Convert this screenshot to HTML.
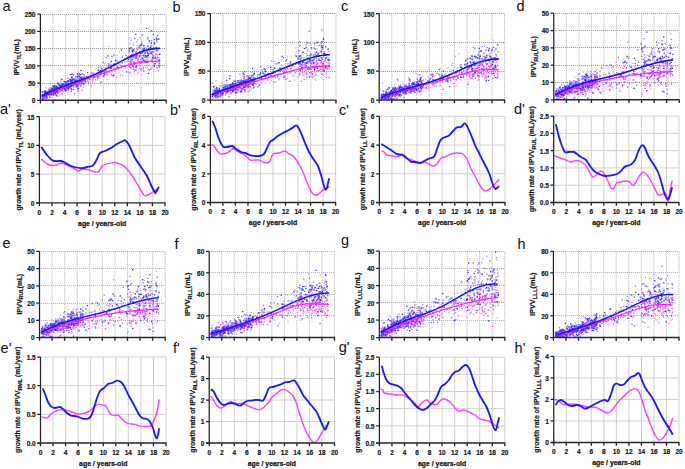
<!DOCTYPE html>
<html><head><meta charset="utf-8"><style>
html,body{margin:0;padding:0;background:#fff;}
svg{display:block;}
text{font-family:"Liberation Sans",sans-serif;}
.tk{font-size:7.9px;letter-spacing:-0.1px;font-weight:bold;fill:#1a1a1a;stroke:#1a1a1a;stroke-width:0.22px;}
.xl{font-size:6.9px;font-weight:bold;fill:#1a1a1a;stroke:#1a1a1a;stroke-width:0.25px;}
.yl{font-size:7.3px;font-weight:bold;fill:#1a1a1a;stroke:#1a1a1a;stroke-width:0.22px;}
.yl2{font-size:7.2px;font-weight:bold;fill:#1a1a1a;stroke:#1a1a1a;stroke-width:0.2px;}
.sb{font-size:5.8px;}
.lt{font-size:14.5px;fill:#111;}
</style></head><body>
<svg width="685" height="469" viewBox="0 0 685 469">
<rect width="685" height="469" fill="#fff"/>
<path d="M52.98,100V14.00M65.56,100V14.00M78.14,100V14.00M90.72,100V14.00M103.30,100V14.00M115.88,100V14.00M128.46,100V14.00M141.04,100V14.00M153.62,100V14.00M166.20,100V14.00" stroke="#f0f0f0" stroke-width="0.9" fill="none"/>
<path d="M52.98,100V14.00M65.56,100V14.00M78.14,100V14.00M90.72,100V14.00M103.30,100V14.00M115.88,100V14.00M128.46,100V14.00M141.04,100V14.00M153.62,100V14.00M166.20,100V14.00" stroke="#bababa" stroke-width="0.9" stroke-dasharray="1,1" fill="none"/>
<path d="M40,83.50H166.20M40,65.50H166.20M40,48.50H166.20M40,31.50H166.20M40,14.50H166.20" stroke="#a6a6a6" stroke-width="1" stroke-dasharray="1.2,0.8" fill="none"/>
<path d="M139.4 48.4h0M69.4 81.3h0M60.8 91.8h0M49.9 91.9h0M61.8 84.7h0M125.8 68.2h0M82.6 83.2h0M102.1 73.1h0M149.1 71.9h0M58.9 90.4h0M122.6 70.8h0M149.5 57.2h0M80.5 82.6h0M139.3 62.4h0M54.5 90.3h0M55.4 90.1h0M127.6 62.0h0M147.4 65.0h0M61.7 91.0h0M51.6 92.9h0M51.1 95.1h0M134.5 64.0h0M128.7 66.7h0M133.2 50.8h0M150.9 67.8h0M138.3 72.4h0M157.5 69.6h0M81.2 79.2h0M131.3 64.3h0M143.4 70.3h0M140.2 52.4h0M83.4 81.4h0M66.6 83.5h0M63.3 87.6h0M46.4 92.7h0M137.4 57.0h0M57.4 92.2h0M82.6 82.8h0M152.2 62.5h0M150.7 53.2h0M151.4 46.7h0M69.4 84.7h0M134.1 73.6h0M143.4 67.4h0M135.1 66.4h0M92.0 72.8h0M149.6 59.1h0M83.8 80.6h0M137.2 64.6h0M80.0 78.4h0M151.6 67.7h0M51.5 92.9h0M45.8 94.4h0M54.2 95.5h0M60.8 91.9h0M139.7 56.3h0M156.7 60.8h0M75.5 81.9h0M138.5 55.5h0M147.4 57.9h0M159.8 63.1h0M75.2 82.2h0M125.8 55.9h0M93.7 72.8h0M68.6 89.8h0M65.5 86.5h0M133.3 58.0h0M62.2 84.2h0M126.7 72.4h0M129.9 61.8h0M78.5 83.8h0M119.5 72.2h0M129.5 63.7h0M71.4 84.1h0M75.2 78.7h0M149.3 50.3h0M145.7 68.0h0M135.6 66.5h0M72.3 83.2h0M48.6 93.9h0M75.0 80.1h0M50.6 94.9h0M81.3 77.6h0M131.0 62.9h0M139.1 61.1h0M42.7 94.5h0M46.0 96.7h0M53.2 91.0h0M121.1 61.9h0M77.3 76.2h0M42.7 96.7h0M48.5 92.9h0M59.5 91.5h0M73.2 84.0h0M77.6 85.0h0M136.3 57.9h0M68.5 85.5h0M157.1 65.6h0M61.5 91.9h0M78.0 82.6h0M53.5 93.2h0M68.5 85.4h0M67.3 86.8h0M104.8 63.3h0M57.3 89.3h0M80.0 76.9h0M72.3 86.2h0M60.8 87.7h0M147.9 54.1h0M68.3 82.7h0M103.9 76.4h0M44.2 93.9h0M148.7 57.2h0M51.3 92.5h0M88.0 84.1h0M60.3 88.4h0M95.5 68.9h0M66.3 87.1h0M48.9 91.8h0M43.8 91.3h0M148.6 69.7h0M129.3 54.0h0M57.0 91.5h0M45.7 96.0h0M46.0 94.1h0M76.7 79.3h0M152.1 60.5h0M69.2 88.8h0M149.8 57.5h0M154.3 65.0h0M82.0 80.2h0M133.1 62.6h0M76.6 84.6h0M71.1 82.2h0M75.9 83.2h0M62.3 84.2h0M132.4 65.3h0M63.4 86.4h0M134.3 50.0h0M52.7 90.0h0M149.2 65.1h0M133.0 66.0h0M82.9 78.3h0M84.3 80.9h0M77.4 73.7h0M136.0 66.9h0M62.1 88.7h0M137.2 56.7h0M64.8 88.0h0M136.8 83.0h0M133.8 58.5h0M101.5 66.4h0M55.7 93.9h0M68.7 85.2h0M74.6 84.5h0M151.9 60.3h0M46.2 97.4h0M66.9 84.8h0M84.9 76.3h0M133.6 57.2h0M82.6 82.6h0M63.3 88.5h0M148.9 53.5h0M159.3 57.6h0M78.9 80.0h0M44.7 90.5h0M81.0 82.4h0M149.6 61.6h0M76.8 83.4h0M97.0 75.7h0M46.0 96.4h0M143.7 50.7h0M148.0 66.8h0M60.1 88.3h0M78.4 75.2h0M52.8 92.7h0M43.1 94.8h0M76.6 82.0h0M84.4 79.4h0" stroke="#ff33ff" stroke-opacity="0.35" stroke-width="1.35" stroke-linecap="square" fill="none"/>
<path d="M155.8 62.4h0M62.2 88.6h0M42.4 97.8h0M68.9 83.2h0M143.2 69.2h0M113.7 74.4h0M50.0 90.6h0M55.1 94.1h0M146.0 60.0h0M158.0 59.9h0M42.7 99.3h0M124.5 66.3h0M53.5 91.9h0M55.4 93.0h0M52.8 87.3h0M51.1 89.6h0M78.2 88.3h0M156.2 60.2h0M152.4 62.2h0M114.1 75.5h0M82.0 77.4h0M54.0 89.5h0M136.8 48.2h0M132.5 52.3h0M57.6 89.4h0M131.6 59.8h0M60.1 89.0h0M57.5 89.7h0M81.5 83.5h0M122.6 75.6h0M64.0 88.7h0M53.1 91.4h0M146.7 60.2h0M73.1 85.0h0M47.5 92.9h0M134.6 62.3h0M70.6 87.8h0M105.3 68.3h0M66.4 85.7h0M49.5 93.3h0M111.2 64.3h0M66.1 85.7h0M81.7 78.3h0M129.7 63.5h0M48.3 94.9h0M80.3 85.5h0M107.2 79.6h0M50.0 89.8h0M93.6 77.0h0M145.5 67.0h0M139.7 68.6h0M157.8 51.4h0M59.4 90.2h0M45.0 95.5h0M61.4 86.9h0M145.4 57.1h0M100.5 66.6h0M68.4 90.9h0M65.9 82.3h0M110.1 67.5h0M130.4 72.2h0M78.1 81.2h0M138.7 72.1h0M152.9 61.6h0M83.5 77.7h0M91.1 85.9h0M156.9 54.2h0M76.4 82.8h0M116.5 77.1h0M68.6 90.2h0M57.9 82.7h0M108.6 72.9h0M82.0 90.5h0M71.1 82.6h0M59.9 90.8h0M66.6 87.9h0M57.4 91.0h0M79.3 84.1h0M51.7 90.4h0M55.0 94.4h0M106.2 74.6h0M153.3 58.3h0M42.9 96.4h0M70.4 85.4h0M48.9 88.3h0M137.6 61.1h0M74.9 85.3h0M147.7 57.2h0M42.3 94.7h0M135.9 59.9h0M45.9 98.0h0M133.4 53.8h0M78.3 72.4h0M49.7 90.7h0M159.4 61.4h0M53.7 90.2h0M141.5 62.3h0M133.1 65.4h0M75.9 76.5h0M53.9 88.9h0M131.2 64.8h0M75.4 81.1h0M141.6 74.8h0M145.3 53.3h0M116.2 67.7h0M145.8 60.5h0M79.0 82.1h0M127.0 61.2h0M135.6 58.7h0M73.2 89.5h0M54.9 88.3h0M59.7 88.2h0M77.8 83.7h0M60.3 90.9h0M156.8 57.6h0M131.7 61.0h0M83.4 76.8h0M59.1 87.8h0M80.8 85.9h0M157.4 58.2h0M49.9 94.5h0M55.0 88.4h0M57.8 92.5h0M45.5 94.7h0M157.9 51.4h0M57.0 89.4h0M78.0 89.6h0M42.4 98.5h0M59.0 94.9h0M142.2 58.2h0M57.1 91.9h0M45.1 98.3h0M146.0 47.8h0M84.1 78.1h0M92.5 80.4h0M130.2 63.1h0M73.3 78.8h0M139.6 64.9h0M154.0 65.0h0M132.8 66.6h0M82.6 82.2h0M114.3 66.9h0M76.8 80.5h0M71.9 85.8h0M106.9 66.1h0M45.7 87.7h0M50.5 92.5h0M71.1 85.1h0M49.7 94.4h0M66.2 88.4h0M61.0 90.0h0M55.2 92.1h0M89.8 79.2h0M140.0 47.7h0M67.0 84.6h0M137.3 73.9h0M63.1 87.2h0M82.2 81.4h0M155.9 50.0h0M80.6 80.9h0M70.5 86.3h0M77.9 83.5h0M143.2 69.8h0" stroke="#ff33ff" stroke-opacity="0.60" stroke-width="1.35" stroke-linecap="square" fill="none"/>
<path d="M42.8 94.6h0M87.8 81.0h0M62.3 88.0h0M139.1 56.1h0M67.2 84.2h0M58.4 90.4h0M53.4 91.5h0M137.8 61.0h0M132.6 65.8h0M158.9 63.9h0M54.8 94.0h0M52.3 92.6h0M42.5 96.0h0M130.7 62.2h0M53.4 86.6h0M43.9 94.8h0M76.1 82.7h0M51.1 94.3h0M77.6 86.1h0M113.5 64.4h0M101.7 73.5h0M44.0 97.3h0M102.5 73.6h0M111.6 75.0h0M60.3 86.8h0M71.7 85.8h0M79.6 77.2h0M155.0 63.6h0M131.1 67.8h0M46.7 98.4h0M92.5 83.0h0M69.1 87.0h0M116.9 61.4h0M73.4 84.8h0M110.0 65.3h0M60.3 85.5h0M129.1 72.9h0M143.2 67.4h0M49.0 95.4h0M73.2 79.2h0M159.4 63.7h0M120.5 74.9h0M107.0 75.1h0M95.9 77.1h0M129.6 66.6h0M140.0 63.4h0M99.0 78.1h0M132.9 56.2h0M152.0 54.4h0M82.4 80.8h0M81.9 81.2h0M76.2 82.2h0M49.0 93.5h0M63.2 86.4h0M134.6 71.5h0M48.8 94.1h0M72.6 80.9h0M157.0 68.0h0M54.9 90.8h0M48.0 94.3h0M79.9 78.3h0M81.6 83.4h0M135.5 67.3h0M45.6 93.0h0M93.1 73.4h0M59.1 91.8h0M154.6 57.7h0M76.8 84.5h0M105.3 72.5h0M89.8 79.9h0M134.9 55.7h0M145.5 60.8h0M144.8 62.4h0M56.7 92.3h0M136.5 67.5h0M132.3 64.9h0M54.8 90.7h0M53.6 91.6h0M159.4 67.2h0M67.1 87.7h0M46.1 95.5h0M64.2 88.9h0M61.6 84.0h0M118.0 65.8h0M148.1 54.3h0M76.2 83.9h0M106.9 73.5h0M58.4 85.3h0M61.0 89.8h0M159.7 60.2h0M77.9 84.8h0M156.0 54.5h0M59.6 84.6h0M68.9 88.0h0M64.9 86.4h0M61.4 85.5h0M62.5 88.4h0M57.6 90.2h0M57.4 87.5h0M58.2 89.7h0M74.4 93.9h0M66.9 88.2h0M54.1 91.6h0M100.7 73.8h0M52.9 89.7h0M153.3 56.4h0M55.4 93.4h0M105.9 71.0h0M67.9 78.4h0M62.1 90.8h0M58.0 89.0h0M78.3 84.9h0M83.6 83.7h0M143.9 71.4h0M55.2 90.0h0M138.2 59.6h0M158.0 57.4h0M136.3 56.4h0M81.1 82.1h0M159.5 65.9h0M92.1 73.7h0M54.7 89.6h0M81.6 84.1h0M73.2 82.4h0M68.9 87.3h0M54.6 91.4h0M43.8 96.8h0M45.4 96.2h0M143.8 60.6h0M44.5 93.5h0M62.2 93.9h0M69.4 84.7h0M97.7 76.2h0M136.5 55.0h0M86.5 76.3h0M121.5 66.4h0M157.4 55.8h0M51.4 88.6h0M61.8 88.3h0M52.8 93.7h0M135.4 69.8h0M62.0 89.9h0M135.1 56.7h0M48.2 94.6h0M42.5 95.2h0M60.9 81.1h0M58.0 89.1h0M45.6 96.3h0M58.2 87.3h0M138.1 58.5h0M136.9 65.1h0M57.3 92.0h0M133.8 69.2h0M132.6 59.4h0M143.2 67.9h0M60.2 87.0h0M141.0 68.6h0M104.2 73.9h0" stroke="#ff33ff" stroke-opacity="0.90" stroke-width="1.35" stroke-linecap="square" fill="none"/>
<path d="M65.8 89.8h0M132.1 57.5h0M49.5 96.8h0M79.0 76.5h0M44.6 97.4h0M100.7 74.0h0M43.7 97.5h0M119.3 51.8h0M51.5 89.3h0M137.7 39.8h0M114.9 64.6h0M58.1 90.1h0M45.8 91.4h0M71.3 79.0h0M49.6 92.7h0M67.3 87.3h0M129.7 38.0h0M126.0 66.0h0M156.9 59.1h0M89.0 74.9h0M137.8 53.5h0M134.1 61.4h0M155.3 56.2h0M60.2 85.7h0M69.0 84.9h0M146.1 57.3h0M141.7 41.7h0M128.9 66.0h0M152.3 56.1h0M59.8 84.1h0M67.0 83.0h0M65.1 89.9h0M50.4 87.9h0M42.7 92.3h0M143.6 49.7h0M61.1 85.2h0M109.6 67.5h0M120.0 64.8h0M156.8 38.3h0M67.5 86.9h0M53.1 89.7h0M158.1 48.9h0M67.6 87.6h0M68.7 87.5h0M58.9 89.3h0M151.1 46.3h0M71.9 80.5h0M59.1 87.4h0M50.1 97.5h0M46.4 96.2h0M75.7 84.5h0M91.2 72.9h0M64.5 86.9h0M138.1 46.5h0M54.2 88.4h0M72.6 82.5h0M79.6 83.1h0M59.2 86.6h0M83.2 87.4h0M84.9 79.6h0M154.7 51.5h0M137.0 56.1h0M110.7 62.3h0M133.9 55.9h0M132.3 44.5h0M142.3 49.2h0M53.7 93.7h0M108.6 46.3h0M151.3 51.9h0M148.9 41.0h0M158.6 70.5h0M96.7 73.4h0M80.8 84.5h0M99.8 72.0h0M60.9 86.0h0M159.4 48.3h0M73.0 78.8h0M53.0 91.3h0M84.4 77.7h0M82.9 79.0h0M139.6 55.9h0M141.6 51.2h0M130.3 67.7h0M132.5 54.1h0M50.7 94.1h0M147.0 61.8h0M143.1 55.1h0M98.2 70.2h0M90.7 75.4h0M158.8 54.5h0M51.9 91.8h0M118.2 68.1h0M73.3 86.0h0M70.1 80.9h0M123.4 59.8h0M130.1 68.0h0M135.1 63.8h0M57.8 83.8h0M158.7 38.8h0M71.0 84.6h0M105.1 69.8h0M51.0 93.9h0M54.4 88.1h0M144.9 49.4h0M152.2 67.1h0M144.1 52.3h0M95.6 79.6h0M52.9 91.4h0M56.7 86.8h0M71.3 91.8h0M133.6 42.9h0M76.6 78.7h0M74.6 83.7h0M75.1 78.5h0M45.5 94.2h0M44.0 94.9h0M80.0 74.9h0M76.5 78.9h0M43.5 97.6h0M61.0 86.6h0M47.0 92.3h0M132.0 50.1h0M50.2 91.4h0M51.4 92.6h0M81.4 81.6h0M62.0 86.7h0M53.6 91.6h0M76.2 76.3h0M51.2 87.7h0M158.0 35.2h0M79.2 81.3h0M129.1 52.1h0M50.2 90.2h0M117.4 55.6h0M136.5 41.8h0M46.9 94.7h0M67.8 85.7h0M63.1 87.2h0M156.5 47.0h0M46.3 95.7h0M43.5 92.2h0M78.9 88.5h0M143.6 59.1h0M131.5 48.8h0M88.9 78.6h0M124.7 61.7h0M52.2 94.1h0M134.4 54.8h0M73.7 86.0h0M136.8 45.8h0M139.9 37.7h0M74.8 81.3h0M101.4 68.2h0M48.9 94.4h0M73.1 81.2h0M64.8 85.3h0M153.4 52.3h0M72.1 83.8h0M148.0 68.5h0M84.5 80.9h0M47.4 97.9h0M107.5 55.7h0M67.5 81.0h0M78.5 82.1h0M54.4 94.4h0M81.5 78.0h0M64.2 85.9h0M131.1 65.1h0M140.8 59.7h0M70.8 82.1h0M59.8 89.1h0M132.6 55.4h0M155.1 58.2h0M152.1 47.9h0M133.1 55.7h0M147.9 48.5h0M132.3 59.7h0M133.7 45.3h0M140.0 57.2h0M49.6 91.7h0M49.1 89.7h0M50.8 91.4h0M49.7 93.4h0M99.8 72.8h0M57.5 88.3h0M64.6 90.8h0M111.5 66.7h0M73.7 87.3h0M159.1 59.0h0M44.5 93.0h0M67.1 87.0h0M75.3 90.1h0M79.8 78.8h0M129.7 49.0h0M147.0 59.1h0M55.7 93.2h0M77.8 81.7h0M60.4 82.8h0M55.3 91.7h0M58.9 83.5h0M86.3 81.1h0M60.7 86.1h0M80.0 81.2h0M146.5 61.9h0M155.1 39.4h0M137.7 39.9h0M75.7 83.4h0M51.8 93.3h0M83.4 82.9h0M67.5 86.5h0M80.9 81.4h0M76.7 81.3h0M139.6 56.9h0M71.4 83.5h0M55.7 86.3h0M83.7 81.5h0M100.4 68.9h0M52.7 92.4h0M75.1 77.2h0M140.9 70.2h0M157.1 42.5h0M53.4 86.8h0M48.8 90.0h0M68.4 88.8h0M97.5 79.5h0M141.8 53.1h0M47.5 97.3h0M82.4 74.0h0M133.1 61.6h0M48.9 94.0h0M56.3 87.7h0M134.0 51.1h0M81.6 80.1h0M144.0 57.6h0M44.3 91.6h0M131.5 63.1h0M47.9 92.3h0" stroke="#2a2aff" stroke-opacity="0.35" stroke-width="1.35" stroke-linecap="square" fill="none"/>
<path d="M52.2 90.1h0M51.1 89.1h0M98.4 67.4h0M64.3 84.6h0M69.8 84.5h0M158.8 39.2h0M127.6 58.5h0M84.8 77.2h0M52.5 92.9h0M75.6 83.8h0M44.3 94.4h0M130.8 58.9h0M57.8 93.0h0M46.8 93.8h0M143.8 49.1h0M78.7 81.4h0M81.1 78.1h0M142.8 60.0h0M130.1 43.8h0M126.1 55.4h0M51.4 91.1h0M71.9 78.0h0M48.5 91.9h0M148.0 37.5h0M74.2 79.4h0M69.0 86.2h0M74.1 79.3h0M145.1 62.1h0M85.0 80.2h0M46.0 92.8h0M82.0 80.8h0M107.9 72.0h0M142.2 53.2h0M98.7 76.1h0M57.5 91.1h0M47.2 91.3h0M131.6 56.6h0M73.4 89.3h0M44.6 96.7h0M93.9 77.4h0M71.2 80.4h0M55.8 87.2h0M49.7 97.2h0M54.0 92.8h0M133.8 57.0h0M133.8 49.7h0M49.1 91.1h0M77.4 73.6h0M42.3 98.1h0M150.3 47.3h0M142.5 35.0h0M73.5 84.7h0M62.2 85.4h0M75.5 80.8h0M67.4 86.6h0M51.4 88.5h0M130.4 61.0h0M149.0 41.8h0M118.6 68.6h0M152.9 55.0h0M57.0 89.0h0M45.2 91.6h0M71.1 83.3h0M100.0 71.0h0M138.8 47.4h0M149.4 69.7h0M92.8 79.0h0M77.0 87.3h0M113.6 68.9h0M64.7 85.9h0M128.0 56.3h0M153.6 47.1h0M44.6 94.1h0M42.3 94.8h0M102.9 62.4h0M159.3 65.4h0M131.0 40.1h0M71.3 91.4h0M73.6 75.0h0M70.8 80.5h0M148.0 61.3h0M102.0 69.5h0M147.7 38.7h0M53.6 91.8h0M60.3 87.6h0M49.0 91.7h0M71.7 89.6h0M103.0 71.2h0M83.7 79.8h0M156.8 40.8h0M134.8 38.5h0M55.0 87.8h0M51.9 92.0h0M145.5 57.2h0M122.3 57.2h0M137.4 49.7h0M116.2 64.2h0M77.3 80.6h0M48.5 94.2h0M45.1 95.4h0M149.7 51.1h0M66.6 82.7h0M88.2 77.1h0M143.3 50.0h0M78.8 83.5h0M63.9 84.4h0M63.5 83.9h0M55.2 91.8h0M101.9 69.0h0M63.6 84.8h0M124.0 66.6h0M65.0 81.6h0M88.5 82.6h0M76.7 80.3h0M56.9 89.4h0M62.8 89.6h0M104.0 75.5h0M157.3 35.7h0M136.1 70.2h0M64.5 89.1h0M141.5 45.3h0M103.7 76.2h0M87.8 78.8h0M144.2 60.5h0M70.5 81.8h0M82.0 74.0h0M54.5 92.4h0M49.1 89.8h0M114.4 64.5h0M133.2 49.5h0M140.0 66.3h0M149.8 48.5h0M97.6 77.7h0M53.5 91.2h0M51.9 93.4h0M54.5 92.7h0M53.8 93.3h0M67.8 88.2h0M43.6 95.7h0M68.5 85.7h0M106.5 57.5h0M51.3 93.3h0M73.3 83.9h0M154.5 39.7h0M79.2 82.4h0M71.1 86.2h0M108.4 55.9h0M54.4 86.6h0M55.2 93.0h0M99.0 74.1h0M53.6 90.6h0M47.7 94.3h0M106.1 68.1h0M70.2 81.3h0M53.1 88.4h0M155.8 47.7h0M78.1 78.7h0M69.2 83.9h0M78.0 91.2h0M81.0 85.8h0M147.3 55.6h0M43.0 99.0h0M149.7 40.7h0M144.6 53.7h0M48.7 94.0h0M137.3 55.2h0M47.0 93.0h0M133.5 50.3h0M69.7 79.6h0M125.0 65.6h0M87.3 77.1h0M150.8 45.4h0M44.9 93.5h0M47.0 97.0h0M97.8 76.9h0M56.8 90.7h0M60.7 86.2h0M71.7 84.7h0M130.1 56.0h0M66.1 85.1h0M48.9 93.2h0M131.0 57.6h0M147.1 51.3h0M51.3 92.4h0M151.7 40.6h0M63.7 87.6h0M54.9 92.9h0M68.3 80.6h0M72.1 83.1h0M63.0 84.1h0M77.5 74.3h0M57.6 83.6h0M60.7 89.6h0M66.4 86.7h0M83.8 79.5h0M58.9 84.8h0M108.9 65.0h0M51.4 89.4h0M52.8 89.6h0M64.8 89.3h0M141.8 44.0h0M59.2 87.7h0M151.3 53.3h0M147.5 52.5h0M152.6 58.0h0M149.3 51.1h0M133.4 66.6h0M79.4 76.2h0M83.7 79.2h0M46.1 99.1h0M72.3 82.7h0M45.0 98.2h0M63.6 91.3h0" stroke="#2a2aff" stroke-opacity="0.60" stroke-width="1.35" stroke-linecap="square" fill="none"/>
<path d="M49.0 94.3h0M56.3 91.5h0M140.0 53.9h0M84.1 74.8h0M101.1 82.1h0M71.1 88.7h0M154.4 42.7h0M145.8 55.7h0M66.9 81.4h0M140.0 45.7h0M46.3 92.5h0M114.0 64.1h0M144.2 48.8h0M72.1 77.0h0M46.5 94.6h0M58.9 89.1h0M141.2 44.5h0M70.0 85.0h0M149.1 53.6h0M54.4 88.0h0M154.3 66.4h0M98.2 70.5h0M45.8 92.8h0M49.2 91.6h0M62.3 88.6h0M128.9 59.5h0M146.8 49.6h0M155.0 63.8h0M129.4 48.4h0M70.9 84.7h0M69.6 84.6h0M148.6 48.4h0M147.7 62.0h0M68.7 86.7h0M93.5 76.9h0M42.4 92.0h0M72.0 84.1h0M143.8 45.7h0M150.6 47.7h0M71.2 81.9h0M47.2 92.4h0M111.4 67.5h0M145.5 52.8h0M77.7 86.0h0M59.7 85.6h0M135.8 34.3h0M64.6 89.1h0M75.4 82.0h0M132.1 55.4h0M117.4 67.2h0M148.0 46.2h0M146.5 28.3h0M131.3 55.2h0M52.6 91.7h0M79.5 79.8h0M51.4 93.7h0M64.4 81.9h0M139.8 55.9h0M129.3 51.0h0M157.0 50.4h0M114.0 55.1h0M65.1 88.3h0M152.0 60.2h0M150.9 53.0h0M75.3 82.8h0M44.7 93.9h0M56.2 95.0h0M75.5 82.2h0M100.7 70.7h0M49.5 93.9h0M55.9 87.9h0M65.6 83.1h0M65.3 90.1h0M46.3 92.8h0M157.1 39.6h0M111.4 61.4h0M154.6 43.7h0M56.8 86.8h0M52.3 88.7h0M70.5 79.5h0M57.3 90.8h0M115.6 60.5h0M104.7 74.2h0M53.4 94.8h0M139.8 62.1h0M110.8 68.3h0M146.7 56.4h0M104.4 71.9h0M70.9 86.3h0M159.8 54.2h0M65.6 90.5h0M75.0 80.2h0M142.4 58.2h0M81.5 77.2h0M136.1 58.0h0M67.8 81.2h0M140.8 53.6h0M47.9 93.8h0M151.4 43.3h0M143.7 55.8h0M68.7 87.4h0M72.2 84.0h0M141.6 62.0h0M69.9 86.7h0M142.7 50.8h0M157.0 50.6h0M57.2 96.0h0M53.3 86.3h0M121.4 50.0h0M65.4 85.3h0M52.6 88.7h0M158.9 60.3h0M100.5 74.8h0M56.0 85.7h0M148.3 55.5h0M132.3 50.7h0M60.6 88.1h0M77.5 77.0h0M64.1 81.4h0M152.5 57.7h0M51.3 94.7h0M71.3 83.1h0M145.4 55.6h0M150.8 69.1h0M147.6 52.8h0M72.2 80.4h0M54.7 92.0h0M152.3 51.7h0M63.1 84.3h0M42.3 96.5h0M76.1 86.6h0M62.6 84.2h0M80.3 74.6h0M81.7 79.9h0M74.6 83.8h0M134.2 64.1h0M151.0 42.8h0M69.5 85.3h0M80.9 70.3h0M73.0 82.5h0M45.2 90.7h0M73.0 84.6h0M55.1 88.7h0M71.9 85.0h0M156.5 38.4h0M113.1 75.7h0M77.3 82.6h0M72.3 82.9h0M46.5 95.8h0M134.5 63.2h0M122.4 62.8h0M72.0 74.2h0M76.2 80.8h0M64.1 86.3h0M80.6 77.6h0M143.2 55.6h0M132.5 51.2h0M131.1 47.6h0M146.8 62.2h0M71.0 83.5h0M70.8 83.6h0M58.7 89.3h0M68.5 81.1h0M85.3 82.0h0M77.9 76.3h0M58.2 83.1h0M153.4 34.4h0M53.1 89.7h0M155.2 58.0h0M57.2 87.2h0M44.9 92.4h0M108.2 67.1h0M61.8 86.1h0M101.1 72.4h0M108.9 63.8h0M42.7 98.7h0M70.5 74.6h0M70.5 86.6h0M67.9 83.8h0M84.3 78.3h0M71.6 76.9h0M94.2 76.8h0M81.8 78.6h0M49.6 90.7h0M66.6 89.9h0M151.5 30.8h0M71.5 82.0h0M76.6 85.4h0M87.6 72.6h0M66.3 84.5h0M153.6 49.1h0M83.6 83.7h0M66.0 84.9h0M136.3 66.2h0M79.4 80.7h0M131.8 54.8h0M54.3 85.7h0M126.6 71.8h0M148.5 73.4h0M68.4 88.7h0M114.6 69.8h0M111.9 56.4h0M136.2 52.0h0M79.2 73.6h0M144.1 48.1h0M77.9 88.7h0M61.9 79.2h0M72.8 79.6h0M70.9 80.5h0M140.3 51.6h0" stroke="#2a2aff" stroke-opacity="0.90" stroke-width="1.35" stroke-linecap="square" fill="none"/>
<path d="M42.5,96.3 43.5,95.8 44.5,95.4 45.5,95.0 46.5,94.5 47.5,94.1 48.5,93.7 49.5,93.2 50.5,92.8 51.5,92.4 52.5,92.0 53.5,91.6 54.5,91.1 55.5,90.7 56.5,90.3 57.5,89.9 58.5,89.5 59.5,89.1 60.5,88.7 61.5,88.3 62.5,87.9 63.5,87.5 64.5,87.1 65.5,86.7 66.5,86.3 67.5,85.9 68.5,85.6 69.5,85.2 70.5,84.8 71.5,84.4 72.5,84.0 73.5,83.7 74.5,83.3 75.5,82.9 76.5,82.6 77.5,82.2 78.5,81.8 79.5,81.5 80.5,81.1 81.5,80.7 82.5,80.4 83.5,80.0 84.5,79.6 85.5,79.3 86.5,78.9 87.5,78.6 88.5,78.2 89.5,77.9 90.5,77.5 91.5,77.2 92.5,76.8 93.5,76.5 94.5,76.1 95.5,75.8 96.5,75.4 97.5,75.1 98.5,74.7 99.5,74.4 100.5,74.1 101.5,73.7 102.5,73.4 103.5,73.0 104.5,72.7 105.5,72.4 106.5,72.0 107.5,71.7 108.5,71.3 109.5,71.0 110.5,70.7 111.5,70.3 112.5,70.0 113.5,69.7 114.5,69.3 115.5,69.0 116.5,68.7 117.5,68.3 118.5,68.0 119.5,67.7 120.5,67.4 121.5,67.1 122.5,66.7 123.5,66.4 124.5,66.1 125.5,65.8 126.5,65.5 127.5,65.3 128.5,65.0 129.5,64.7 130.5,64.4 131.5,64.2 132.5,63.9 133.5,63.7 134.5,63.5 135.5,63.2 136.5,63.0 137.5,62.8 138.5,62.6 139.5,62.5 140.5,62.3 141.5,62.1 142.5,62.0 143.5,61.9 144.5,61.7 145.5,61.6 146.5,61.5 147.5,61.5 148.5,61.4 149.5,61.3 150.5,61.3 151.5,61.3 152.5,61.3 153.5,61.3 154.5,61.4 155.5,61.4 156.5,61.5 157.5,61.6 158.5,61.7 159.5,61.8" stroke="#ff22ff" stroke-width="1.35" fill="none" stroke-linecap="round" stroke-linejoin="round"/>
<path d="M42.5,95.8 43.5,95.3 44.5,94.7 45.5,94.2 46.5,93.7 47.5,93.2 48.5,92.7 49.5,92.2 50.5,91.7 51.5,91.3 52.5,90.8 53.5,90.4 54.5,89.9 55.5,89.5 56.5,89.1 57.5,88.7 58.5,88.3 59.5,87.9 60.5,87.5 61.5,87.1 62.5,86.7 63.5,86.3 64.5,85.9 65.5,85.6 66.5,85.2 67.5,84.8 68.5,84.5 69.5,84.1 70.5,83.8 71.5,83.4 72.5,83.0 73.5,82.7 74.5,82.3 75.5,82.0 76.5,81.6 77.5,81.3 78.5,80.9 79.5,80.5 80.5,80.2 81.5,79.8 82.5,79.4 83.5,79.0 84.5,78.7 85.5,78.3 86.5,77.9 87.5,77.5 88.5,77.1 89.5,76.7 90.5,76.3 91.5,75.8 92.5,75.4 93.5,75.0 94.5,74.5 95.5,74.1 96.5,73.7 97.5,73.2 98.5,72.7 99.5,72.3 100.5,71.8 101.5,71.3 102.5,70.9 103.5,70.4 104.5,69.9 105.5,69.4 106.5,68.9 107.5,68.4 108.5,67.9 109.5,67.4 110.5,66.9 111.5,66.3 112.5,65.8 113.5,65.3 114.5,64.8 115.5,64.3 116.5,63.7 117.5,63.2 118.5,62.7 119.5,62.1 120.5,61.6 121.5,61.1 122.5,60.6 123.5,60.0 124.5,59.5 125.5,59.0 126.5,58.5 127.5,58.0 128.5,57.5 129.5,57.0 130.5,56.5 131.5,56.0 132.5,55.6 133.5,55.1 134.5,54.7 135.5,54.2 136.5,53.8 137.5,53.4 138.5,53.0 139.5,52.6 140.5,52.2 141.5,51.8 142.5,51.5 143.5,51.2 144.5,50.8 145.5,50.5 146.5,50.2 147.5,50.0 148.5,49.7 149.5,49.5 150.5,49.3 151.5,49.1 152.5,48.9 153.5,48.8 154.5,48.6 155.5,48.5 156.5,48.5 157.5,48.4 158.5,48.4 159.5,48.4" stroke="#1414ff" stroke-width="1.60" fill="none" stroke-linecap="round" stroke-linejoin="round"/>
<path d="M40.40,14.00V100.30M37.20,100.30H40.40M37.20,83.04H40.40M37.20,65.78H40.40M37.20,48.52H40.40M37.20,31.26H40.40M37.20,14.00H40.40M40.40,100.30V103.60" stroke="#232323" stroke-width="1.25" fill="none"/>
<path d="M40.40,100.30H166.70M52.98,100.30V103.60M65.56,100.30V103.60M78.14,100.30V103.60M90.72,100.30V103.60M103.30,100.30V103.60M115.88,100.30V103.60M128.46,100.30V103.60M141.04,100.30V103.60M153.62,100.30V103.60M166.20,100.30V103.60" stroke="#2a2a2a" stroke-width="1.4" fill="none"/>
<text transform="translate(35.40,103.20) scale(0.83,1)" text-anchor="end" class="tk">0</text>
<text transform="translate(35.40,85.94) scale(0.83,1)" text-anchor="end" class="tk">50</text>
<text transform="translate(35.40,68.68) scale(0.83,1)" text-anchor="end" class="tk">100</text>
<text transform="translate(35.40,51.42) scale(0.83,1)" text-anchor="end" class="tk">150</text>
<text transform="translate(35.40,34.16) scale(0.83,1)" text-anchor="end" class="tk">200</text>
<text transform="translate(35.40,16.90) scale(0.83,1)" text-anchor="end" class="tk">250</text>
<text transform="translate(19.40,57.25) rotate(-90)" text-anchor="middle" textLength="36.10" lengthAdjust="spacingAndGlyphs" class="yl">IPVV<tspan style="font-size:5.3px" dy="1.8">TL</tspan><tspan dy="-1.8">(mL)</tspan></text>
<text x="2.60" y="11.20" class="lt">a</text>
<path d="M222.96,100V13.50M235.52,100V13.50M248.08,100V13.50M260.64,100V13.50M273.20,100V13.50M285.76,100V13.50M298.32,100V13.50M310.88,100V13.50M323.44,100V13.50M336.00,100V13.50" stroke="#f0f0f0" stroke-width="0.9" fill="none"/>
<path d="M222.96,100V13.50M235.52,100V13.50M248.08,100V13.50M260.64,100V13.50M273.20,100V13.50M285.76,100V13.50M298.32,100V13.50M310.88,100V13.50M323.44,100V13.50M336.00,100V13.50" stroke="#bababa" stroke-width="0.9" stroke-dasharray="1,1" fill="none"/>
<path d="M210,71.50H336.00M210,42.50H336.00M210,13.50H336.00" stroke="#a6a6a6" stroke-width="1" stroke-dasharray="1.2,0.8" fill="none"/>
<path d="M215.2 94.4h0M314.5 64.7h0M265.6 82.9h0M323.6 68.9h0M219.5 91.7h0M275.6 81.7h0M230.3 87.3h0M256.7 81.6h0M281.1 69.7h0M292.2 66.5h0M232.2 86.6h0M285.3 79.4h0M320.1 73.3h0M220.9 96.0h0M251.0 81.5h0M229.8 89.2h0M308.4 69.9h0M234.3 90.7h0M245.7 85.8h0M214.0 93.9h0M323.5 65.5h0M326.9 69.3h0M238.4 82.4h0M251.4 80.6h0M219.6 92.0h0M281.5 67.3h0M246.3 84.6h0M315.7 65.5h0M226.8 89.5h0M322.0 70.3h0M220.4 91.1h0M252.3 80.5h0M220.2 93.0h0M235.5 87.5h0M230.4 87.6h0M323.4 70.2h0M317.0 66.6h0M213.8 92.6h0M320.2 63.2h0M231.2 90.4h0M232.9 89.1h0M248.4 82.7h0M218.3 94.4h0M225.3 93.0h0M300.7 70.2h0M299.9 65.7h0M249.6 84.8h0M306.2 66.2h0M309.7 72.6h0M227.8 91.5h0M229.6 84.7h0M312.5 66.8h0M231.7 85.5h0M227.7 90.8h0M251.4 81.4h0M249.3 86.0h0M253.7 82.3h0M213.4 94.6h0M300.7 70.9h0M248.1 79.4h0M223.6 91.6h0M244.8 88.2h0M234.2 87.3h0M230.4 88.3h0M243.9 83.3h0M322.2 64.5h0M305.5 64.9h0M237.7 90.1h0M294.7 73.5h0M329.4 69.2h0M304.0 75.8h0M303.3 74.6h0M299.9 66.1h0M295.9 69.7h0M231.7 87.7h0M321.8 78.0h0M253.0 79.7h0M269.4 82.4h0M223.1 91.1h0M247.8 80.9h0M252.2 83.3h0M215.7 91.3h0M242.3 89.4h0M217.7 93.9h0M299.1 62.1h0M217.9 93.0h0M303.8 62.4h0M213.4 93.5h0M323.8 63.9h0M234.5 86.5h0M279.0 73.3h0M225.2 94.8h0M291.5 70.6h0M233.6 90.1h0M212.3 90.1h0M227.7 89.7h0M303.1 75.8h0M228.9 91.2h0M219.3 93.9h0M299.6 68.7h0M277.0 74.8h0M322.5 71.1h0M304.3 66.8h0M229.0 89.5h0M300.0 63.3h0M239.8 87.9h0M328.2 69.0h0M298.2 76.8h0M307.5 60.4h0M225.7 89.5h0M287.4 75.7h0M225.4 88.7h0M245.6 85.1h0M226.9 92.5h0M235.9 84.5h0M218.5 94.5h0M232.6 90.2h0M243.1 85.6h0M285.2 78.1h0M311.6 72.8h0M315.0 72.5h0M307.0 73.7h0M248.1 82.7h0M235.5 88.4h0M324.3 69.8h0M317.1 70.3h0M247.8 92.0h0M235.8 87.8h0M303.3 67.1h0M262.3 78.5h0M323.7 69.2h0M243.8 86.5h0M295.1 80.2h0M246.2 87.8h0M240.1 82.0h0M243.6 87.7h0M253.8 83.8h0M298.4 70.8h0M238.7 88.5h0M239.9 83.9h0M228.2 86.7h0M312.0 68.4h0M250.0 80.5h0M325.5 66.4h0M312.2 67.6h0M262.2 82.8h0M323.1 57.3h0M215.6 95.2h0M233.2 87.1h0M296.5 77.3h0M232.2 88.9h0M230.2 88.2h0M324.3 69.4h0M259.2 77.7h0M262.6 80.1h0M300.8 70.1h0M227.9 86.0h0M269.2 78.0h0M245.4 84.7h0M246.6 86.4h0M234.8 90.7h0M246.1 83.5h0M323.0 69.8h0M276.1 74.6h0M241.0 88.7h0M302.1 66.1h0M321.8 57.7h0M312.2 66.5h0M215.1 96.3h0M250.2 88.8h0" stroke="#ff33ff" stroke-opacity="0.35" stroke-width="1.35" stroke-linecap="square" fill="none"/>
<path d="M233.8 85.0h0M247.9 82.1h0M218.0 92.1h0M319.4 65.6h0M214.4 92.1h0M328.8 66.0h0M326.6 66.6h0M236.2 87.1h0M270.4 74.7h0M310.6 65.3h0M235.1 88.0h0M244.9 80.7h0M219.3 92.2h0M224.9 91.3h0M235.8 84.9h0M246.7 82.0h0M236.5 84.5h0M251.2 77.6h0M220.5 93.4h0M216.6 92.9h0M283.3 67.1h0M273.3 72.0h0M247.6 84.8h0M213.6 94.7h0M229.8 85.6h0M323.0 65.6h0M287.2 63.9h0M225.4 91.6h0M279.4 78.8h0M235.6 88.1h0M228.7 91.1h0M228.5 90.1h0M224.2 91.4h0M232.6 88.1h0M245.1 91.2h0M238.8 89.8h0M221.7 89.8h0M229.8 89.6h0M240.1 82.7h0M216.4 93.3h0M237.4 87.1h0M243.7 83.9h0M224.4 91.0h0M249.8 75.6h0M226.8 89.2h0M252.8 83.9h0M247.4 88.0h0M318.2 66.9h0M299.4 69.4h0M233.7 87.9h0M217.6 89.0h0M212.7 93.8h0M278.1 74.6h0M226.4 91.3h0M246.4 83.0h0M237.8 85.0h0M252.9 81.0h0M220.3 94.8h0M250.6 75.6h0M233.3 85.7h0M315.6 68.0h0M311.9 71.4h0M271.2 80.3h0M322.0 71.6h0M299.4 75.4h0M314.9 62.9h0M324.5 69.3h0M238.9 85.4h0M311.8 63.4h0M312.3 68.4h0M326.5 73.0h0M228.2 91.3h0M241.8 84.5h0M214.7 90.9h0M302.3 71.5h0M316.7 62.7h0M326.1 65.7h0M307.9 68.9h0M306.2 72.6h0M249.6 83.5h0M251.0 79.4h0M228.1 89.3h0M249.0 79.5h0M217.4 97.2h0M270.0 74.1h0M250.2 83.2h0M247.0 79.7h0M298.9 71.5h0M236.7 87.4h0M225.4 89.4h0M228.2 90.9h0M313.8 61.4h0M248.7 79.6h0M252.6 81.9h0M222.5 92.6h0M302.6 68.6h0M216.4 93.2h0M247.4 86.0h0M287.9 63.5h0M315.7 80.0h0M213.5 89.9h0M232.8 89.0h0M232.8 87.4h0M236.2 89.8h0M274.1 76.7h0M323.6 79.4h0M326.5 62.6h0M309.9 60.3h0M286.3 71.0h0M228.9 90.3h0M214.7 94.7h0M238.2 87.1h0M304.5 72.1h0M238.3 84.7h0M302.6 72.7h0M273.6 70.6h0M286.6 78.3h0M247.6 83.3h0M230.9 85.0h0M329.6 66.6h0M244.6 81.3h0M248.0 85.4h0M253.1 80.8h0M227.2 92.1h0M248.0 85.1h0M243.2 83.5h0M217.6 94.5h0M253.5 84.3h0M247.5 85.1h0M249.9 86.5h0M253.0 83.6h0M213.3 93.9h0M275.3 75.5h0M225.4 89.8h0M328.7 51.7h0M235.5 91.6h0M218.5 91.8h0M325.0 60.4h0M230.9 88.2h0M251.5 89.3h0M246.8 76.4h0M222.8 84.9h0M254.9 80.8h0M329.4 67.1h0M214.4 94.9h0M226.5 90.1h0M224.7 90.9h0M234.7 89.7h0M241.4 83.3h0M298.0 70.8h0M253.3 80.2h0M216.3 96.2h0M289.3 73.0h0M329.6 63.6h0M328.4 57.7h0M304.8 64.5h0M298.6 71.3h0M228.2 85.2h0M266.5 75.5h0M308.1 69.2h0M278.9 79.8h0M240.0 88.6h0" stroke="#ff33ff" stroke-opacity="0.60" stroke-width="1.35" stroke-linecap="square" fill="none"/>
<path d="M283.4 77.9h0M287.7 68.7h0M316.0 66.7h0M248.8 87.8h0M244.6 76.9h0M248.0 87.3h0M216.2 95.5h0M275.4 77.9h0M235.9 88.3h0M214.9 96.6h0M241.6 85.0h0M230.5 87.8h0M324.4 61.5h0M311.5 60.4h0M301.3 81.4h0M224.0 89.6h0M328.2 66.0h0M325.0 65.7h0M230.5 85.3h0M230.6 90.3h0M274.6 67.7h0M245.9 83.3h0M327.6 68.5h0M227.1 89.4h0M320.1 69.1h0M329.1 60.3h0M316.8 66.9h0M243.1 81.5h0M224.6 90.9h0M302.1 69.5h0M312.2 77.2h0M240.3 91.8h0M306.8 67.3h0M221.1 91.6h0M325.1 66.8h0M218.4 93.0h0M252.2 82.3h0M235.2 89.8h0M224.9 91.2h0M215.1 96.1h0M245.5 83.9h0M251.2 82.1h0M329.1 77.5h0M250.4 83.7h0M324.7 61.3h0M304.2 79.4h0M231.9 87.7h0M237.6 89.8h0M238.6 82.9h0M241.5 84.2h0M215.7 91.7h0M311.0 69.4h0M213.2 97.8h0M248.4 81.9h0M241.6 84.5h0M245.9 81.2h0M220.9 93.1h0M215.2 96.2h0M246.1 83.2h0M326.5 77.5h0M316.4 67.1h0M238.4 84.4h0M238.4 87.1h0M223.7 89.5h0M236.8 86.4h0M323.1 68.4h0M241.8 90.3h0M323.8 66.3h0M244.7 91.8h0M306.7 77.5h0M235.1 85.8h0M230.4 85.5h0M234.8 83.5h0M314.0 75.9h0M312.4 74.5h0M317.7 71.0h0M320.8 62.9h0M323.1 69.2h0M305.4 59.5h0M242.6 83.8h0M232.5 88.4h0M313.7 63.8h0M251.9 82.2h0M237.0 87.3h0M244.8 83.5h0M313.8 63.0h0M250.6 78.4h0M253.7 85.4h0M323.0 70.7h0M292.3 66.1h0M233.2 90.0h0M311.1 66.9h0M232.2 90.4h0M248.2 84.0h0M317.9 53.6h0M243.9 78.2h0M242.3 88.2h0M233.9 90.8h0M246.0 86.3h0M221.0 95.2h0M307.9 63.3h0M285.1 76.3h0M321.4 69.6h0M302.2 65.1h0M248.9 86.5h0M316.3 64.4h0M267.9 79.9h0M253.4 80.4h0M321.5 61.7h0M250.9 80.4h0M213.6 95.0h0M216.9 95.3h0M319.2 70.5h0M296.9 63.4h0M250.8 81.8h0M305.5 70.3h0M322.9 64.6h0M309.7 72.7h0M240.4 82.0h0M242.1 81.6h0M241.0 84.4h0M253.0 79.3h0M215.2 96.0h0M313.5 59.9h0M306.7 74.2h0M265.9 75.7h0M222.6 90.3h0M213.5 94.5h0M252.1 84.1h0M228.3 90.1h0M243.5 82.1h0M227.0 91.4h0M228.9 96.7h0M312.5 73.6h0M316.0 62.3h0M242.8 85.3h0M234.8 88.4h0M278.5 74.5h0M298.9 63.8h0M321.0 66.8h0M318.9 59.2h0M223.2 91.4h0M222.4 93.1h0M248.0 85.7h0M249.2 84.5h0M252.0 81.8h0M234.9 83.9h0M221.4 94.8h0M311.3 72.6h0M291.3 65.1h0M313.5 67.3h0M239.1 86.9h0M279.6 68.4h0M268.8 76.3h0M221.3 93.8h0M281.0 74.2h0M322.5 62.8h0M232.5 84.8h0M325.3 59.9h0M325.4 68.2h0M248.3 79.0h0M248.8 86.1h0M310.2 61.9h0M295.5 64.2h0M248.9 81.2h0M218.4 91.5h0M244.5 81.2h0M304.0 64.7h0" stroke="#ff33ff" stroke-opacity="0.90" stroke-width="1.35" stroke-linecap="square" fill="none"/>
<path d="M266.4 75.2h0M303.2 57.9h0M304.1 57.8h0M300.8 60.4h0M247.0 80.7h0M230.6 84.6h0M328.6 60.2h0M308.3 49.4h0M295.3 55.1h0M301.7 68.5h0M265.9 78.3h0M316.3 42.8h0M315.1 52.5h0M216.1 80.7h0M212.4 95.8h0M253.6 70.7h0M238.2 86.8h0M248.0 83.4h0M254.1 79.2h0M328.6 61.9h0M227.1 88.2h0M327.3 56.1h0M302.1 63.1h0M301.0 61.6h0M231.6 92.7h0M221.6 89.5h0M253.0 78.5h0M218.9 88.2h0M218.0 93.7h0M303.5 52.1h0M241.8 80.3h0M238.3 86.0h0M215.2 93.2h0M290.7 73.0h0M253.6 76.8h0M265.5 71.7h0M227.9 91.1h0M248.3 78.6h0M248.4 83.1h0M251.5 80.1h0M221.2 90.8h0M240.0 83.7h0M311.7 62.5h0M325.7 47.0h0M224.5 86.4h0M221.6 90.0h0M240.2 82.8h0M290.3 68.5h0M238.4 86.8h0M253.5 83.8h0M229.1 88.5h0M237.7 86.1h0M243.3 72.8h0M232.7 92.0h0M229.0 84.6h0M267.9 65.4h0M239.8 82.9h0M213.3 94.5h0M218.2 94.6h0M216.0 94.9h0M279.6 71.2h0M237.9 90.4h0M236.8 88.0h0M281.9 70.3h0M219.2 90.7h0M281.6 65.9h0M234.8 89.1h0M324.9 53.5h0M300.0 66.3h0M213.9 94.0h0M216.6 90.4h0M314.9 54.3h0M277.7 68.9h0M308.2 55.2h0M265.5 78.6h0M285.9 71.3h0M222.7 89.8h0M259.1 74.8h0M304.3 68.9h0M230.7 83.6h0M308.3 67.2h0M240.1 82.8h0M240.8 82.1h0M216.3 88.6h0M250.9 80.3h0M266.3 74.1h0M221.5 83.0h0M281.3 74.3h0M317.0 48.9h0M311.1 62.6h0M238.1 87.3h0M328.9 63.2h0M248.6 83.1h0M250.6 87.0h0M224.3 88.5h0M249.8 81.6h0M215.0 94.0h0M272.4 77.5h0M307.7 62.6h0M216.9 90.2h0M219.1 91.2h0M297.5 57.7h0M216.7 92.3h0M233.7 88.4h0M238.1 86.4h0M213.4 95.4h0M215.2 91.1h0M244.0 76.1h0M302.1 54.0h0M250.2 79.1h0M247.5 83.6h0M217.9 96.4h0M313.1 59.9h0M320.2 50.8h0M321.2 44.9h0M239.0 84.7h0M237.6 88.1h0M218.8 91.3h0M226.0 90.7h0M326.6 42.4h0M306.2 57.4h0M323.3 38.5h0M298.9 56.1h0M301.1 57.2h0M233.0 84.4h0M217.4 93.8h0M231.4 85.2h0M311.3 44.8h0M307.6 61.3h0M216.4 87.4h0M299.1 63.4h0M221.5 92.1h0M257.9 76.3h0M277.7 63.0h0M248.7 84.0h0M221.9 89.2h0M306.6 53.3h0M218.3 96.0h0M230.4 85.1h0M241.3 84.8h0M300.5 61.9h0M261.5 82.1h0M254.1 86.7h0M223.1 87.9h0M246.0 82.8h0M318.7 53.0h0M230.8 85.1h0M217.2 90.0h0M235.3 85.3h0M302.4 61.4h0M308.7 69.5h0M259.4 84.9h0M250.3 82.3h0M247.7 78.1h0M218.8 90.3h0M308.6 68.4h0M217.6 90.0h0M281.3 65.5h0M278.3 70.4h0M222.4 95.8h0M227.0 91.6h0M235.5 86.5h0M241.6 79.1h0M311.3 54.8h0M215.8 94.0h0M227.5 90.3h0M320.5 57.7h0M307.3 68.0h0M328.5 49.0h0M225.5 87.3h0M237.4 84.6h0M317.0 45.7h0M237.9 85.9h0M239.6 74.2h0M314.8 65.6h0M235.5 84.1h0M260.8 73.2h0M328.7 65.5h0M304.0 53.1h0M253.3 81.7h0M329.6 50.9h0M215.0 88.7h0M271.9 73.4h0M244.5 89.5h0M240.1 89.8h0M233.3 88.1h0M243.7 83.3h0M251.5 81.5h0M215.3 95.5h0M230.8 85.5h0M237.9 85.2h0M238.1 86.6h0M310.0 43.1h0M244.6 81.4h0M238.3 84.9h0M313.8 62.6h0M220.9 91.0h0M217.3 89.7h0M289.6 64.1h0M321.0 52.9h0M225.8 88.2h0M233.8 83.6h0M295.9 48.0h0M255.3 83.2h0M309.2 51.6h0M252.2 84.6h0M304.9 63.5h0M245.5 79.7h0M322.7 45.3h0M270.3 67.5h0M251.8 75.9h0M321.0 47.7h0M274.3 61.4h0M303.8 48.4h0M241.9 81.5h0M314.3 57.9h0M251.8 72.4h0M257.5 74.7h0M234.0 90.1h0M312.7 62.9h0M249.1 78.4h0M300.2 45.2h0M246.1 80.5h0M297.5 58.3h0M233.4 80.9h0M253.8 79.9h0M233.1 87.7h0M246.3 83.4h0M253.8 86.7h0M287.7 56.5h0M244.8 86.0h0M241.5 91.7h0M311.0 68.9h0" stroke="#2a2aff" stroke-opacity="0.35" stroke-width="1.35" stroke-linecap="square" fill="none"/>
<path d="M230.8 88.4h0M277.7 77.0h0M253.3 84.9h0M247.2 79.7h0M243.0 76.4h0M234.1 83.8h0M230.6 91.1h0M235.8 86.6h0M295.4 72.3h0M249.9 78.5h0M226.4 91.0h0M220.8 90.6h0M275.4 72.6h0M265.2 78.6h0M300.3 63.0h0M224.1 87.5h0M232.8 87.8h0M322.8 41.3h0M242.8 85.3h0M235.4 88.2h0M246.3 84.9h0M303.1 61.5h0M235.7 84.1h0M232.9 82.6h0M300.7 55.6h0M232.4 87.7h0M224.1 90.7h0M243.4 85.5h0M309.2 31.2h0M264.1 74.9h0M261.8 69.6h0M260.4 74.2h0M238.1 92.1h0M273.2 69.9h0M284.0 70.4h0M273.8 76.5h0M274.1 81.9h0M268.9 73.9h0M235.8 82.0h0M260.9 66.9h0M230.7 85.9h0M264.6 74.2h0M218.0 93.6h0M270.7 69.4h0M298.7 61.8h0M217.5 96.3h0M227.7 86.1h0M240.6 81.7h0M229.6 88.4h0M241.7 91.5h0M301.9 68.4h0M241.5 88.7h0M267.9 73.4h0M315.2 54.5h0M286.9 59.3h0M240.9 80.5h0M317.6 63.8h0M244.6 82.7h0M254.9 77.3h0M324.6 51.9h0M248.3 86.6h0M219.8 91.1h0M236.3 85.5h0M291.0 68.4h0M293.0 65.5h0M230.3 90.6h0M242.3 85.3h0M246.2 82.4h0M307.0 68.0h0M226.6 87.0h0M310.7 53.5h0M303.4 60.9h0M238.2 85.1h0M226.2 88.7h0M313.5 63.5h0M215.5 90.6h0M220.0 95.6h0M253.5 88.0h0M230.4 86.8h0M239.1 80.4h0M305.2 66.4h0M223.3 92.8h0M322.1 49.7h0M241.4 86.1h0M225.7 93.7h0M306.1 44.8h0M299.8 74.0h0M284.0 75.1h0M230.9 87.0h0M217.7 97.5h0M222.9 87.6h0M311.1 64.0h0M257.7 86.7h0M253.8 87.6h0M231.1 88.2h0M214.6 96.2h0M304.0 60.5h0M244.1 79.2h0M216.3 93.9h0M244.2 86.5h0M254.8 80.1h0M214.3 93.9h0M268.1 67.5h0M238.7 85.5h0M237.4 82.6h0M284.1 77.1h0M249.0 77.1h0M271.1 75.3h0M310.2 62.0h0M271.7 60.9h0M237.7 80.8h0M225.1 89.2h0M227.0 92.1h0M243.5 82.4h0M218.9 96.9h0M229.4 88.1h0M234.5 85.6h0M231.2 93.5h0M309.9 59.7h0M233.0 84.0h0M217.0 94.7h0M213.4 86.9h0M212.6 94.2h0M232.1 83.8h0M327.9 59.4h0M256.1 83.9h0M307.2 55.5h0M310.8 54.5h0M214.0 89.9h0M248.5 82.2h0M245.3 82.5h0M240.5 85.0h0M321.6 30.1h0M290.8 63.4h0M313.7 55.2h0M218.3 91.0h0M217.1 90.7h0M248.1 79.9h0M314.7 67.3h0M244.9 71.6h0M230.7 89.8h0M316.0 74.9h0M249.3 91.0h0M214.8 95.4h0M236.7 91.8h0M220.8 86.2h0M237.7 81.1h0M250.9 83.2h0M220.9 97.1h0M226.8 85.0h0M245.5 80.6h0M240.7 87.4h0M307.3 61.8h0M225.5 86.7h0M237.6 84.3h0M214.1 86.4h0M233.2 90.8h0M242.5 80.6h0M309.6 68.2h0M226.4 92.8h0M305.2 63.1h0M299.6 45.9h0M316.4 58.0h0M223.0 85.8h0M319.4 60.4h0M328.2 59.4h0M215.0 94.6h0M250.4 80.3h0M299.6 41.5h0M241.8 83.6h0M313.3 56.0h0M234.3 81.4h0M300.5 66.1h0M253.0 81.0h0M220.1 93.5h0M214.4 95.3h0M321.2 43.1h0M242.7 89.1h0M219.6 96.5h0M241.8 81.4h0M212.3 93.6h0M293.2 75.9h0M322.2 59.5h0M253.8 74.7h0M314.1 48.0h0M235.6 80.7h0M235.1 89.1h0M325.4 58.2h0M327.6 59.7h0M314.0 58.8h0M228.5 88.3h0M239.0 87.6h0M276.2 63.7h0M307.4 69.3h0M234.2 85.0h0M216.4 88.7h0M307.3 50.7h0M317.8 63.3h0M298.8 56.9h0M300.8 64.4h0M214.5 90.4h0M308.0 58.8h0M212.6 83.1h0M248.2 84.5h0M248.7 79.2h0M235.8 89.2h0M285.5 69.2h0M329.2 65.2h0M221.5 91.0h0M215.4 95.4h0M218.9 90.6h0M239.7 84.2h0M236.3 92.9h0M306.5 63.1h0M232.6 90.1h0M215.0 92.0h0M301.5 58.1h0M319.4 45.3h0M316.7 60.6h0M262.4 72.2h0M308.3 58.0h0M271.8 75.6h0M249.5 78.4h0M220.0 93.8h0M217.8 96.3h0M308.7 61.7h0" stroke="#2a2aff" stroke-opacity="0.60" stroke-width="1.35" stroke-linecap="square" fill="none"/>
<path d="M283.7 72.5h0M246.1 82.9h0M213.2 91.9h0M263.3 73.3h0M249.2 82.2h0M222.0 93.6h0M234.8 87.3h0M286.1 60.8h0M321.8 58.0h0M309.5 60.6h0M218.4 93.0h0M309.5 76.7h0M235.9 92.6h0M274.7 68.3h0M306.3 65.5h0M253.1 74.6h0M314.4 69.7h0M239.1 86.5h0M230.0 75.8h0M222.6 90.9h0M251.8 76.2h0M244.1 87.4h0M322.5 47.7h0M242.3 85.0h0M260.6 72.8h0M307.4 42.8h0M317.6 42.5h0M231.9 85.2h0M317.5 68.4h0M234.4 85.9h0M245.8 82.7h0M236.9 89.5h0M247.1 80.1h0M269.0 73.7h0M279.0 62.7h0M324.9 53.6h0M241.1 83.6h0M233.2 85.9h0M239.3 82.3h0M326.4 57.9h0M298.9 63.7h0M217.7 94.0h0M323.6 39.1h0M261.1 78.5h0M304.6 48.6h0M222.4 89.6h0M222.8 94.8h0M232.8 91.3h0M250.3 78.0h0M310.0 55.8h0M219.5 88.5h0M302.7 62.4h0M301.8 64.8h0M227.8 86.0h0M227.6 91.7h0M238.0 80.8h0M238.3 85.1h0M273.0 73.4h0M215.4 90.4h0M314.6 43.9h0M231.2 86.5h0M253.4 78.0h0M217.0 90.3h0M323.6 55.9h0M225.8 89.3h0M316.5 52.2h0M241.6 82.0h0M282.2 56.4h0M240.7 91.5h0M247.6 81.6h0M232.2 90.0h0M217.0 91.9h0M216.0 97.4h0M250.5 82.3h0M306.1 47.6h0M212.4 96.3h0M265.2 69.8h0M325.6 55.2h0M232.6 88.6h0M310.0 59.3h0M252.3 84.8h0M245.0 89.8h0M217.0 89.9h0M259.2 85.3h0M329.2 60.0h0M325.8 67.5h0M236.1 85.7h0M245.5 81.8h0M251.6 79.7h0M233.2 87.6h0M237.1 85.3h0M315.0 67.0h0M311.6 48.0h0M232.9 87.1h0M225.6 86.8h0M303.0 52.3h0M222.9 93.2h0M214.1 94.3h0M230.1 84.7h0M299.4 56.1h0M306.1 63.0h0M215.8 91.2h0M254.1 83.1h0M216.7 87.7h0M242.0 85.6h0M264.2 68.7h0M217.2 93.0h0M241.8 82.8h0M251.5 79.4h0M244.2 74.4h0M312.5 60.6h0M320.8 60.5h0M243.6 87.7h0M213.7 93.6h0M243.9 81.1h0M290.5 62.0h0M219.4 89.9h0M242.4 83.6h0M232.0 87.5h0M314.5 69.0h0M280.0 69.9h0M228.3 90.0h0M300.1 59.0h0M321.3 51.5h0M315.3 48.9h0M265.6 76.1h0M225.4 86.4h0M321.7 41.8h0M232.4 87.4h0M238.1 86.7h0M301.9 67.5h0M243.2 73.3h0M246.2 82.3h0M229.6 78.9h0M249.7 82.6h0M265.3 71.6h0M247.0 82.6h0M228.6 90.8h0M280.2 68.1h0M229.0 88.2h0M298.9 50.9h0M298.3 58.9h0M254.3 73.2h0M245.9 85.7h0M328.0 49.2h0M223.6 88.0h0M226.0 88.8h0M230.3 86.2h0M259.2 74.8h0M243.3 80.9h0M253.6 81.8h0M322.0 46.8h0M318.7 59.9h0M230.2 87.5h0M252.6 68.5h0M283.5 57.6h0M316.5 55.4h0M310.2 69.4h0M290.0 81.4h0M227.8 91.1h0M318.0 54.0h0M241.6 84.6h0M222.9 92.5h0M300.3 70.4h0M325.6 46.6h0M244.9 87.3h0M213.7 86.7h0M301.8 64.9h0M307.7 58.5h0M323.7 53.7h0M223.3 91.2h0M239.3 83.8h0M270.7 67.2h0M215.7 92.7h0M216.8 93.4h0M228.2 87.6h0M246.5 84.3h0M260.9 77.7h0M248.7 81.8h0M322.9 47.3h0M253.5 81.1h0M226.7 80.3h0M296.3 56.2h0M225.1 84.9h0M216.6 94.8h0M247.9 75.8h0M300.4 55.8h0M235.8 83.7h0M323.2 63.6h0M232.6 83.2h0M228.4 90.6h0M244.1 81.8h0M245.1 82.8h0M300.1 62.0h0M322.1 74.4h0M233.0 88.4h0M219.0 90.1h0M224.4 91.1h0M324.2 71.1h0M249.1 78.0h0M321.3 45.9h0" stroke="#2a2aff" stroke-opacity="0.90" stroke-width="1.35" stroke-linecap="square" fill="none"/>
<path d="M212.3,95.3 213.3,95.0 214.3,94.6 215.3,94.3 216.3,93.9 217.3,93.5 218.3,93.2 219.3,92.8 220.3,92.5 221.3,92.1 222.3,91.8 223.3,91.4 224.3,91.1 225.3,90.8 226.3,90.4 227.3,90.1 228.3,89.8 229.3,89.4 230.3,89.1 231.3,88.8 232.3,88.5 233.3,88.1 234.3,87.8 235.3,87.5 236.3,87.2 237.3,86.9 238.3,86.5 239.3,86.2 240.3,85.9 241.3,85.6 242.3,85.3 243.3,85.0 244.3,84.7 245.3,84.4 246.3,84.1 247.3,83.8 248.3,83.5 249.3,83.2 250.3,82.9 251.3,82.6 252.3,82.3 253.3,82.0 254.3,81.7 255.3,81.4 256.3,81.1 257.3,80.8 258.3,80.5 259.3,80.2 260.3,79.9 261.3,79.6 262.3,79.3 263.3,79.0 264.3,78.8 265.3,78.5 266.3,78.2 267.3,77.9 268.3,77.6 269.3,77.3 270.3,77.0 271.3,76.7 272.3,76.4 273.3,76.2 274.3,75.9 275.3,75.6 276.3,75.3 277.3,75.0 278.3,74.7 279.3,74.4 280.3,74.1 281.3,73.9 282.3,73.6 283.3,73.3 284.3,73.0 285.3,72.7 286.3,72.4 287.3,72.1 288.3,71.8 289.3,71.6 290.3,71.3 291.3,71.0 292.3,70.7 293.3,70.5 294.3,70.2 295.3,69.9 296.3,69.7 297.3,69.4 298.3,69.2 299.3,69.0 300.3,68.8 301.3,68.5 302.3,68.3 303.3,68.1 304.3,67.9 305.3,67.8 306.3,67.6 307.3,67.4 308.3,67.3 309.3,67.1 310.3,67.0 311.3,66.9 312.3,66.8 313.3,66.7 314.3,66.6 315.3,66.5 316.3,66.4 317.3,66.4 318.3,66.3 319.3,66.3 320.3,66.2 321.3,66.2 322.3,66.2 323.3,66.2 324.3,66.2 325.3,66.2 326.3,66.2 327.3,66.2 328.3,66.2 329.3,66.2" stroke="#ff22ff" stroke-width="1.35" fill="none" stroke-linecap="round" stroke-linejoin="round"/>
<path d="M212.3,94.4 213.3,94.0 214.3,93.6 215.3,93.2 216.3,92.8 217.3,92.4 218.3,92.0 219.3,91.6 220.3,91.2 221.3,90.8 222.3,90.4 223.3,90.1 224.3,89.7 225.3,89.3 226.3,89.0 227.3,88.6 228.3,88.2 229.3,87.9 230.3,87.5 231.3,87.2 232.3,86.8 233.3,86.5 234.3,86.1 235.3,85.8 236.3,85.4 237.3,85.1 238.3,84.8 239.3,84.4 240.3,84.1 241.3,83.7 242.3,83.4 243.3,83.1 244.3,82.7 245.3,82.4 246.3,82.1 247.3,81.7 248.3,81.4 249.3,81.1 250.3,80.7 251.3,80.4 252.3,80.1 253.3,79.7 254.3,79.4 255.3,79.0 256.3,78.7 257.3,78.4 258.3,78.0 259.3,77.7 260.3,77.3 261.3,77.0 262.3,76.6 263.3,76.2 264.3,75.9 265.3,75.5 266.3,75.2 267.3,74.8 268.3,74.4 269.3,74.0 270.3,73.7 271.3,73.3 272.3,72.9 273.3,72.5 274.3,72.1 275.3,71.7 276.3,71.3 277.3,70.9 278.3,70.5 279.3,70.1 280.3,69.7 281.3,69.2 282.3,68.8 283.3,68.4 284.3,68.0 285.3,67.6 286.3,67.2 287.3,66.7 288.3,66.3 289.3,65.9 290.3,65.5 291.3,65.1 292.3,64.7 293.3,64.2 294.3,63.8 295.3,63.4 296.3,63.0 297.3,62.6 298.3,62.3 299.3,61.9 300.3,61.5 301.3,61.1 302.3,60.8 303.3,60.4 304.3,60.0 305.3,59.7 306.3,59.4 307.3,59.0 308.3,58.7 309.3,58.4 310.3,58.1 311.3,57.8 312.3,57.5 313.3,57.3 314.3,57.0 315.3,56.7 316.3,56.5 317.3,56.3 318.3,56.1 319.3,55.9 320.3,55.7 321.3,55.5 322.3,55.3 323.3,55.2 324.3,55.1 325.3,55.0 326.3,54.9 327.3,54.8 328.3,54.7 329.3,54.7" stroke="#1414ff" stroke-width="1.60" fill="none" stroke-linecap="round" stroke-linejoin="round"/>
<path d="M210.40,13.50V100.10M207.20,100.10H210.40M207.20,71.23H210.40M207.20,42.37H210.40M207.20,13.50H210.40M210.40,100.10V103.40" stroke="#232323" stroke-width="1.25" fill="none"/>
<path d="M210.40,100.10H336.50M222.96,100.10V103.40M235.52,100.10V103.40M248.08,100.10V103.40M260.64,100.10V103.40M273.20,100.10V103.40M285.76,100.10V103.40M298.32,100.10V103.40M310.88,100.10V103.40M323.44,100.10V103.40M336.00,100.10V103.40" stroke="#2a2a2a" stroke-width="1.4" fill="none"/>
<text transform="translate(205.40,103.00) scale(0.83,1)" text-anchor="end" class="tk">0</text>
<text transform="translate(205.40,74.13) scale(0.83,1)" text-anchor="end" class="tk">50</text>
<text transform="translate(205.40,45.27) scale(0.83,1)" text-anchor="end" class="tk">100</text>
<text transform="translate(205.40,16.40) scale(0.83,1)" text-anchor="end" class="tk">150</text>
<text transform="translate(189.20,56.75) rotate(-90)" text-anchor="middle" textLength="38.50" lengthAdjust="spacingAndGlyphs" class="yl">IPVV<tspan style="font-size:5.3px" dy="1.8">RL</tspan><tspan dy="-1.8">(mL)</tspan></text>
<text x="172.50" y="11.90" class="lt">b</text>
<path d="M391.74,100V13.60M404.28,100V13.60M416.82,100V13.60M429.36,100V13.60M441.90,100V13.60M454.44,100V13.60M466.98,100V13.60M479.52,100V13.60M492.06,100V13.60M504.60,100V13.60" stroke="#f0f0f0" stroke-width="0.9" fill="none"/>
<path d="M391.74,100V13.60M404.28,100V13.60M416.82,100V13.60M429.36,100V13.60M441.90,100V13.60M454.44,100V13.60M466.98,100V13.60M479.52,100V13.60M492.06,100V13.60M504.60,100V13.60" stroke="#bababa" stroke-width="0.9" stroke-dasharray="1,1" fill="none"/>
<path d="M379,71.50H504.60M379,42.50H504.60M379,13.50H504.60" stroke="#a6a6a6" stroke-width="1" stroke-dasharray="1.2,0.8" fill="none"/>
<path d="M400.2 94.4h0M474.2 68.4h0M482.7 71.2h0M467.0 69.2h0M472.8 68.9h0M473.9 69.6h0M397.9 91.6h0M395.6 89.5h0M404.5 90.1h0M481.1 65.1h0M414.4 82.7h0M483.9 57.2h0M418.0 88.9h0M386.9 96.6h0M418.0 90.0h0M392.4 95.2h0M496.1 67.7h0M482.1 59.2h0M412.2 90.2h0M489.9 71.6h0M432.7 84.7h0M409.4 86.6h0M382.2 96.4h0M467.6 75.5h0M484.8 72.6h0M483.0 67.2h0M488.9 68.5h0M421.3 90.2h0M382.3 96.7h0M385.3 96.1h0M393.0 98.8h0M389.2 96.3h0M393.2 88.3h0M469.4 67.7h0M486.3 78.7h0M482.9 56.2h0M397.2 87.8h0M417.2 84.3h0M454.8 86.3h0M439.9 82.2h0M417.0 88.5h0M449.4 74.5h0M444.8 77.5h0M384.0 94.0h0M495.2 66.0h0M382.6 95.2h0M496.2 56.1h0M471.3 64.4h0M403.6 92.5h0M392.0 93.5h0M405.1 90.7h0M383.2 96.5h0M440.2 82.0h0M414.9 88.1h0M384.1 96.6h0M422.1 86.6h0M382.6 96.2h0M468.5 78.8h0M462.8 73.8h0M464.1 79.6h0M382.2 96.1h0M421.5 93.1h0M399.8 91.4h0M386.3 97.6h0M386.5 94.8h0M401.3 87.5h0M409.1 87.1h0M419.8 88.4h0M463.2 77.3h0M476.3 71.4h0M447.6 81.3h0M404.4 85.1h0M455.2 74.1h0M398.4 97.5h0M415.0 89.3h0M471.5 55.9h0M471.7 75.2h0M391.2 91.7h0M497.5 68.7h0M492.6 64.3h0M412.7 86.4h0M389.7 92.7h0M458.1 67.6h0M388.6 95.2h0M413.2 86.9h0M399.0 90.4h0M387.9 94.2h0M417.6 87.6h0M382.2 96.3h0M490.0 70.9h0M482.8 75.1h0M389.5 96.4h0M474.5 70.1h0M433.2 80.5h0M486.8 68.7h0M389.0 97.9h0M414.1 88.6h0M411.7 89.1h0M446.9 78.9h0M387.6 96.2h0M471.9 69.4h0M393.2 92.9h0M419.5 82.9h0M419.8 82.6h0M384.0 96.7h0M468.3 66.9h0M489.2 62.3h0M383.8 98.3h0M385.5 95.8h0M381.2 98.4h0M442.8 82.0h0M388.9 93.9h0M385.3 98.0h0M383.7 98.6h0M469.7 69.0h0M400.0 89.9h0M414.8 87.2h0M484.9 69.6h0M383.3 98.1h0M386.8 89.7h0M409.2 86.3h0M429.3 83.9h0M493.4 71.1h0M426.1 83.3h0M488.5 74.9h0M494.3 73.7h0M457.8 77.7h0M468.6 68.3h0M424.5 87.6h0M391.7 91.2h0M389.7 96.7h0M497.5 64.5h0M413.2 84.4h0M483.9 72.3h0M382.3 95.0h0M400.2 90.7h0M387.8 94.2h0M489.9 71.7h0M408.0 86.8h0M481.2 63.9h0M389.0 94.2h0M386.0 95.5h0M498.1 74.2h0M391.6 99.1h0M477.4 67.4h0M468.3 81.7h0M421.0 88.3h0M457.8 71.1h0M387.9 99.0h0M400.8 91.4h0M384.2 96.1h0M389.1 97.4h0M476.7 69.2h0M398.2 90.9h0M390.5 94.6h0M386.1 96.2h0M402.9 88.3h0M416.4 87.8h0M472.7 75.4h0M406.7 88.0h0M418.0 89.9h0M396.3 89.3h0M445.3 74.1h0M411.7 85.6h0M450.4 82.7h0M436.6 79.0h0M480.5 69.9h0M398.6 92.3h0M455.9 73.2h0M417.4 89.5h0M418.1 85.3h0M406.2 92.4h0M433.7 84.3h0M382.6 95.7h0M389.2 94.6h0M470.0 71.5h0" stroke="#ff33ff" stroke-opacity="0.35" stroke-width="1.35" stroke-linecap="square" fill="none"/>
<path d="M404.5 89.4h0M421.1 83.4h0M426.7 85.9h0M403.6 91.4h0M468.8 74.8h0M411.7 84.8h0M486.4 64.8h0M392.1 95.2h0M392.2 90.1h0M491.7 73.3h0M447.9 67.7h0M495.1 66.4h0M439.4 85.8h0M471.3 72.0h0M384.3 97.7h0M405.3 86.6h0M482.5 64.5h0M391.0 98.9h0M482.6 62.5h0M470.5 72.1h0M472.4 70.8h0M390.8 93.0h0M483.5 68.1h0M491.9 58.7h0M417.4 93.5h0M486.9 68.2h0M417.3 81.6h0M397.0 89.5h0M409.7 85.9h0M491.0 70.9h0M480.1 64.1h0M487.1 70.5h0M396.7 93.4h0M432.3 83.8h0M411.7 89.5h0M387.3 96.2h0M390.1 92.3h0M410.0 81.7h0M490.2 63.0h0M498.2 71.4h0M392.4 92.1h0M394.1 95.0h0M386.7 97.8h0M387.1 96.7h0M486.2 81.7h0M399.1 87.5h0M472.1 58.1h0M478.0 80.4h0M395.4 95.8h0M420.0 86.3h0M406.3 90.1h0M413.9 84.3h0M493.3 67.2h0M482.7 75.9h0M418.4 84.5h0M420.2 81.9h0M456.8 75.5h0M466.7 70.8h0M494.8 74.4h0M492.1 70.9h0M413.1 88.3h0M382.7 98.4h0M383.6 95.4h0M456.0 76.7h0M477.3 73.9h0M435.9 82.2h0M484.1 70.5h0M475.0 72.0h0M383.9 96.0h0M385.6 98.2h0M383.6 93.8h0M418.3 84.0h0M417.2 84.1h0M496.2 62.6h0M417.6 86.4h0M493.2 70.5h0M488.6 77.1h0M492.3 74.1h0M409.2 86.0h0M383.4 98.6h0M486.8 72.9h0M388.9 92.9h0M436.8 80.1h0M410.6 90.8h0M427.5 82.3h0M392.0 96.3h0M417.4 84.1h0M411.8 90.9h0M393.1 93.8h0M462.1 77.5h0M440.9 80.1h0M488.7 66.1h0M428.3 86.6h0M407.4 92.0h0M398.3 91.8h0M486.7 65.9h0M484.2 67.7h0M402.7 89.8h0M473.1 64.9h0M440.7 85.3h0M399.1 93.0h0M386.1 97.2h0M395.1 91.6h0M428.5 88.5h0M400.7 97.0h0M460.1 74.2h0M404.9 89.1h0M442.6 79.0h0M419.1 87.5h0M399.8 93.8h0M392.8 94.6h0M434.1 84.7h0M478.8 77.8h0M385.8 91.9h0M423.1 80.0h0M396.5 91.2h0M395.4 95.2h0M406.8 89.0h0M421.3 81.5h0M401.7 88.9h0M484.7 59.5h0M488.8 54.9h0M418.4 85.4h0M488.1 69.3h0M420.7 90.6h0M403.4 91.5h0M400.6 86.5h0M478.8 73.5h0M382.6 98.4h0M490.1 63.6h0M384.5 96.1h0M421.9 87.8h0M405.7 88.5h0M400.7 91.0h0M449.0 76.7h0M385.2 94.7h0M397.0 90.8h0M421.2 89.7h0M476.4 68.3h0M415.6 89.0h0M399.3 95.2h0M491.2 64.4h0M385.6 97.0h0M396.8 90.5h0M422.7 83.3h0M457.1 85.6h0M414.9 89.1h0M472.7 73.7h0M405.1 90.9h0M393.1 94.3h0M463.5 70.6h0M481.7 74.0h0M467.7 71.4h0M386.5 94.8h0M469.6 68.1h0M480.0 58.4h0M381.2 98.9h0M421.5 91.2h0M404.1 88.3h0M483.6 72.9h0M460.9 79.8h0M398.4 94.6h0M420.8 94.3h0M420.3 87.2h0M394.8 92.3h0M422.1 87.8h0M398.8 86.0h0M461.1 74.0h0M423.0 86.2h0M489.8 73.5h0M498.1 76.7h0M399.5 86.6h0M443.3 78.6h0M409.2 86.6h0M404.2 92.2h0" stroke="#ff33ff" stroke-opacity="0.60" stroke-width="1.35" stroke-linecap="square" fill="none"/>
<path d="M407.8 86.3h0M387.1 95.5h0M488.6 66.2h0M400.7 87.8h0M481.5 73.2h0M472.7 76.3h0M479.2 79.6h0M473.7 73.8h0M453.7 79.0h0M497.8 65.7h0M468.1 67.7h0M408.0 88.4h0M488.4 72.6h0M487.4 71.5h0M387.9 96.5h0M395.2 90.3h0M390.9 91.5h0M405.6 86.9h0M404.9 88.6h0M490.0 67.0h0M414.4 88.0h0M406.6 87.2h0M479.0 76.6h0M456.8 72.1h0M384.8 95.2h0M405.5 93.3h0M472.3 74.6h0M415.2 84.4h0M495.3 71.8h0M391.0 94.6h0M384.7 97.3h0M492.0 63.6h0M497.4 72.8h0M474.2 74.8h0M492.3 69.5h0M411.7 89.7h0M418.8 89.0h0M399.8 91.9h0M402.7 88.6h0M456.2 80.1h0M468.3 73.3h0M401.0 91.4h0M432.4 74.2h0M442.1 80.2h0M465.2 65.3h0M418.1 85.9h0M428.0 81.2h0M496.9 60.8h0M474.4 70.6h0M468.9 66.8h0M417.4 86.3h0M474.7 71.9h0M477.0 71.5h0M441.7 77.0h0M427.9 83.6h0M415.5 83.8h0M421.7 86.6h0M392.4 94.6h0M409.4 88.0h0M462.3 73.0h0M442.6 78.1h0M411.0 88.4h0M480.7 64.9h0M381.4 97.9h0M408.1 89.3h0M405.7 94.3h0M384.7 95.1h0M393.1 95.1h0M410.5 80.1h0M406.1 86.1h0M392.8 95.2h0M397.5 93.6h0M423.1 84.7h0M405.5 90.0h0M492.6 61.7h0M415.1 86.5h0M409.8 89.2h0M382.3 97.5h0M397.2 93.7h0M422.6 80.9h0M416.8 85.1h0M486.0 69.8h0M395.1 97.9h0M471.5 59.0h0M475.4 68.5h0M407.4 90.1h0M472.3 71.2h0M452.9 77.6h0M481.9 76.3h0M404.6 90.8h0M483.1 59.4h0M401.9 88.1h0M497.8 74.8h0M396.1 94.2h0M391.4 96.9h0M395.4 94.2h0M487.4 71.5h0M469.9 74.0h0M405.9 90.3h0M383.2 94.7h0M482.4 65.0h0M475.2 63.9h0M414.5 90.3h0M436.9 81.3h0M395.7 91.0h0M418.0 85.8h0M391.4 91.5h0M391.3 95.7h0M395.7 94.1h0M394.7 93.2h0M491.7 73.6h0M408.3 89.7h0M487.3 70.9h0M410.6 87.8h0M406.4 87.5h0M457.4 76.4h0M496.8 69.9h0M428.0 84.1h0M439.1 75.7h0M483.7 70.0h0M392.1 92.0h0M479.6 72.8h0M391.0 94.4h0M402.9 87.1h0M488.8 59.1h0M459.4 72.5h0M398.1 95.5h0M411.8 88.7h0M483.6 74.2h0M470.9 78.2h0M491.0 65.8h0M383.6 96.4h0M395.1 91.1h0M390.0 93.8h0M396.1 94.6h0M485.8 75.8h0M396.0 90.3h0M486.2 77.1h0M477.6 66.4h0M403.4 87.7h0M404.8 86.5h0M388.1 97.0h0M387.6 94.1h0M472.8 74.4h0M422.6 87.2h0M478.5 66.8h0M393.8 90.9h0M391.0 95.0h0M410.6 90.8h0" stroke="#ff33ff" stroke-opacity="0.90" stroke-width="1.35" stroke-linecap="square" fill="none"/>
<path d="M388.0 96.5h0M417.9 85.3h0M391.6 93.0h0M411.1 90.1h0M394.9 96.0h0M467.7 73.2h0M462.3 69.0h0M421.0 77.7h0M388.7 93.8h0M392.7 94.6h0M416.0 82.1h0M489.5 58.1h0M469.9 77.4h0M472.2 59.2h0M401.9 91.6h0M421.9 76.9h0M406.5 84.1h0M388.4 96.3h0M434.3 87.1h0M413.8 87.7h0M422.7 87.2h0M394.9 88.5h0M418.4 84.4h0M421.7 81.0h0M423.0 86.6h0M413.1 84.8h0M477.4 61.6h0M473.0 62.7h0M383.7 95.5h0M387.8 95.1h0M467.4 68.5h0M433.7 82.8h0M395.0 90.6h0M393.8 94.4h0M397.1 91.2h0M398.0 87.6h0M493.7 62.6h0M407.3 91.1h0M407.1 88.2h0M392.1 92.4h0M387.7 89.2h0M477.9 74.5h0M476.5 68.1h0M456.2 72.4h0M397.6 90.9h0M400.9 93.1h0M459.9 70.1h0M394.3 93.4h0M398.3 87.7h0M468.4 69.5h0M469.6 61.9h0M390.7 93.4h0M402.3 91.0h0M426.8 71.9h0M394.3 84.3h0M403.8 89.0h0M488.5 70.4h0M480.4 61.4h0M475.5 58.3h0M384.6 96.3h0M413.1 87.1h0M484.8 60.7h0M476.5 64.3h0M489.2 61.2h0M417.2 84.0h0M409.1 87.1h0M383.2 98.8h0M491.8 57.5h0M471.1 63.6h0M402.7 92.2h0M383.5 92.8h0M408.9 86.4h0M402.9 92.0h0M384.0 91.2h0M474.2 73.6h0M468.1 66.9h0M478.1 64.7h0M382.5 83.4h0M409.0 88.2h0M455.4 56.5h0M464.6 68.2h0M400.9 90.3h0M385.6 96.6h0M441.6 79.6h0M412.2 91.6h0M493.2 40.4h0M433.6 76.1h0M402.0 90.5h0M425.6 78.9h0M382.7 98.9h0M411.6 91.0h0M443.5 71.4h0M450.2 78.5h0M417.3 82.4h0M386.0 94.5h0M440.5 80.0h0M425.5 88.2h0M390.0 93.2h0M451.7 65.4h0M412.5 87.6h0M468.5 67.2h0M459.1 53.6h0M466.8 60.2h0M490.9 56.6h0M491.3 58.1h0M400.0 90.3h0M494.2 51.0h0M395.2 91.0h0M422.2 87.5h0M455.4 73.3h0M398.2 80.7h0M410.2 85.9h0M478.4 63.0h0M416.7 84.2h0M468.5 66.0h0M490.5 57.6h0M399.1 94.6h0M401.2 92.4h0M397.0 88.4h0M414.3 81.5h0M404.9 85.5h0M405.9 85.5h0M389.5 95.1h0M418.2 88.8h0M489.9 53.2h0M464.1 70.2h0M497.9 59.1h0M394.3 98.8h0M466.1 74.3h0M404.9 87.3h0M460.4 66.9h0M494.8 69.7h0M467.1 65.4h0M413.4 82.6h0M438.4 81.8h0M491.0 60.7h0M442.9 78.2h0M421.8 81.0h0M407.1 88.5h0M415.9 84.9h0M400.1 88.0h0M467.1 58.9h0M479.8 61.0h0M457.2 68.6h0M446.6 80.3h0M399.6 91.2h0M484.7 74.9h0M485.8 61.6h0M409.2 86.1h0M428.0 77.0h0M408.5 87.8h0M452.5 63.2h0M473.7 50.8h0M425.4 84.5h0M389.8 93.7h0M460.2 70.2h0M387.4 93.9h0M412.9 88.4h0M386.3 90.5h0M491.5 52.8h0M492.5 58.0h0M457.0 70.3h0M493.0 71.3h0M399.1 88.0h0M478.8 53.4h0M439.1 79.7h0M384.4 98.4h0M386.4 95.0h0M382.6 98.7h0M413.9 83.8h0M400.2 91.5h0M405.9 87.4h0M491.5 50.3h0M416.1 73.4h0M405.8 89.6h0M483.2 69.7h0M459.4 64.8h0M382.7 97.3h0M422.3 86.1h0M478.0 55.4h0M418.9 84.4h0M484.5 46.3h0M418.1 85.3h0M487.8 63.7h0M415.4 92.2h0M490.7 65.8h0M466.7 72.9h0M401.1 92.3h0M411.3 87.8h0M466.5 74.0h0M422.9 85.7h0M393.5 94.3h0M497.2 58.7h0M486.0 67.0h0M403.3 88.9h0M417.2 84.8h0M494.3 60.3h0M489.1 58.9h0M406.2 93.5h0M472.5 70.5h0M416.3 84.6h0M398.6 91.4h0M402.9 84.3h0M475.0 65.5h0M472.4 78.2h0M460.8 67.6h0M393.0 93.6h0M406.7 89.3h0M398.1 87.8h0M417.9 74.9h0M408.7 88.4h0M490.6 60.8h0M478.1 64.3h0M440.4 68.3h0M496.2 55.8h0M399.4 88.0h0M381.9 97.2h0M472.3 59.9h0M384.0 97.7h0M388.6 91.5h0M402.4 86.7h0M397.3 97.0h0M493.2 69.6h0M430.6 78.4h0M407.3 87.0h0M408.2 87.7h0M478.6 52.0h0M466.3 64.0h0M413.4 86.4h0M405.6 88.3h0M399.8 88.9h0" stroke="#2a2aff" stroke-opacity="0.35" stroke-width="1.35" stroke-linecap="square" fill="none"/>
<path d="M426.7 82.7h0M395.3 93.6h0M406.0 91.8h0M382.4 98.5h0M403.4 91.1h0M395.2 96.4h0M435.9 83.4h0M472.9 62.5h0M396.2 92.6h0M383.8 96.6h0M391.2 91.2h0M419.9 74.7h0M393.6 93.8h0M396.4 95.4h0M383.7 94.5h0M421.2 85.5h0M480.6 72.5h0M475.4 57.3h0M417.4 79.0h0M421.4 83.6h0M482.0 58.6h0M475.1 64.9h0M417.8 81.1h0M396.8 93.1h0M403.8 88.5h0M410.2 89.3h0M487.3 47.3h0M415.3 86.1h0M409.9 86.6h0M404.1 89.3h0M487.0 57.0h0M417.8 82.7h0M416.1 85.5h0M483.9 53.2h0M418.0 91.1h0M473.4 76.2h0M468.9 67.0h0M491.4 66.1h0M394.4 90.8h0M473.9 65.6h0M406.1 90.5h0M470.7 62.5h0M387.1 94.6h0M413.8 91.2h0M387.3 95.0h0M386.6 92.3h0M387.6 99.2h0M408.9 84.8h0M381.4 95.8h0M414.6 86.8h0M439.1 74.0h0M439.9 77.9h0M414.9 92.3h0M444.6 74.9h0M460.7 77.0h0M386.8 98.8h0M416.4 82.1h0M443.9 76.4h0M484.3 56.3h0M434.9 80.0h0M485.9 50.2h0M485.4 63.1h0M392.8 93.3h0M456.1 79.4h0M403.1 93.2h0M400.6 85.9h0M401.2 94.6h0M468.2 84.2h0M406.9 93.6h0M479.9 51.3h0M478.1 72.1h0M443.2 89.3h0M495.7 67.5h0M388.6 87.7h0M494.3 75.6h0M385.3 97.7h0M388.1 93.0h0M386.3 91.8h0M453.8 83.6h0M488.5 50.8h0M386.2 92.9h0M389.4 97.1h0M460.0 70.1h0M391.7 94.1h0M389.1 95.5h0M483.4 69.5h0M496.7 58.7h0M401.4 87.2h0M474.7 48.5h0M475.6 65.3h0M475.7 57.4h0M390.1 92.4h0M386.3 93.8h0M391.3 94.6h0M473.4 62.0h0M456.0 72.2h0M481.2 63.8h0M466.2 74.9h0M483.0 62.6h0M392.2 93.0h0M405.1 90.3h0M464.4 74.1h0M472.8 59.5h0M469.5 66.7h0M381.5 98.3h0M480.9 50.7h0M409.3 90.5h0M405.5 89.9h0M403.0 88.3h0M469.8 75.8h0M482.1 46.6h0M405.3 90.7h0M404.8 92.2h0M471.6 67.2h0M498.1 51.6h0M495.2 66.1h0M408.9 78.0h0M467.9 67.0h0M396.8 98.6h0M385.5 95.3h0M399.7 87.0h0M383.1 95.2h0M393.7 90.4h0M386.6 93.4h0M390.9 91.7h0M494.2 57.5h0M416.8 84.7h0M381.5 99.2h0M402.2 90.9h0M493.7 47.2h0M470.6 62.4h0M469.2 76.0h0M393.8 93.0h0M410.3 90.0h0M495.3 60.4h0M403.8 93.9h0M415.3 87.1h0M393.8 88.5h0M496.0 54.5h0M493.1 60.9h0M389.0 93.8h0M401.5 95.3h0M398.7 89.4h0M395.0 89.1h0M417.8 82.6h0M404.2 97.4h0M400.7 87.4h0M484.8 58.7h0M412.2 88.1h0M477.4 58.3h0M384.8 98.6h0M419.4 81.0h0M495.0 59.1h0M403.2 92.7h0M409.0 92.7h0M489.5 55.9h0M397.9 91.2h0M414.3 91.5h0M477.6 68.2h0M478.4 54.7h0M479.9 61.8h0M395.5 92.4h0M433.6 83.3h0M413.7 88.5h0M441.0 76.4h0M486.3 61.1h0M463.4 75.1h0M474.8 63.3h0M406.6 90.2h0M436.5 85.8h0M445.7 81.2h0M391.2 90.3h0M484.9 77.8h0M394.5 92.4h0M407.3 90.6h0M486.1 57.2h0M492.3 49.2h0M437.1 73.2h0M388.8 96.6h0M473.4 47.4h0M398.2 93.6h0M489.1 60.6h0M397.6 92.0h0M389.7 92.5h0M401.4 90.2h0M464.9 73.4h0M396.9 94.3h0M461.6 72.6h0M384.4 94.8h0M420.0 79.5h0M406.4 90.5h0M412.9 83.5h0M386.9 95.7h0M410.3 85.9h0M467.8 59.1h0M427.7 81.2h0M450.4 80.5h0M407.5 89.8h0M433.1 74.9h0M394.9 95.1h0M413.3 83.3h0M404.4 89.7h0M475.6 78.4h0M390.9 92.8h0M410.7 87.8h0M481.2 63.9h0M397.8 88.7h0M409.2 91.8h0M420.9 81.2h0M457.5 76.0h0M400.6 85.3h0M399.9 94.7h0M418.0 80.8h0M418.3 89.0h0M393.1 93.7h0M492.8 78.4h0M391.2 93.5h0M393.3 99.1h0M472.0 56.6h0M412.4 87.7h0M492.8 62.2h0M405.5 88.8h0M391.4 99.0h0M423.4 85.5h0M397.5 79.2h0M486.8 69.1h0M476.9 57.9h0M417.5 85.4h0" stroke="#2a2aff" stroke-opacity="0.60" stroke-width="1.35" stroke-linecap="square" fill="none"/>
<path d="M391.3 90.7h0M384.5 98.8h0M471.9 69.7h0M395.7 91.9h0M494.6 68.1h0M394.5 89.4h0M399.7 87.1h0M407.8 87.4h0M495.8 66.7h0M415.7 88.8h0M382.8 90.9h0M474.0 63.1h0M405.6 91.7h0M416.4 84.9h0M497.8 44.9h0M395.1 87.4h0M487.0 55.3h0M412.4 86.1h0M467.7 63.1h0M486.3 80.3h0M393.2 91.4h0M406.9 88.9h0M393.0 88.0h0M479.2 65.4h0M391.8 93.7h0M411.6 83.8h0M431.0 74.6h0M390.4 98.1h0M405.8 89.0h0M392.0 93.1h0M410.6 89.0h0M453.4 70.4h0M483.7 66.3h0M417.5 83.0h0M475.9 56.5h0M488.3 76.5h0M386.5 95.5h0M419.8 91.9h0M461.6 67.3h0M474.1 61.8h0M449.1 77.5h0M409.4 79.7h0M475.5 63.1h0M443.3 71.1h0M439.2 69.6h0M491.8 50.8h0M392.8 91.5h0M442.6 77.9h0M407.6 87.9h0M430.1 79.0h0M397.3 93.8h0M413.9 88.9h0M388.0 97.5h0M382.1 97.6h0M447.8 81.5h0M463.4 77.1h0M401.0 88.0h0M495.3 65.5h0M472.1 55.8h0M495.9 49.1h0M420.4 79.3h0M419.3 81.3h0M385.8 97.7h0M389.4 96.2h0M412.9 84.4h0M414.2 84.2h0M412.8 83.0h0M429.4 81.0h0M460.9 77.4h0M420.9 84.7h0M405.2 86.2h0M388.8 99.0h0M419.5 91.1h0M453.9 77.0h0M412.3 89.1h0M387.9 96.6h0M410.5 87.4h0M420.5 78.0h0M479.7 62.2h0M484.7 60.3h0M409.1 83.6h0M400.3 92.3h0M396.4 89.2h0M417.7 85.3h0M477.9 57.9h0M381.8 99.1h0M461.1 64.8h0M382.1 94.5h0M471.4 66.4h0M412.5 86.9h0M384.1 94.8h0M495.5 77.5h0M403.4 88.9h0M488.6 80.3h0M485.5 57.7h0M479.7 56.8h0M442.4 75.7h0M433.1 79.5h0M409.2 87.4h0M426.3 87.9h0M383.6 95.4h0M421.2 88.5h0M386.5 92.3h0M467.1 64.1h0M416.7 84.9h0M385.6 94.6h0M480.3 56.0h0M421.6 82.7h0M390.9 92.1h0M479.2 48.5h0M470.0 58.5h0M478.1 75.7h0M472.6 68.3h0M464.8 64.4h0M381.5 95.0h0M470.9 66.5h0M475.3 72.7h0M460.6 67.2h0M399.7 94.9h0M491.3 58.4h0M396.9 93.4h0M493.5 73.3h0M458.1 78.0h0M399.5 95.7h0M384.6 96.9h0M467.2 69.9h0M402.7 90.3h0M481.6 69.0h0M447.4 77.1h0M419.1 85.2h0M440.1 78.3h0M470.6 62.2h0M399.3 88.3h0M410.8 92.8h0M472.0 68.9h0M399.5 89.1h0M421.3 85.8h0M488.5 50.2h0M481.1 51.1h0M482.7 69.5h0M414.1 83.4h0M395.4 88.1h0M391.2 98.9h0M385.1 96.0h0M406.9 89.0h0M474.3 56.4h0M489.4 48.5h0M392.7 96.1h0M496.2 58.6h0M436.9 81.9h0M474.2 64.0h0M418.8 83.7h0M486.2 57.4h0M447.0 76.1h0M465.5 60.7h0M447.7 79.8h0M398.8 92.0h0M416.4 89.0h0M402.0 90.2h0M441.8 75.1h0M400.8 90.0h0M420.7 80.1h0M387.8 96.0h0M390.0 94.9h0M432.4 76.5h0M410.8 88.6h0M420.8 87.2h0M404.6 89.2h0M387.6 89.1h0M495.2 58.0h0M420.8 88.0h0M387.6 96.8h0M446.8 79.7h0M404.9 91.1h0M449.8 77.9h0M411.1 91.6h0M392.5 99.1h0M492.5 64.7h0M409.5 88.4h0M493.2 68.5h0M449.6 86.8h0M497.3 77.9h0M406.4 89.9h0M411.2 87.3h0M404.9 92.6h0M389.4 87.9h0M479.5 58.8h0M487.3 64.0h0M385.8 93.2h0M413.0 90.9h0M382.2 94.5h0M392.7 89.4h0M421.5 85.4h0M392.5 96.0h0M490.1 56.5h0M409.2 85.8h0M416.2 89.9h0M401.2 91.2h0M382.6 97.0h0M392.8 93.9h0M416.6 90.5h0" stroke="#2a2aff" stroke-opacity="0.90" stroke-width="1.35" stroke-linecap="square" fill="none"/>
<path d="M381.3,97.6 382.3,97.3 383.3,96.9 384.3,96.5 385.3,96.1 386.3,95.8 387.3,95.4 388.3,95.1 389.3,94.7 390.3,94.4 391.3,94.0 392.3,93.7 393.3,93.4 394.3,93.0 395.3,92.7 396.3,92.4 397.3,92.1 398.3,91.8 399.3,91.5 400.3,91.2 401.3,90.9 402.3,90.6 403.3,90.3 404.3,90.0 405.3,89.7 406.3,89.4 407.3,89.2 408.3,88.9 409.3,88.6 410.3,88.3 411.3,88.1 412.3,87.8 413.3,87.5 414.3,87.3 415.3,87.0 416.3,86.7 417.3,86.5 418.3,86.2 419.3,85.9 420.3,85.7 421.3,85.4 422.3,85.2 423.3,84.9 424.3,84.7 425.3,84.4 426.3,84.2 427.3,83.9 428.3,83.6 429.3,83.4 430.3,83.1 431.3,82.9 432.3,82.6 433.3,82.4 434.3,82.1 435.3,81.8 436.3,81.6 437.3,81.3 438.3,81.0 439.3,80.8 440.3,80.5 441.3,80.2 442.3,80.0 443.3,79.7 444.3,79.4 445.3,79.1 446.3,78.8 447.3,78.6 448.3,78.3 449.3,78.0 450.3,77.7 451.3,77.4 452.3,77.1 453.3,76.8 454.3,76.5 455.3,76.2 456.3,75.9 457.3,75.6 458.3,75.3 459.3,74.9 460.3,74.6 461.3,74.3 462.3,74.0 463.3,73.7 464.3,73.4 465.3,73.2 466.3,72.9 467.3,72.6 468.3,72.3 469.3,72.1 470.3,71.8 471.3,71.6 472.3,71.4 473.3,71.1 474.3,70.9 475.3,70.7 476.3,70.5 477.3,70.4 478.3,70.2 479.3,70.1 480.3,69.9 481.3,69.8 482.3,69.7 483.3,69.6 484.3,69.5 485.3,69.5 486.3,69.4 487.3,69.4 488.3,69.4 489.3,69.3 490.3,69.3 491.3,69.3 492.3,69.4 493.3,69.4 494.3,69.5 495.3,69.5 496.3,69.6 497.3,69.7 498.3,69.8" stroke="#ff22ff" stroke-width="1.35" fill="none" stroke-linecap="round" stroke-linejoin="round"/>
<path d="M381.3,97.3 382.3,96.9 383.3,96.5 384.3,96.1 385.3,95.7 386.3,95.3 387.3,94.9 388.3,94.5 389.3,94.2 390.3,93.8 391.3,93.5 392.3,93.1 393.3,92.8 394.3,92.5 395.3,92.1 396.3,91.8 397.3,91.5 398.3,91.2 399.3,90.9 400.3,90.6 401.3,90.3 402.3,90.0 403.3,89.7 404.3,89.4 405.3,89.1 406.3,88.8 407.3,88.5 408.3,88.2 409.3,87.9 410.3,87.7 411.3,87.4 412.3,87.1 413.3,86.8 414.3,86.5 415.3,86.3 416.3,86.0 417.3,85.7 418.3,85.4 419.3,85.1 420.3,84.9 421.3,84.6 422.3,84.3 423.3,84.0 424.3,83.7 425.3,83.4 426.3,83.1 427.3,82.8 428.3,82.5 429.3,82.2 430.3,81.9 431.3,81.6 432.3,81.2 433.3,80.9 434.3,80.6 435.3,80.3 436.3,79.9 437.3,79.6 438.3,79.2 439.3,78.8 440.3,78.5 441.3,78.1 442.3,77.7 443.3,77.3 444.3,76.9 445.3,76.5 446.3,76.1 447.3,75.7 448.3,75.3 449.3,74.8 450.3,74.4 451.3,74.0 452.3,73.5 453.3,73.1 454.3,72.6 455.3,72.2 456.3,71.7 457.3,71.3 458.3,70.8 459.3,70.4 460.3,69.9 461.3,69.5 462.3,69.0 463.3,68.6 464.3,68.1 465.3,67.7 466.3,67.3 467.3,66.8 468.3,66.4 469.3,66.0 470.3,65.6 471.3,65.2 472.3,64.8 473.3,64.4 474.3,64.0 475.3,63.6 476.3,63.2 477.3,62.9 478.3,62.6 479.3,62.2 480.3,61.9 481.3,61.6 482.3,61.3 483.3,61.0 484.3,60.8 485.3,60.5 486.3,60.3 487.3,60.1 488.3,59.9 489.3,59.7 490.3,59.5 491.3,59.4 492.3,59.3 493.3,59.1 494.3,59.1 495.3,59.0 496.3,58.9 497.3,58.9 498.3,58.9" stroke="#1414ff" stroke-width="1.60" fill="none" stroke-linecap="round" stroke-linejoin="round"/>
<path d="M379.20,13.60V100.00M376.00,100.00H379.20M376.00,71.20H379.20M376.00,42.40H379.20M376.00,13.60H379.20M379.20,100.00V103.30" stroke="#232323" stroke-width="1.25" fill="none"/>
<path d="M379.20,100.00H505.10M391.74,100.00V103.30M404.28,100.00V103.30M416.82,100.00V103.30M429.36,100.00V103.30M441.90,100.00V103.30M454.44,100.00V103.30M466.98,100.00V103.30M479.52,100.00V103.30M492.06,100.00V103.30M504.60,100.00V103.30" stroke="#2a2a2a" stroke-width="1.4" fill="none"/>
<text transform="translate(374.20,102.90) scale(0.83,1)" text-anchor="end" class="tk">0</text>
<text transform="translate(374.20,74.10) scale(0.83,1)" text-anchor="end" class="tk">50</text>
<text transform="translate(374.20,45.30) scale(0.83,1)" text-anchor="end" class="tk">100</text>
<text transform="translate(374.20,16.50) scale(0.83,1)" text-anchor="end" class="tk">150</text>
<text transform="translate(357.40,57.15) rotate(-90)" text-anchor="middle" textLength="36.50" lengthAdjust="spacingAndGlyphs" class="yl">IPVV<tspan style="font-size:5.3px" dy="1.8">LL</tspan><tspan dy="-1.8">(mL)</tspan></text>
<text x="341.00" y="11.40" class="lt">c</text>
<path d="M566.34,99V13.20M578.88,99V13.20M591.42,99V13.20M603.96,99V13.20M616.50,99V13.20M629.04,99V13.20M641.58,99V13.20M654.12,99V13.20M666.66,99V13.20M679.20,99V13.20" stroke="#f0f0f0" stroke-width="0.9" fill="none"/>
<path d="M566.34,99V13.20M578.88,99V13.20M591.42,99V13.20M603.96,99V13.20M616.50,99V13.20M629.04,99V13.20M641.58,99V13.20M654.12,99V13.20M666.66,99V13.20M679.20,99V13.20" stroke="#bababa" stroke-width="0.9" stroke-dasharray="1,1" fill="none"/>
<path d="M553,82.50H679.20M553,65.50H679.20M553,47.50H679.20M553,30.50H679.20M553,13.50H679.20" stroke="#a6a6a6" stroke-width="1" stroke-dasharray="1.2,0.8" fill="none"/>
<path d="M557.5 93.2h0M564.6 85.8h0M666.9 67.8h0M588.5 87.8h0M607.9 80.4h0M651.8 70.0h0M642.6 69.9h0M648.2 63.5h0M653.2 77.3h0M645.4 85.4h0M578.3 88.9h0M643.1 76.0h0M653.9 74.5h0M564.3 93.6h0M622.7 72.2h0M565.8 89.8h0M576.4 86.2h0M575.2 88.1h0M597.5 84.9h0M563.2 90.6h0M652.9 78.7h0M590.1 90.1h0M649.4 85.4h0M577.1 89.7h0M651.0 88.7h0M557.4 93.8h0M580.4 85.7h0M644.4 74.1h0M670.9 66.4h0M568.1 88.9h0M589.5 90.7h0M556.3 91.2h0M589.1 84.2h0M557.7 96.3h0M592.2 86.6h0M614.7 75.9h0M562.1 93.5h0M592.6 87.2h0M585.9 87.0h0M603.4 87.9h0M572.1 91.6h0M661.9 64.5h0M570.9 89.8h0M565.9 92.2h0M578.1 87.8h0M585.6 86.9h0M629.5 79.3h0M561.6 93.5h0M619.3 88.4h0M601.0 79.6h0M627.4 83.1h0M573.3 87.5h0M570.9 92.6h0M657.3 57.8h0M563.7 87.5h0M655.3 76.1h0M596.9 77.3h0M575.1 84.7h0M595.4 86.0h0M567.8 85.6h0M575.8 92.1h0M556.1 92.4h0M592.2 81.6h0M588.0 86.5h0M572.1 90.9h0M557.2 98.8h0M602.0 88.8h0M564.8 93.5h0M558.4 92.8h0M597.4 83.5h0M605.9 89.0h0M594.7 81.6h0M649.6 75.5h0M671.2 70.8h0M570.8 92.4h0M589.9 82.0h0M570.9 88.2h0M572.0 89.0h0M645.8 77.0h0M584.7 80.7h0M593.7 86.8h0M576.0 84.6h0M584.7 87.5h0M588.0 86.1h0M631.1 70.1h0M579.9 89.9h0M572.8 92.3h0M654.3 67.4h0M618.7 84.8h0M667.4 63.3h0M562.0 92.8h0M663.7 70.7h0M579.4 90.0h0M614.8 73.9h0M569.5 88.7h0M570.8 92.1h0M644.6 82.6h0M587.0 72.6h0M591.4 84.3h0M590.0 82.3h0M574.1 91.2h0M607.6 74.3h0M562.4 94.8h0M559.4 86.4h0M666.5 73.7h0M572.2 85.3h0M666.9 69.7h0M660.2 66.5h0M559.1 92.4h0M636.0 67.9h0M585.6 82.6h0M632.6 80.2h0M559.3 91.7h0M575.2 92.0h0M625.7 77.3h0M580.9 78.8h0M672.7 76.8h0M583.4 81.9h0M667.7 69.6h0M624.1 84.6h0M605.3 79.8h0M596.5 80.7h0M564.3 89.4h0M577.2 91.1h0M642.6 80.3h0M576.8 83.8h0M652.6 62.6h0M655.8 71.1h0M566.7 87.3h0M666.4 61.7h0M561.8 95.4h0M620.6 80.8h0M562.0 93.3h0M598.7 86.2h0M565.3 92.9h0M588.6 87.4h0M591.9 82.9h0M563.8 90.7h0M666.3 60.1h0M657.1 70.0h0M624.1 85.3h0M652.1 68.5h0M567.1 89.9h0M606.2 82.8h0M667.3 68.0h0M569.6 86.2h0M597.1 79.0h0M576.9 84.0h0M595.2 78.0h0M587.1 82.8h0M560.6 92.4h0M612.8 90.1h0M594.4 84.3h0M586.5 77.5h0M643.1 76.1h0M608.1 68.0h0M665.7 63.9h0M648.3 73.3h0M607.2 86.5h0M574.8 94.1h0M643.5 85.9h0M661.5 60.9h0M576.6 85.6h0M566.3 90.4h0M585.1 85.9h0M631.6 73.4h0M596.7 82.3h0M590.8 84.7h0M562.5 96.0h0M591.7 85.3h0M568.9 95.3h0M582.9 83.6h0M595.0 83.4h0" stroke="#ff33ff" stroke-opacity="0.35" stroke-width="1.35" stroke-linecap="square" fill="none"/>
<path d="M570.7 83.4h0M667.2 90.0h0M664.4 63.1h0M587.6 82.0h0M661.5 84.3h0M558.7 94.0h0M654.5 81.1h0M662.9 65.9h0M576.7 84.6h0M648.6 76.9h0M588.4 84.6h0M585.9 79.2h0M590.1 84.1h0M649.2 77.8h0M577.4 89.5h0M646.7 65.7h0M560.7 94.2h0M571.4 89.4h0M632.1 83.4h0M653.4 79.3h0M580.1 86.9h0M651.4 70.2h0M561.7 92.3h0M567.2 86.4h0M584.9 77.6h0M664.7 69.9h0M656.8 65.0h0M569.7 89.2h0M668.5 70.8h0M642.5 71.3h0M588.8 82.1h0M565.9 86.7h0M656.7 67.4h0M671.6 83.1h0M595.1 84.9h0M573.4 87.5h0M653.1 68.1h0M666.7 67.5h0M596.5 82.8h0M658.5 85.0h0M622.7 68.1h0M574.9 88.3h0M577.2 89.1h0M667.9 73.8h0M597.1 88.4h0M582.8 84.2h0M590.4 82.1h0M643.4 83.2h0M593.8 80.4h0M613.6 71.9h0M575.5 92.7h0M589.5 91.8h0M594.3 85.8h0M562.8 89.2h0M560.2 93.0h0M666.1 76.5h0M663.0 76.2h0M589.4 83.5h0M570.3 90.6h0M582.4 84.4h0M568.0 90.0h0M619.0 83.6h0M573.3 85.5h0M577.8 88.9h0M650.9 85.6h0M668.2 84.8h0M649.7 78.3h0M608.6 73.1h0M667.7 64.4h0M584.7 88.8h0M590.6 87.8h0M658.2 77.0h0M602.1 85.2h0M612.8 87.5h0M667.6 78.5h0M650.2 66.4h0M658.4 73.8h0M562.6 92.3h0M559.8 94.4h0M667.9 68.9h0M644.0 75.2h0M556.9 95.2h0M624.6 79.0h0M586.8 84.2h0M583.8 82.7h0M617.0 85.3h0M616.7 77.5h0M578.7 85.3h0M570.5 91.7h0M575.8 88.6h0M567.9 83.6h0M578.4 86.5h0M594.8 78.6h0M568.1 88.2h0M593.7 81.1h0M583.3 86.6h0M645.8 86.1h0M567.6 94.2h0M576.3 83.3h0M586.3 86.4h0M563.8 90.2h0M620.7 67.3h0M671.3 84.3h0M659.1 76.7h0M567.8 91.8h0M598.0 81.2h0M607.6 81.4h0M668.0 64.5h0M575.0 84.0h0M661.0 76.5h0M637.4 73.0h0M572.6 87.4h0M644.1 58.9h0M657.6 70.8h0M603.6 84.2h0M590.5 82.6h0M645.0 76.0h0M643.9 75.7h0M577.0 91.9h0M587.4 75.7h0M581.1 87.4h0M565.3 93.8h0M565.4 89.5h0M634.8 66.3h0M591.7 77.4h0M585.6 85.3h0M587.9 86.7h0M595.5 71.7h0M641.5 86.1h0M576.5 87.0h0M608.5 86.1h0M576.8 85.5h0M574.2 91.7h0M583.9 82.4h0M668.9 72.9h0M575.8 85.9h0M564.3 92.5h0M567.3 91.8h0M635.6 60.3h0M568.1 89.6h0M562.4 97.9h0M615.4 81.8h0M664.0 64.8h0M650.4 66.2h0M663.3 77.1h0M560.1 96.6h0M567.2 92.1h0M560.2 90.3h0M583.9 88.6h0M593.1 79.8h0M580.8 91.3h0M563.9 94.1h0M569.6 92.2h0M566.6 91.4h0M580.6 86.6h0M662.7 76.4h0M608.4 86.1h0M587.3 73.5h0M632.3 63.3h0M659.2 80.3h0M595.8 77.4h0M599.8 81.2h0M569.4 89.5h0M579.0 80.2h0M583.7 78.8h0M572.1 88.1h0M572.3 87.6h0M582.4 89.8h0M644.1 76.5h0M593.1 74.2h0M562.3 91.6h0M614.8 75.4h0M559.1 88.7h0M555.8 91.9h0M561.8 90.6h0M651.4 70.5h0M645.4 62.4h0M560.0 90.8h0M566.6 89.2h0M562.1 96.5h0M667.7 71.6h0M561.3 96.8h0" stroke="#ff33ff" stroke-opacity="0.60" stroke-width="1.35" stroke-linecap="square" fill="none"/>
<path d="M622.6 86.1h0M658.6 65.8h0M575.7 91.9h0M588.0 89.8h0M581.9 92.7h0M557.9 94.9h0M603.6 79.6h0M563.1 97.0h0M645.2 71.7h0M592.2 83.7h0M644.6 63.9h0M660.0 77.3h0M559.6 93.7h0M624.7 81.9h0M580.0 84.3h0M570.6 92.4h0M557.0 98.6h0M647.6 82.2h0M559.0 94.1h0M613.1 76.4h0M561.0 92.5h0M671.0 65.6h0M671.4 67.1h0M624.0 73.1h0M576.9 90.5h0M649.6 74.0h0M573.0 91.4h0M593.4 82.4h0M616.5 73.0h0M568.9 89.9h0M569.9 89.3h0M616.1 62.3h0M595.4 79.3h0M581.9 84.8h0M664.5 72.0h0M623.9 82.4h0M659.9 67.9h0M578.6 94.0h0M585.7 86.4h0M556.7 93.9h0M629.5 74.4h0M587.2 91.1h0M583.9 82.4h0M592.3 82.4h0M589.5 85.5h0M629.4 83.7h0M594.5 77.8h0M651.9 74.2h0M569.8 91.7h0M561.2 94.5h0M571.7 90.8h0M585.3 86.7h0M557.8 92.3h0M650.0 86.0h0M576.6 85.1h0M592.8 85.3h0M572.8 86.7h0M557.0 95.8h0M557.9 93.5h0M561.1 94.0h0M585.6 91.7h0M649.1 74.5h0M659.8 59.5h0M620.2 74.0h0M656.7 74.8h0M652.7 75.0h0M653.3 71.7h0M634.9 74.1h0M594.0 74.7h0M645.4 83.8h0M661.4 81.8h0M635.6 82.0h0M662.7 62.9h0M588.8 81.2h0M592.1 85.5h0M641.6 76.2h0M670.6 74.6h0M587.3 86.1h0M570.4 87.8h0M585.3 84.8h0M578.5 88.2h0M600.2 76.1h0M586.5 78.0h0M626.3 71.6h0M597.4 77.5h0M634.7 73.6h0M609.8 84.2h0M657.1 75.1h0M587.0 89.1h0M559.9 93.5h0M586.0 79.6h0M566.8 87.8h0M586.2 80.2h0M567.4 88.7h0M650.2 84.4h0M635.8 74.3h0M594.6 80.0h0M590.4 81.2h0M568.6 91.7h0M564.6 93.7h0M664.0 66.2h0M561.6 85.1h0M586.9 83.6h0M657.1 79.3h0M603.0 90.9h0M574.4 88.5h0M634.5 75.3h0M572.0 88.9h0M570.5 91.8h0M624.4 66.4h0M633.7 79.9h0M563.3 94.4h0M658.1 67.6h0M657.8 59.0h0M582.5 88.0h0M575.3 91.1h0M571.6 86.1h0M557.7 95.6h0M655.4 72.6h0M576.2 84.7h0M610.2 86.0h0M563.0 92.6h0M580.7 92.7h0M565.9 92.2h0M644.0 72.0h0M567.8 90.1h0M555.9 91.0h0M651.7 75.2h0M646.9 83.6h0M560.5 91.8h0M611.4 83.3h0M665.5 62.6h0M619.7 91.0h0M624.2 62.4h0M588.7 83.8h0M562.6 94.7h0M574.8 97.5h0M569.9 88.6h0M561.2 93.4h0M583.4 86.6h0M672.4 68.4h0M656.6 60.3h0M596.8 82.2h0M577.6 91.4h0M670.7 68.6h0" stroke="#ff33ff" stroke-opacity="0.90" stroke-width="1.35" stroke-linecap="square" fill="none"/>
<path d="M610.9 86.3h0M567.5 90.8h0M576.5 84.3h0M625.0 78.2h0M561.8 90.4h0M657.0 71.9h0M627.1 80.9h0M624.0 73.0h0M670.9 69.2h0M611.6 67.7h0M635.5 63.6h0M648.5 61.1h0M642.3 59.3h0M582.6 86.4h0M573.1 94.4h0M659.7 70.7h0M654.7 52.8h0M561.1 94.2h0M567.0 89.3h0M587.9 71.0h0M567.4 91.4h0M587.9 79.6h0M589.0 89.4h0M623.2 74.2h0M563.0 91.4h0M591.5 83.5h0M590.1 79.7h0M570.5 88.6h0M661.3 62.4h0M618.9 76.1h0M630.5 66.8h0M574.1 89.8h0M647.0 55.4h0M557.9 97.6h0M650.1 53.8h0M645.0 46.4h0M577.9 91.2h0M658.4 42.8h0M621.8 71.9h0M595.3 81.3h0M595.4 80.3h0M644.4 65.4h0M594.8 78.8h0M567.1 87.0h0M558.7 94.2h0M561.6 89.4h0M562.2 87.8h0M658.3 70.4h0M579.1 85.1h0M580.7 89.1h0M592.7 86.5h0M559.9 94.0h0M595.4 74.7h0M659.9 65.6h0M597.0 81.0h0M597.9 87.5h0M579.6 90.5h0M578.3 84.1h0M591.2 77.0h0M567.7 89.3h0M584.4 76.7h0M668.0 53.0h0M565.3 88.1h0M668.4 81.3h0M574.6 77.4h0M583.7 85.8h0M556.3 96.4h0M556.5 98.9h0M570.7 82.8h0M658.3 58.4h0M591.2 77.7h0M568.8 86.4h0M590.4 73.7h0M664.0 48.0h0M577.5 89.2h0M627.4 57.2h0M587.4 77.8h0M569.7 83.6h0M647.7 73.2h0M561.0 88.8h0M645.9 60.8h0M575.0 91.7h0M578.2 85.5h0M634.4 88.5h0M584.8 80.1h0M584.3 85.6h0M579.0 86.8h0M652.8 60.6h0M609.7 64.7h0M558.3 93.7h0M586.2 76.5h0M578.2 87.9h0M577.0 86.1h0M568.1 88.4h0M577.9 80.4h0M566.0 88.4h0M577.7 84.0h0M664.2 54.2h0M573.8 86.7h0M557.7 94.0h0M569.5 88.3h0M576.7 84.0h0M579.8 80.6h0M616.6 87.7h0M641.0 78.1h0M646.3 73.2h0M644.2 65.2h0M672.9 66.1h0M570.2 90.3h0M596.4 79.9h0M566.6 86.9h0M583.1 81.7h0M625.2 62.0h0M651.3 52.5h0M568.1 87.9h0M586.9 86.6h0M599.7 75.2h0M642.4 94.2h0M594.3 84.4h0M651.9 65.0h0M575.6 85.1h0M560.1 91.5h0M642.9 65.4h0M581.1 88.6h0M596.9 69.5h0M583.3 92.6h0M570.4 91.8h0M591.1 85.4h0M650.9 76.5h0M586.3 75.1h0M596.7 77.0h0M595.6 77.7h0M579.4 84.8h0M642.1 75.5h0M567.2 85.6h0M572.8 84.1h0M648.4 79.4h0M625.4 79.2h0M560.4 86.3h0M584.8 82.8h0M648.9 56.0h0M623.3 68.1h0M586.8 82.3h0M666.0 63.3h0M647.9 73.3h0M643.2 72.5h0M603.3 74.8h0M648.9 73.5h0M572.8 84.0h0M566.5 81.9h0M565.3 93.4h0M569.8 92.2h0M589.3 85.5h0M590.5 89.6h0M582.8 84.0h0M671.8 48.5h0M577.7 85.9h0M583.3 72.1h0M641.9 95.1h0M589.0 76.2h0M670.2 33.8h0M597.0 76.0h0M575.9 87.1h0M662.9 71.8h0M574.6 81.7h0M587.5 87.6h0M575.8 91.9h0M566.4 89.6h0M580.7 86.2h0M666.6 60.7h0M558.0 97.3h0M566.4 89.4h0M665.8 55.7h0M653.6 65.8h0M614.5 69.4h0M573.2 93.3h0M572.8 87.2h0M642.0 51.0h0M556.9 94.4h0M570.8 82.4h0M666.7 56.3h0M642.3 69.5h0M643.0 69.7h0M577.9 75.0h0M567.5 90.4h0M582.3 81.7h0M588.6 80.1h0M643.7 59.7h0M585.4 95.7h0M573.2 98.7h0M578.8 83.9h0M572.1 89.3h0M574.3 98.4h0M568.1 89.2h0M558.1 92.4h0M572.3 88.1h0M588.5 85.8h0M602.5 83.1h0M559.8 87.4h0M657.5 68.8h0M592.8 79.1h0M627.7 42.0h0M578.9 87.4h0M611.6 84.7h0M583.5 88.8h0M561.0 88.9h0M593.7 81.4h0M670.6 60.7h0M558.6 95.8h0M589.5 87.6h0M592.6 87.8h0M559.8 97.1h0M658.6 50.8h0M562.3 92.8h0M559.0 94.8h0M659.2 52.2h0M585.2 78.1h0M623.6 77.0h0M591.8 75.0h0M595.4 79.1h0M595.0 75.6h0M564.5 91.0h0M620.1 75.5h0M588.0 80.3h0M632.3 68.7h0M574.2 84.9h0M564.5 91.3h0M588.6 86.2h0M595.4 78.2h0M564.5 90.4h0" stroke="#2a2aff" stroke-opacity="0.35" stroke-width="1.35" stroke-linecap="square" fill="none"/>
<path d="M582.9 76.7h0M609.6 89.3h0M659.6 65.1h0M652.8 59.0h0M580.5 90.5h0M618.3 57.5h0M609.8 90.3h0M595.0 88.0h0M571.2 83.4h0M644.2 54.7h0M558.8 94.1h0M566.9 87.1h0M588.4 80.6h0M650.0 70.0h0M590.8 71.6h0M569.7 83.8h0M560.7 97.3h0M596.4 76.0h0M654.8 82.9h0M670.2 68.6h0M586.1 94.0h0M595.3 82.7h0M565.6 92.0h0M664.6 49.6h0M557.1 92.3h0M661.5 47.5h0M606.4 65.8h0M635.2 63.4h0M659.7 75.7h0M578.8 83.2h0M577.7 92.0h0M594.9 71.3h0M579.7 86.7h0M591.3 87.8h0M609.7 75.7h0M621.7 76.1h0M592.5 93.2h0M578.5 87.0h0M670.1 53.7h0M586.7 82.5h0M648.3 59.7h0M582.0 85.7h0M576.9 82.1h0M568.3 90.6h0M646.1 61.8h0M574.0 80.7h0M671.4 39.5h0M575.6 83.5h0M592.9 92.5h0M667.1 64.0h0M569.6 92.0h0M595.5 81.0h0M652.1 53.8h0M596.8 87.1h0M664.2 53.2h0M574.6 86.4h0M561.3 95.6h0M637.5 49.7h0M563.2 88.0h0M601.2 93.2h0M662.7 50.1h0M663.1 58.0h0M570.0 83.8h0M665.2 48.3h0M655.2 61.6h0M572.9 83.6h0M662.6 45.0h0M597.3 79.9h0M589.7 87.2h0M574.5 92.6h0M657.8 59.5h0M585.6 74.8h0M568.1 89.8h0M565.4 87.4h0M590.5 80.8h0M644.5 47.2h0M652.2 73.1h0M572.3 81.9h0M556.3 93.2h0M624.6 61.3h0M589.4 85.9h0M567.3 89.0h0M596.2 76.8h0M667.4 93.5h0M575.4 83.1h0M593.7 93.1h0M558.9 99.0h0M595.8 82.6h0M597.0 76.7h0M596.8 84.8h0M665.3 43.7h0M659.1 62.9h0M591.5 77.8h0M558.1 93.7h0M591.2 75.1h0M556.2 96.0h0M660.9 83.2h0M576.3 87.3h0M597.0 72.8h0M641.8 56.2h0M651.1 54.1h0M652.8 55.9h0M558.6 90.5h0M556.9 88.6h0M588.9 86.7h0M643.9 85.4h0M559.3 91.6h0M664.2 92.1h0M586.1 84.1h0M642.3 68.4h0M589.3 80.3h0M643.9 69.7h0M663.4 61.8h0M591.1 84.0h0M591.5 81.5h0M583.4 85.9h0M569.2 87.8h0M566.3 98.6h0M572.9 87.2h0M661.8 58.4h0M587.9 75.1h0M584.8 91.2h0M637.6 65.2h0M581.5 85.7h0M591.9 86.5h0M577.0 88.1h0M642.8 51.7h0M627.9 87.1h0M651.8 51.5h0M558.2 90.0h0M569.8 81.2h0M620.7 75.8h0M567.3 92.1h0M557.3 95.9h0M645.9 45.8h0M576.4 84.7h0M658.6 68.4h0M597.7 84.2h0M667.3 66.2h0M628.7 58.2h0M600.0 71.3h0M644.6 61.9h0M556.3 91.6h0M560.5 92.9h0M567.9 94.2h0M567.4 87.1h0M594.2 83.4h0M589.0 83.0h0M580.9 89.4h0M657.1 45.0h0M652.9 56.9h0M660.4 73.7h0M563.0 90.5h0M557.0 94.4h0M644.9 57.3h0M666.0 56.2h0M609.3 73.4h0M584.0 90.1h0M569.3 89.1h0M579.5 88.6h0M661.9 40.7h0M585.9 80.8h0M647.2 76.8h0M623.6 72.3h0M576.9 88.2h0M624.6 62.3h0M623.1 71.7h0M581.8 88.6h0M613.2 66.8h0M568.9 86.0h0M657.2 73.6h0M649.5 56.1h0M567.1 87.6h0M659.0 73.7h0M564.4 87.9h0M658.1 79.0h0M583.1 76.1h0M561.1 92.3h0M666.5 86.2h0M659.1 75.2h0M651.2 66.8h0M560.4 89.6h0M558.7 96.4h0M644.0 38.8h0M589.3 77.9h0M578.2 85.5h0M588.7 79.9h0M588.0 87.7h0M568.1 90.5h0M609.6 79.9h0M670.1 70.4h0M573.0 88.2h0M583.4 84.3h0M649.4 56.5h0M563.0 87.6h0M588.5 86.7h0M572.6 88.2h0M631.3 67.4h0M564.8 92.9h0M649.6 77.7h0M562.2 93.6h0M590.7 83.0h0M585.3 82.6h0M672.6 75.0h0M581.8 76.4h0M646.8 64.4h0M564.6 90.5h0M605.5 74.5h0M563.7 91.1h0M647.3 61.0h0M575.5 86.1h0M571.1 87.8h0M670.7 73.5h0M597.1 73.7h0M576.1 86.5h0M564.6 91.1h0M663.7 68.3h0M579.0 74.0h0M567.9 86.0h0M625.5 61.1h0M562.2 90.1h0M573.8 88.1h0M555.8 95.7h0M562.8 91.6h0M652.8 65.9h0M586.6 75.5h0M614.8 78.6h0M572.0 90.5h0M578.4 81.9h0M636.6 85.4h0M592.0 80.6h0M648.0 69.6h0M643.7 62.4h0M567.2 87.0h0M638.5 62.1h0M625.8 76.8h0M657.2 61.5h0M565.0 88.3h0M563.2 91.5h0M584.4 79.6h0M644.7 60.4h0M558.2 96.5h0M622.8 77.5h0M667.3 62.7h0M619.4 82.6h0M645.1 88.4h0M585.1 80.4h0M585.6 77.1h0M657.9 51.5h0M661.1 73.1h0" stroke="#2a2aff" stroke-opacity="0.60" stroke-width="1.35" stroke-linecap="square" fill="none"/>
<path d="M623.5 78.9h0M641.0 43.9h0M646.8 90.7h0M640.4 74.6h0M583.0 94.6h0M558.9 94.0h0M650.4 60.5h0M578.2 85.5h0M585.5 87.4h0M577.7 94.3h0M573.6 85.0h0M663.7 36.9h0M626.8 62.9h0M670.1 53.2h0M633.4 73.5h0M588.3 88.0h0M640.9 75.8h0M588.1 77.5h0M647.1 64.3h0M650.3 73.1h0M664.3 57.4h0M645.1 62.2h0M662.9 62.2h0M590.7 76.4h0M660.6 58.6h0M566.8 91.4h0M659.8 58.3h0M585.4 84.9h0M585.4 86.1h0M562.4 94.7h0M569.2 87.9h0M653.8 67.3h0M559.1 91.5h0M672.3 68.3h0M655.3 56.5h0M651.2 76.5h0M568.7 86.7h0M601.7 67.9h0M567.4 90.7h0M580.4 88.7h0M665.6 83.8h0M582.2 90.6h0M658.6 48.6h0M582.0 89.3h0M660.4 57.3h0M577.0 84.4h0M596.5 81.5h0M670.0 63.7h0M652.4 48.9h0M636.3 68.8h0M662.9 91.5h0M570.0 84.1h0M653.8 57.0h0M569.9 92.1h0M563.4 95.0h0M616.8 84.2h0M587.4 85.5h0M670.4 47.4h0M664.0 75.7h0M576.4 84.5h0M561.1 94.4h0M634.4 58.3h0M663.3 49.8h0M560.1 87.8h0M653.3 68.1h0M592.6 84.3h0M580.0 84.8h0M570.0 84.9h0M570.6 88.1h0M569.4 92.7h0M566.1 89.8h0M578.7 86.5h0M569.8 89.0h0M575.9 81.4h0M672.9 54.5h0M566.0 88.4h0M653.4 71.2h0M559.6 87.9h0M583.1 78.1h0M561.3 93.6h0M627.2 56.3h0M558.5 91.5h0M570.5 87.8h0M571.8 92.9h0M589.6 82.2h0M564.8 86.4h0M652.0 71.9h0M618.2 73.4h0M571.1 84.8h0M578.1 79.0h0M657.1 60.0h0M562.7 87.9h0M584.7 89.9h0M569.1 86.2h0M561.5 89.7h0M611.5 65.3h0M661.2 60.1h0M564.5 86.2h0M661.8 44.2h0M644.7 64.0h0M648.1 65.0h0M591.5 79.7h0M564.3 98.6h0M663.8 68.4h0M581.6 83.8h0M654.7 75.5h0M573.1 87.7h0M585.6 84.4h0M630.9 66.9h0M583.2 87.0h0M672.2 58.8h0M646.8 32.1h0M668.6 57.1h0M570.8 88.1h0M662.3 56.3h0M585.9 81.3h0M658.3 81.1h0M670.8 48.2h0M667.3 73.0h0M585.2 80.7h0M653.9 72.7h0M572.3 85.8h0M577.8 84.7h0M592.8 81.1h0M623.0 62.8h0M596.9 79.3h0M577.3 88.1h0M609.5 77.6h0M599.5 86.4h0M593.7 82.6h0M582.8 89.9h0M582.2 79.1h0M590.6 80.6h0M556.7 90.3h0M660.8 71.3h0M564.0 95.2h0M656.7 42.1h0M600.0 92.1h0M557.9 95.1h0M659.7 52.1h0M558.9 91.2h0M565.0 88.1h0M587.1 75.7h0M555.8 93.5h0M670.1 45.4h0M587.3 86.1h0M606.3 83.3h0M565.8 92.7h0M662.7 61.7h0M583.3 83.2h0M641.7 49.3h0M590.6 85.6h0M658.2 78.7h0M594.7 76.4h0M586.0 74.2h0M620.6 77.0h0M566.0 93.3h0M584.8 76.4h0M575.3 84.9h0M622.6 85.1h0M598.5 89.5h0M671.2 62.4h0M642.4 48.0h0M583.1 87.7h0M595.5 82.7h0M565.7 86.4h0M647.2 78.0h0M649.0 59.5h0M582.5 82.6h0M587.7 98.4h0M633.8 71.3h0M593.1 83.0h0M585.1 79.5h0M582.6 87.0h0M568.3 88.1h0M621.0 74.7h0M626.5 68.0h0M558.0 93.8h0M592.9 81.4h0M634.1 88.3h0" stroke="#2a2aff" stroke-opacity="0.90" stroke-width="1.35" stroke-linecap="square" fill="none"/>
<path d="M555.6,95.3 556.6,94.9 557.6,94.5 558.6,94.1 559.6,93.7 560.6,93.3 561.6,92.9 562.6,92.5 563.6,92.2 564.6,91.8 565.6,91.4 566.6,91.0 567.6,90.7 568.6,90.3 569.6,90.0 570.6,89.6 571.6,89.3 572.6,88.9 573.6,88.6 574.6,88.3 575.6,87.9 576.6,87.6 577.6,87.3 578.6,87.0 579.6,86.7 580.6,86.4 581.6,86.1 582.6,85.7 583.6,85.4 584.6,85.2 585.6,84.9 586.6,84.6 587.6,84.3 588.6,84.0 589.6,83.7 590.6,83.5 591.6,83.2 592.6,82.9 593.6,82.7 594.6,82.4 595.6,82.1 596.6,81.9 597.6,81.6 598.6,81.4 599.6,81.1 600.6,80.9 601.6,80.7 602.6,80.4 603.6,80.2 604.6,80.0 605.6,79.8 606.6,79.5 607.6,79.3 608.6,79.1 609.6,78.9 610.6,78.7 611.6,78.5 612.6,78.3 613.6,78.1 614.6,77.9 615.6,77.7 616.6,77.5 617.6,77.4 618.6,77.2 619.6,77.0 620.6,76.8 621.6,76.6 622.6,76.5 623.6,76.3 624.6,76.2 625.6,76.0 626.6,75.8 627.6,75.7 628.6,75.5 629.6,75.4 630.6,75.2 631.6,75.1 632.6,75.0 633.6,74.8 634.6,74.7 635.6,74.6 636.6,74.4 637.6,74.3 638.6,74.2 639.6,74.1 640.6,73.9 641.6,73.8 642.6,73.7 643.6,73.6 644.6,73.5 645.6,73.4 646.6,73.3 647.6,73.2 648.6,73.1 649.6,73.0 650.6,72.9 651.6,72.8 652.6,72.8 653.6,72.7 654.6,72.6 655.6,72.5 656.6,72.4 657.6,72.4 658.6,72.3 659.6,72.2 660.6,72.2 661.6,72.1 662.6,72.0 663.6,72.0 664.6,71.9 665.6,71.9 666.6,71.8 667.6,71.8 668.6,71.7 669.6,71.7 670.6,71.6 671.6,71.6 672.6,71.6" stroke="#ff22ff" stroke-width="1.35" fill="none" stroke-linecap="round" stroke-linejoin="round"/>
<path d="M555.6,94.7 556.6,94.2 557.6,93.6 558.6,93.1 559.6,92.6 560.6,92.1 561.6,91.6 562.6,91.1 563.6,90.6 564.6,90.2 565.6,89.7 566.6,89.3 567.6,88.9 568.6,88.4 569.6,88.0 570.6,87.6 571.6,87.2 572.6,86.9 573.6,86.5 574.6,86.1 575.6,85.8 576.6,85.4 577.6,85.1 578.6,84.7 579.6,84.4 580.6,84.1 581.6,83.8 582.6,83.5 583.6,83.2 584.6,82.9 585.6,82.6 586.6,82.3 587.6,82.0 588.6,81.7 589.6,81.5 590.6,81.2 591.6,80.9 592.6,80.7 593.6,80.4 594.6,80.2 595.6,79.9 596.6,79.7 597.6,79.4 598.6,79.2 599.6,78.9 600.6,78.7 601.6,78.5 602.6,78.2 603.6,78.0 604.6,77.7 605.6,77.5 606.6,77.2 607.6,77.0 608.6,76.8 609.6,76.5 610.6,76.3 611.6,76.0 612.6,75.8 613.6,75.5 614.6,75.3 615.6,75.0 616.6,74.7 617.6,74.5 618.6,74.2 619.6,73.9 620.6,73.7 621.6,73.4 622.6,73.1 623.6,72.8 624.6,72.5 625.6,72.2 626.6,71.9 627.6,71.6 628.6,71.3 629.6,71.0 630.6,70.7 631.6,70.3 632.6,70.0 633.6,69.7 634.6,69.4 635.6,69.1 636.6,68.7 637.6,68.4 638.6,68.1 639.6,67.8 640.6,67.5 641.6,67.1 642.6,66.8 643.6,66.5 644.6,66.2 645.6,65.9 646.6,65.6 647.6,65.3 648.6,65.0 649.6,64.7 650.6,64.4 651.6,64.1 652.6,63.9 653.6,63.6 654.6,63.3 655.6,63.1 656.6,62.8 657.6,62.6 658.6,62.3 659.6,62.1 660.6,61.9 661.6,61.7 662.6,61.4 663.6,61.3 664.6,61.1 665.6,60.9 666.6,60.7 667.6,60.6 668.6,60.4 669.6,60.3 670.6,60.2 671.6,60.1 672.6,60.0" stroke="#1414ff" stroke-width="1.60" fill="none" stroke-linecap="round" stroke-linejoin="round"/>
<path d="M553.80,13.20V99.80M550.60,99.80H553.80M550.60,82.48H553.80M550.60,65.16H553.80M550.60,47.84H553.80M550.60,30.52H553.80M550.60,13.20H553.80M553.80,99.80V103.10" stroke="#232323" stroke-width="1.25" fill="none"/>
<path d="M553.80,99.80H679.70M566.34,99.80V103.10M578.88,99.80V103.10M591.42,99.80V103.10M603.96,99.80V103.10M616.50,99.80V103.10M629.04,99.80V103.10M641.58,99.80V103.10M654.12,99.80V103.10M666.66,99.80V103.10M679.20,99.80V103.10" stroke="#2a2a2a" stroke-width="1.4" fill="none"/>
<text transform="translate(548.80,102.70) scale(0.83,1)" text-anchor="end" class="tk">0</text>
<text transform="translate(548.80,85.38) scale(0.83,1)" text-anchor="end" class="tk">10</text>
<text transform="translate(548.80,68.06) scale(0.83,1)" text-anchor="end" class="tk">20</text>
<text transform="translate(548.80,50.74) scale(0.83,1)" text-anchor="end" class="tk">30</text>
<text transform="translate(548.80,33.42) scale(0.83,1)" text-anchor="end" class="tk">40</text>
<text transform="translate(548.80,16.10) scale(0.83,1)" text-anchor="end" class="tk">50</text>
<text transform="translate(536.40,56.75) rotate(-90)" text-anchor="middle" textLength="40.90" lengthAdjust="spacingAndGlyphs" class="yl">IPVV<tspan style="font-size:5.3px" dy="1.8">RUL</tspan><tspan dy="-1.8">(mL)</tspan></text>
<text x="516.60" y="11.10" class="lt">d</text>
<path d="M51.96,202.90V116.60M64.52,202.90V116.60M77.08,202.90V116.60M89.64,202.90V116.60M102.20,202.90V116.60M114.76,202.90V116.60M127.32,202.90V116.60M139.88,202.90V116.60M152.44,202.90V116.60M165.00,202.90V116.60M39.40,174.13H165.00M39.40,145.37H165.00M39.40,116.60H165.00" stroke="#cdcdcd" stroke-width="0.95" fill="none"/>
<path d="M41.60,159.40C42.50,160.17 44.77,163.00 47.00,164.00C49.23,165.00 52.67,165.57 55.00,165.40C57.33,165.23 58.83,163.00 61.00,163.00C63.17,163.00 65.67,164.40 68.00,165.40C70.33,166.40 73.33,168.07 75.00,169.00C76.67,169.93 76.67,171.00 78.00,171.00C79.33,171.00 81.17,169.17 83.00,169.00C84.83,168.83 87.00,169.50 89.00,170.00C91.00,170.50 93.33,171.77 95.00,172.00C96.67,172.23 97.67,172.50 99.00,171.40C100.33,170.30 100.67,166.87 103.00,165.40C105.33,163.93 110.67,163.00 113.00,162.60C115.33,162.20 115.33,162.53 117.00,163.00C118.67,163.47 121.33,164.40 123.00,165.40C124.67,166.40 125.33,167.07 127.00,169.00C128.67,170.93 131.00,174.00 133.00,177.00C135.00,180.00 137.17,184.00 139.00,187.00C140.83,190.00 142.67,193.60 144.00,195.00C145.33,196.40 145.50,195.90 147.00,195.40C148.50,194.90 151.33,193.07 153.00,192.00C154.67,190.93 156.33,189.50 157.00,189.00" stroke="#ff40ff" stroke-width="1.45" fill="none" stroke-linecap="round" stroke-linejoin="round"/>
<path d="M41.60,147.40C42.50,148.67 45.10,152.80 47.00,155.00C48.90,157.20 50.67,159.60 53.00,160.60C55.33,161.60 59.00,160.67 61.00,161.00C63.00,161.33 63.33,161.77 65.00,162.60C66.67,163.43 68.33,165.07 71.00,166.00C73.67,166.93 78.33,168.03 81.00,168.20C83.67,168.37 85.00,167.47 87.00,167.00C89.00,166.53 91.33,166.73 93.00,165.40C94.67,164.07 95.83,161.07 97.00,159.00C98.17,156.93 98.67,154.33 100.00,153.00C101.33,151.67 103.17,151.83 105.00,151.00C106.83,150.17 109.00,149.17 111.00,148.00C113.00,146.83 115.00,145.17 117.00,144.00C119.00,142.83 121.60,141.60 123.00,141.00C124.40,140.40 124.40,139.73 125.40,140.40C126.40,141.07 127.40,142.07 129.00,145.00C130.60,147.93 133.00,154.33 135.00,158.00C137.00,161.67 139.00,164.00 141.00,167.00C143.00,170.00 145.33,173.00 147.00,176.00C148.67,179.00 149.67,182.23 151.00,185.00C152.33,187.77 154.17,191.43 155.00,192.60C155.83,193.77 155.40,192.87 156.00,192.00C156.60,191.13 158.17,188.17 158.60,187.40" stroke="#1a1aff" stroke-width="1.85" fill="none" stroke-linecap="round" stroke-linejoin="round"/>
<path d="M39.40,116.60V202.90M36.20,202.90H39.40M36.20,174.13H39.40M36.20,145.37H39.40M36.20,116.60H39.40M39.40,202.90V206.20" stroke="#232323" stroke-width="1.25" fill="none"/>
<path d="M36.20,202.90H165.50M51.96,202.90V206.20M64.52,202.90V206.20M77.08,202.90V206.20M89.64,202.90V206.20M102.20,202.90V206.20M114.76,202.90V206.20M127.32,202.90V206.20M139.88,202.90V206.20M152.44,202.90V206.20M165.00,202.90V206.20" stroke="#262626" stroke-width="1.35" fill="none"/>
<text transform="translate(34.40,205.80) scale(0.83,1)" text-anchor="end" class="tk">0</text>
<text transform="translate(34.40,177.03) scale(0.83,1)" text-anchor="end" class="tk">5</text>
<text transform="translate(34.40,148.27) scale(0.83,1)" text-anchor="end" class="tk">10</text>
<text transform="translate(34.40,119.50) scale(0.83,1)" text-anchor="end" class="tk">15</text>
<text transform="translate(39.40,214.60) scale(0.83,1)" text-anchor="middle" class="tk">0</text>
<text transform="translate(51.96,214.60) scale(0.83,1)" text-anchor="middle" class="tk">2</text>
<text transform="translate(64.52,214.60) scale(0.83,1)" text-anchor="middle" class="tk">4</text>
<text transform="translate(77.08,214.60) scale(0.83,1)" text-anchor="middle" class="tk">6</text>
<text transform="translate(89.64,214.60) scale(0.83,1)" text-anchor="middle" class="tk">8</text>
<text transform="translate(102.20,214.60) scale(0.83,1)" text-anchor="middle" class="tk">10</text>
<text transform="translate(114.76,214.60) scale(0.83,1)" text-anchor="middle" class="tk">12</text>
<text transform="translate(127.32,214.60) scale(0.83,1)" text-anchor="middle" class="tk">14</text>
<text transform="translate(139.88,214.60) scale(0.83,1)" text-anchor="middle" class="tk">16</text>
<text transform="translate(152.44,214.60) scale(0.83,1)" text-anchor="middle" class="tk">18</text>
<text transform="translate(165.00,214.60) scale(0.83,1)" text-anchor="middle" class="tk">20</text>
<text x="102.20" y="225.60" text-anchor="middle" class="xl">age / years-old</text>
<text transform="translate(21.40,159.90) rotate(-90)" text-anchor="middle" textLength="101.40" lengthAdjust="spacingAndGlyphs" class="yl2">growth rate of IPVV<tspan class="sb" dy="1.8">TL</tspan><tspan dy="-1.8" style="font-size:7.1px"> (mL/year)</tspan></text>
<text x="0.00" y="114.40" class="lt">a'</text>
<path d="M222.92,202.50V116.40M235.44,202.50V116.40M247.96,202.50V116.40M260.48,202.50V116.40M273.00,202.50V116.40M285.52,202.50V116.40M298.04,202.50V116.40M310.56,202.50V116.40M323.08,202.50V116.40M335.60,202.50V116.40M210.40,173.80H335.60M210.40,145.10H335.60M210.40,116.40H335.60" stroke="#cdcdcd" stroke-width="0.95" fill="none"/>
<path d="M212.00,145.00C212.33,145.17 212.83,144.67 214.00,146.00C215.17,147.33 217.50,151.67 219.00,153.00C220.50,154.33 221.67,154.00 223.00,154.00C224.33,154.00 225.67,153.67 227.00,153.00C228.33,152.33 230.00,150.73 231.00,150.00C232.00,149.27 232.00,148.43 233.00,148.60C234.00,148.77 235.33,150.10 237.00,151.00C238.67,151.90 241.33,153.00 243.00,154.00C244.67,155.00 245.83,156.00 247.00,157.00C248.17,158.00 248.67,159.50 250.00,160.00C251.33,160.50 253.50,160.00 255.00,160.00C256.50,160.00 257.67,159.67 259.00,160.00C260.33,160.33 261.67,161.50 263.00,162.00C264.33,162.50 265.83,163.17 267.00,163.00C268.17,162.83 269.00,162.50 270.00,161.00C271.00,159.50 271.50,155.33 273.00,154.00C274.50,152.67 277.00,153.50 279.00,153.00C281.00,152.50 283.33,150.83 285.00,151.00C286.67,151.17 287.67,153.17 289.00,154.00C290.33,154.83 291.67,154.83 293.00,156.00C294.33,157.17 295.67,159.00 297.00,161.00C298.33,163.00 299.67,165.33 301.00,168.00C302.33,170.67 303.67,173.83 305.00,177.00C306.33,180.17 307.67,184.17 309.00,187.00C310.33,189.83 311.67,192.67 313.00,194.00C314.33,195.33 315.67,195.33 317.00,195.00C318.33,194.67 319.67,193.07 321.00,192.00C322.33,190.93 323.67,189.43 325.00,188.60C326.33,187.77 328.33,187.27 329.00,187.00" stroke="#ff40ff" stroke-width="1.45" fill="none" stroke-linecap="round" stroke-linejoin="round"/>
<path d="M212.60,121.40C213.00,122.33 213.93,124.07 215.00,127.00C216.07,129.93 217.67,135.73 219.00,139.00C220.33,142.27 221.67,145.27 223.00,146.60C224.33,147.93 225.50,147.10 227.00,147.00C228.50,146.90 230.67,145.83 232.00,146.00C233.33,146.17 233.50,147.00 235.00,148.00C236.50,149.00 239.33,151.17 241.00,152.00C242.67,152.83 243.33,152.43 245.00,153.00C246.67,153.57 248.67,154.90 251.00,155.40C253.33,155.90 256.83,156.23 259.00,156.00C261.17,155.77 262.67,155.33 264.00,154.00C265.33,152.67 266.00,150.00 267.00,148.00C268.00,146.00 269.00,143.33 270.00,142.00C271.00,140.67 271.83,140.90 273.00,140.00C274.17,139.10 275.33,137.77 277.00,136.60C278.67,135.43 281.00,134.10 283.00,133.00C285.00,131.90 287.33,130.93 289.00,130.00C290.67,129.07 291.83,128.17 293.00,127.40C294.17,126.63 295.17,125.47 296.00,125.40C296.83,125.33 297.17,125.73 298.00,127.00C298.83,128.27 299.83,130.33 301.00,133.00C302.17,135.67 303.67,139.83 305.00,143.00C306.33,146.17 307.50,149.17 309.00,152.00C310.50,154.83 312.50,157.67 314.00,160.00C315.50,162.33 316.83,163.50 318.00,166.00C319.17,168.50 320.00,171.67 321.00,175.00C322.00,178.33 323.27,183.60 324.00,186.00C324.73,188.40 324.90,189.07 325.40,189.40C325.90,189.73 326.57,189.07 327.00,188.00C327.43,186.93 327.67,184.50 328.00,183.00C328.33,181.50 328.83,179.67 329.00,179.00" stroke="#1a1aff" stroke-width="1.85" fill="none" stroke-linecap="round" stroke-linejoin="round"/>
<path d="M210.40,116.40V202.50M207.20,202.50H210.40M207.20,173.80H210.40M207.20,145.10H210.40M207.20,116.40H210.40M210.40,202.50V205.80" stroke="#232323" stroke-width="1.25" fill="none"/>
<path d="M207.20,202.50H336.10M222.92,202.50V205.80M235.44,202.50V205.80M247.96,202.50V205.80M260.48,202.50V205.80M273.00,202.50V205.80M285.52,202.50V205.80M298.04,202.50V205.80M310.56,202.50V205.80M323.08,202.50V205.80M335.60,202.50V205.80" stroke="#262626" stroke-width="1.35" fill="none"/>
<text transform="translate(205.40,205.40) scale(0.83,1)" text-anchor="end" class="tk">0</text>
<text transform="translate(205.40,176.70) scale(0.83,1)" text-anchor="end" class="tk">2</text>
<text transform="translate(205.40,148.00) scale(0.83,1)" text-anchor="end" class="tk">4</text>
<text transform="translate(205.40,119.30) scale(0.83,1)" text-anchor="end" class="tk">6</text>
<text transform="translate(210.40,214.20) scale(0.83,1)" text-anchor="middle" class="tk">0</text>
<text transform="translate(222.92,214.20) scale(0.83,1)" text-anchor="middle" class="tk">2</text>
<text transform="translate(235.44,214.20) scale(0.83,1)" text-anchor="middle" class="tk">4</text>
<text transform="translate(247.96,214.20) scale(0.83,1)" text-anchor="middle" class="tk">6</text>
<text transform="translate(260.48,214.20) scale(0.83,1)" text-anchor="middle" class="tk">8</text>
<text transform="translate(273.00,214.20) scale(0.83,1)" text-anchor="middle" class="tk">10</text>
<text transform="translate(285.52,214.20) scale(0.83,1)" text-anchor="middle" class="tk">12</text>
<text transform="translate(298.04,214.20) scale(0.83,1)" text-anchor="middle" class="tk">14</text>
<text transform="translate(310.56,214.20) scale(0.83,1)" text-anchor="middle" class="tk">16</text>
<text transform="translate(323.08,214.20) scale(0.83,1)" text-anchor="middle" class="tk">18</text>
<text transform="translate(335.60,214.20) scale(0.83,1)" text-anchor="middle" class="tk">20</text>
<text x="273.00" y="225.20" text-anchor="middle" class="xl">age / years-old</text>
<text transform="translate(195.70,159.50) rotate(-90)" text-anchor="middle" textLength="102.60" lengthAdjust="spacingAndGlyphs" class="yl2">growth rate of IPVV<tspan class="sb" dy="1.8">RL</tspan><tspan dy="-1.8" style="font-size:7.1px"> (mL/year)</tspan></text>
<text x="169.90" y="114.80" class="lt">b'</text>
<path d="M391.96,202.50V116.30M404.52,202.50V116.30M417.08,202.50V116.30M429.64,202.50V116.30M442.20,202.50V116.30M454.76,202.50V116.30M467.32,202.50V116.30M479.88,202.50V116.30M492.44,202.50V116.30M505.00,202.50V116.30M379.40,173.77H505.00M379.40,145.03H505.00M379.40,116.30H505.00" stroke="#cdcdcd" stroke-width="0.95" fill="none"/>
<path d="M382.00,151.00C382.33,151.17 383.17,151.33 384.00,152.00C384.83,152.67 385.50,154.33 387.00,155.00C388.50,155.67 391.33,155.73 393.00,156.00C394.67,156.27 395.50,156.70 397.00,156.60C398.50,156.50 400.33,155.07 402.00,155.40C403.67,155.73 405.33,157.83 407.00,158.60C408.67,159.37 410.33,159.43 412.00,160.00C413.67,160.57 415.50,161.57 417.00,162.00C418.50,162.43 419.67,162.60 421.00,162.60C422.33,162.60 423.67,161.77 425.00,162.00C426.33,162.23 427.67,163.33 429.00,164.00C430.33,164.67 431.67,166.00 433.00,166.00C434.33,166.00 435.67,165.33 437.00,164.00C438.33,162.67 439.67,159.17 441.00,158.00C442.33,156.83 443.33,157.67 445.00,157.00C446.67,156.33 449.00,154.67 451.00,154.00C453.00,153.33 455.00,153.00 457.00,153.00C459.00,153.00 461.33,153.00 463.00,154.00C464.67,155.00 465.67,156.50 467.00,159.00C468.33,161.50 469.67,166.17 471.00,169.00C472.33,171.83 473.67,173.50 475.00,176.00C476.33,178.50 477.50,181.57 479.00,184.00C480.50,186.43 482.50,189.60 484.00,190.60C485.50,191.60 486.50,190.77 488.00,190.00C489.50,189.23 491.17,187.73 493.00,186.00C494.83,184.27 498.00,180.67 499.00,179.60" stroke="#ff40ff" stroke-width="1.45" fill="none" stroke-linecap="round" stroke-linejoin="round"/>
<path d="M382.00,144.40C382.83,144.90 385.17,146.20 387.00,147.40C388.83,148.60 391.33,150.50 393.00,151.60C394.67,152.70 395.50,153.50 397.00,154.00C398.50,154.50 400.67,154.17 402.00,154.60C403.33,155.03 403.50,155.43 405.00,156.60C406.50,157.77 409.33,160.70 411.00,161.60C412.67,162.50 413.50,161.77 415.00,162.00C416.50,162.23 418.33,163.23 420.00,163.00C421.67,162.77 423.50,161.33 425.00,160.60C426.50,159.87 427.50,159.27 429.00,158.60C430.50,157.93 432.67,158.20 434.00,156.60C435.33,155.00 436.00,151.60 437.00,149.00C438.00,146.40 439.00,142.83 440.00,141.00C441.00,139.17 441.50,138.93 443.00,138.00C444.50,137.07 447.33,136.57 449.00,135.40C450.67,134.23 451.67,132.33 453.00,131.00C454.33,129.67 455.67,128.07 457.00,127.40C458.33,126.73 459.73,127.67 461.00,127.00C462.27,126.33 463.60,123.57 464.60,123.40C465.60,123.23 465.93,124.07 467.00,126.00C468.07,127.93 469.67,131.83 471.00,135.00C472.33,138.17 473.67,142.00 475.00,145.00C476.33,148.00 477.50,150.00 479.00,153.00C480.50,156.00 482.33,159.67 484.00,163.00C485.67,166.33 487.50,169.33 489.00,173.00C490.50,176.67 491.93,182.33 493.00,185.00C494.07,187.67 494.73,188.50 495.40,189.00C496.07,189.50 496.47,188.40 497.00,188.00C497.53,187.60 498.33,186.83 498.60,186.60" stroke="#1a1aff" stroke-width="1.85" fill="none" stroke-linecap="round" stroke-linejoin="round"/>
<path d="M379.40,116.30V202.50M376.20,202.50H379.40M376.20,173.77H379.40M376.20,145.03H379.40M376.20,116.30H379.40M379.40,202.50V205.80" stroke="#232323" stroke-width="1.25" fill="none"/>
<path d="M376.20,202.50H505.50M391.96,202.50V205.80M404.52,202.50V205.80M417.08,202.50V205.80M429.64,202.50V205.80M442.20,202.50V205.80M454.76,202.50V205.80M467.32,202.50V205.80M479.88,202.50V205.80M492.44,202.50V205.80M505.00,202.50V205.80" stroke="#262626" stroke-width="1.35" fill="none"/>
<text transform="translate(374.40,205.40) scale(0.83,1)" text-anchor="end" class="tk">0</text>
<text transform="translate(374.40,176.67) scale(0.83,1)" text-anchor="end" class="tk">2</text>
<text transform="translate(374.40,147.93) scale(0.83,1)" text-anchor="end" class="tk">4</text>
<text transform="translate(374.40,119.20) scale(0.83,1)" text-anchor="end" class="tk">6</text>
<text transform="translate(379.40,214.20) scale(0.83,1)" text-anchor="middle" class="tk">0</text>
<text transform="translate(391.96,214.20) scale(0.83,1)" text-anchor="middle" class="tk">2</text>
<text transform="translate(404.52,214.20) scale(0.83,1)" text-anchor="middle" class="tk">4</text>
<text transform="translate(417.08,214.20) scale(0.83,1)" text-anchor="middle" class="tk">6</text>
<text transform="translate(429.64,214.20) scale(0.83,1)" text-anchor="middle" class="tk">8</text>
<text transform="translate(442.20,214.20) scale(0.83,1)" text-anchor="middle" class="tk">10</text>
<text transform="translate(454.76,214.20) scale(0.83,1)" text-anchor="middle" class="tk">12</text>
<text transform="translate(467.32,214.20) scale(0.83,1)" text-anchor="middle" class="tk">14</text>
<text transform="translate(479.88,214.20) scale(0.83,1)" text-anchor="middle" class="tk">16</text>
<text transform="translate(492.44,214.20) scale(0.83,1)" text-anchor="middle" class="tk">18</text>
<text transform="translate(505.00,214.20) scale(0.83,1)" text-anchor="middle" class="tk">20</text>
<text x="442.20" y="225.20" text-anchor="middle" class="xl">age / years-old</text>
<text transform="translate(365.20,159.20) rotate(-90)" text-anchor="middle" textLength="102.00" lengthAdjust="spacingAndGlyphs" class="yl2">growth rate of IPVV<tspan class="sb" dy="1.8">LL</tspan><tspan dy="-1.8" style="font-size:7.1px"> (mL/year)</tspan></text>
<text x="339.00" y="114.60" class="lt">c'</text>
<path d="M566.23,202.50V116.10M578.76,202.50V116.10M591.29,202.50V116.10M603.82,202.50V116.10M616.35,202.50V116.10M628.88,202.50V116.10M641.41,202.50V116.10M653.94,202.50V116.10M666.47,202.50V116.10M679.00,202.50V116.10M553.70,185.22H679.00M553.70,167.94H679.00M553.70,150.66H679.00M553.70,133.38H679.00M553.70,116.10H679.00" stroke="#cdcdcd" stroke-width="0.95" fill="none"/>
<path d="M555.00,156.00C555.50,156.17 556.67,156.50 558.00,157.00C559.33,157.50 560.83,158.17 563.00,159.00C565.17,159.83 569.00,161.73 571.00,162.00C573.00,162.27 573.83,160.83 575.00,160.60C576.17,160.37 576.67,160.20 578.00,160.60C579.33,161.00 581.50,161.93 583.00,163.00C584.50,164.07 585.83,165.33 587.00,167.00C588.17,168.67 589.00,171.33 590.00,173.00C591.00,174.67 592.00,176.67 593.00,177.00C594.00,177.33 595.00,175.83 596.00,175.00C597.00,174.17 598.17,172.67 599.00,172.00C599.83,171.33 600.33,171.00 601.00,171.00C601.67,171.00 602.33,171.33 603.00,172.00C603.67,172.67 604.17,173.50 605.00,175.00C605.83,176.50 607.00,178.83 608.00,181.00C609.00,183.17 610.00,186.83 611.00,188.00C612.00,189.17 613.00,188.90 614.00,188.00C615.00,187.10 615.83,183.60 617.00,182.60C618.17,181.60 619.67,182.27 621.00,182.00C622.33,181.73 623.67,181.10 625.00,181.00C626.33,180.90 627.67,180.67 629.00,181.40C630.33,182.13 631.83,185.30 633.00,185.40C634.17,185.50 635.00,183.47 636.00,182.00C637.00,180.53 637.83,178.27 639.00,176.60C640.17,174.93 641.67,172.27 643.00,172.00C644.33,171.73 645.67,173.50 647.00,175.00C648.33,176.50 649.67,178.67 651.00,181.00C652.33,183.33 653.83,186.73 655.00,189.00C656.17,191.27 656.83,193.67 658.00,194.60C659.17,195.53 660.83,194.87 662.00,194.60C663.17,194.33 664.17,192.60 665.00,193.00C665.83,193.40 666.50,195.67 667.00,197.00C667.50,198.33 667.50,202.00 668.00,201.00C668.50,200.00 669.33,194.33 670.00,191.00C670.67,187.67 671.67,182.67 672.00,181.00" stroke="#ff40ff" stroke-width="1.45" fill="none" stroke-linecap="round" stroke-linejoin="round"/>
<path d="M556.00,125.00C556.17,125.67 556.50,127.00 557.00,129.00C557.50,131.00 558.17,134.17 559.00,137.00C559.83,139.83 561.00,143.50 562.00,146.00C563.00,148.50 563.83,151.00 565.00,152.00C566.17,153.00 567.50,152.00 569.00,152.00C570.50,152.00 572.67,151.67 574.00,152.00C575.33,152.33 575.83,153.17 577.00,154.00C578.17,154.83 579.50,156.00 581.00,157.00C582.50,158.00 584.50,158.50 586.00,160.00C587.50,161.50 588.67,164.17 590.00,166.00C591.33,167.83 592.50,169.67 594.00,171.00C595.50,172.33 597.17,173.17 599.00,174.00C600.83,174.83 603.00,175.77 605.00,176.00C607.00,176.23 609.00,175.73 611.00,175.40C613.00,175.07 615.33,174.73 617.00,174.00C618.67,173.27 619.67,172.23 621.00,171.00C622.33,169.77 623.33,167.67 625.00,166.60C626.67,165.53 629.33,165.70 631.00,164.60C632.67,163.50 633.83,162.10 635.00,160.00C636.17,157.90 637.00,154.33 638.00,152.00C639.00,149.67 640.17,147.10 641.00,146.00C641.83,144.90 642.33,145.07 643.00,145.40C643.67,145.73 644.33,146.73 645.00,148.00C645.67,149.27 646.17,151.17 647.00,153.00C647.83,154.83 648.83,157.00 650.00,159.00C651.17,161.00 652.67,162.83 654.00,165.00C655.33,167.17 656.83,169.33 658.00,172.00C659.17,174.67 660.00,177.67 661.00,181.00C662.00,184.33 663.00,189.00 664.00,192.00C665.00,195.00 666.17,198.00 667.00,199.00C667.83,200.00 668.40,199.00 669.00,198.00C669.60,197.00 670.10,194.67 670.60,193.00C671.10,191.33 671.77,188.83 672.00,188.00" stroke="#1a1aff" stroke-width="1.85" fill="none" stroke-linecap="round" stroke-linejoin="round"/>
<path d="M553.70,116.10V202.50M550.50,202.50H553.70M550.50,185.22H553.70M550.50,167.94H553.70M550.50,150.66H553.70M550.50,133.38H553.70M550.50,116.10H553.70M553.70,202.50V205.80" stroke="#232323" stroke-width="1.25" fill="none"/>
<path d="M550.50,202.50H679.50M566.23,202.50V205.80M578.76,202.50V205.80M591.29,202.50V205.80M603.82,202.50V205.80M616.35,202.50V205.80M628.88,202.50V205.80M641.41,202.50V205.80M653.94,202.50V205.80M666.47,202.50V205.80M679.00,202.50V205.80" stroke="#262626" stroke-width="1.35" fill="none"/>
<text transform="translate(548.70,205.40) scale(0.83,1)" text-anchor="end" class="tk">0.0</text>
<text transform="translate(548.70,188.12) scale(0.83,1)" text-anchor="end" class="tk">0.5</text>
<text transform="translate(548.70,170.84) scale(0.83,1)" text-anchor="end" class="tk">1.0</text>
<text transform="translate(548.70,153.56) scale(0.83,1)" text-anchor="end" class="tk">1.5</text>
<text transform="translate(548.70,136.28) scale(0.83,1)" text-anchor="end" class="tk">2.0</text>
<text transform="translate(548.70,119.00) scale(0.83,1)" text-anchor="end" class="tk">2.5</text>
<text transform="translate(553.70,214.20) scale(0.83,1)" text-anchor="middle" class="tk">0</text>
<text transform="translate(566.23,214.20) scale(0.83,1)" text-anchor="middle" class="tk">2</text>
<text transform="translate(578.76,214.20) scale(0.83,1)" text-anchor="middle" class="tk">4</text>
<text transform="translate(591.29,214.20) scale(0.83,1)" text-anchor="middle" class="tk">6</text>
<text transform="translate(603.82,214.20) scale(0.83,1)" text-anchor="middle" class="tk">8</text>
<text transform="translate(616.35,214.20) scale(0.83,1)" text-anchor="middle" class="tk">10</text>
<text transform="translate(628.88,214.20) scale(0.83,1)" text-anchor="middle" class="tk">12</text>
<text transform="translate(641.41,214.20) scale(0.83,1)" text-anchor="middle" class="tk">14</text>
<text transform="translate(653.94,214.20) scale(0.83,1)" text-anchor="middle" class="tk">16</text>
<text transform="translate(666.47,214.20) scale(0.83,1)" text-anchor="middle" class="tk">18</text>
<text transform="translate(679.00,214.20) scale(0.83,1)" text-anchor="middle" class="tk">20</text>
<text x="616.35" y="225.20" text-anchor="middle" class="xl">age / years-old</text>
<text transform="translate(533.70,159.15) rotate(-90)" text-anchor="middle" textLength="105.90" lengthAdjust="spacingAndGlyphs" class="yl2">growth rate of IPVV<tspan class="sb" dy="1.8">RUL</tspan><tspan dy="-1.8" style="font-size:7.1px"> (mL/year)</tspan></text>
<text x="514.00" y="114.20" class="lt">d'</text>
<path d="M52.07,337V251.30M64.64,337V251.30M77.21,337V251.30M89.78,337V251.30M102.35,337V251.30M114.92,337V251.30M127.49,337V251.30M140.06,337V251.30M152.63,337V251.30M165.20,337V251.30" stroke="#f0f0f0" stroke-width="0.9" fill="none"/>
<path d="M52.07,337V251.30M64.64,337V251.30M77.21,337V251.30M89.78,337V251.30M102.35,337V251.30M114.92,337V251.30M127.49,337V251.30M140.06,337V251.30M152.63,337V251.30M165.20,337V251.30" stroke="#bababa" stroke-width="0.9" stroke-dasharray="1,1" fill="none"/>
<path d="M39,320.50H165.20M39,303.50H165.20M39,285.50H165.20M39,268.50H165.20M39,251.50H165.20" stroke="#bababa" stroke-width="1" stroke-dasharray="1.2,0.8" fill="none"/>
<path d="M43.2 330.9h0M50.4 323.5h0M152.8 305.5h0M74.3 325.5h0M93.7 318.1h0M137.8 307.7h0M128.6 307.6h0M134.1 301.2h0M139.1 315.0h0M131.3 323.1h0M64.1 326.6h0M129.1 313.7h0M139.8 312.2h0M50.0 331.3h0M108.6 309.8h0M51.5 327.5h0M62.1 323.9h0M61.0 325.8h0M83.3 322.6h0M49.0 328.3h0M138.8 316.4h0M75.9 327.8h0M135.4 323.1h0M62.9 327.4h0M136.9 326.4h0M43.2 331.5h0M66.2 323.4h0M130.3 311.7h0M156.9 304.1h0M53.9 326.5h0M75.2 328.4h0M42.0 328.9h0M74.9 321.9h0M43.4 334.0h0M78.0 324.3h0M100.6 313.5h0M47.8 331.1h0M78.4 324.9h0M71.7 324.6h0M89.2 325.5h0M57.8 329.2h0M147.9 302.2h0M56.6 327.5h0M51.6 329.9h0M63.9 325.5h0M71.3 324.6h0M115.4 316.9h0M47.3 331.2h0M105.1 326.1h0M86.8 317.2h0M113.3 320.8h0M59.0 325.1h0M56.6 330.3h0M143.2 295.4h0M49.4 325.1h0M141.2 313.8h0M82.7 315.0h0M60.8 322.4h0M81.2 323.7h0M53.6 323.3h0M61.6 329.7h0M41.8 330.1h0M78.0 319.3h0M73.8 324.2h0M57.9 328.6h0M42.9 336.5h0M87.8 326.5h0M50.5 331.2h0M44.2 330.5h0M83.2 321.2h0M91.7 326.7h0M80.5 319.2h0M135.5 313.1h0M157.2 308.5h0M56.5 330.1h0M75.7 319.7h0M56.6 325.8h0M57.8 326.7h0M131.8 314.7h0M70.5 318.4h0M79.4 324.5h0M61.7 322.3h0M70.5 325.1h0M73.7 323.8h0M117.0 307.7h0M65.6 327.6h0M58.6 330.0h0M140.2 305.1h0M104.5 322.4h0M153.4 301.0h0M47.7 330.5h0M149.7 308.4h0M65.1 327.7h0M100.7 311.6h0M55.2 326.4h0M56.5 329.8h0M130.5 320.3h0M72.7 310.2h0M77.2 321.9h0M75.8 320.0h0M59.8 328.9h0M93.4 311.9h0M48.1 332.5h0M45.1 324.1h0M152.5 311.4h0M57.9 323.0h0M152.9 307.4h0M146.2 304.2h0M44.8 330.1h0M121.9 305.6h0M71.4 320.2h0M118.4 317.9h0M45.0 329.4h0M61.0 329.7h0M111.6 315.0h0M66.7 316.4h0M158.6 314.5h0M69.2 319.6h0M153.7 307.2h0M110.0 322.2h0M91.1 317.5h0M82.3 318.4h0M50.1 327.0h0M62.9 328.8h0M128.5 317.9h0M62.6 321.5h0M138.6 300.3h0M141.8 308.8h0M52.4 324.9h0M152.3 299.4h0M47.6 333.1h0M106.5 318.5h0M47.8 331.0h0M84.5 323.9h0M51.1 330.6h0M74.4 325.1h0M77.6 320.6h0M49.6 328.4h0M152.2 297.7h0M143.0 307.7h0M109.9 323.0h0M138.0 306.2h0M52.8 327.6h0M92.1 320.5h0M153.3 305.6h0M55.3 323.9h0M82.9 316.7h0M62.6 321.6h0M81.0 315.7h0M72.9 320.5h0M46.3 330.1h0M98.7 327.8h0M80.2 322.0h0M72.2 315.2h0M129.0 313.8h0M93.9 305.6h0M151.7 301.6h0M134.2 311.0h0M93.1 324.2h0M60.6 331.8h0M129.4 323.6h0M147.4 298.6h0M62.4 323.2h0M52.0 328.1h0M70.9 323.6h0M117.5 311.1h0M82.5 320.0h0M76.6 322.4h0M48.2 333.7h0M77.5 323.0h0M54.6 333.0h0M68.7 321.3h0M80.8 321.1h0" stroke="#ff33ff" stroke-opacity="0.35" stroke-width="1.35" stroke-linecap="square" fill="none"/>
<path d="M56.4 321.1h0M153.2 327.7h0M150.4 300.8h0M73.4 319.6h0M147.5 322.0h0M44.4 331.7h0M140.4 318.7h0M148.8 303.5h0M62.5 322.3h0M134.5 314.6h0M74.2 322.3h0M71.7 316.9h0M75.9 321.8h0M135.1 315.5h0M63.2 327.1h0M132.7 303.4h0M46.5 331.9h0M57.2 327.1h0M118.0 321.1h0M139.4 317.0h0M65.9 324.6h0M137.4 307.9h0M47.4 330.0h0M52.9 324.1h0M70.7 315.2h0M150.6 307.6h0M142.8 302.7h0M55.5 326.9h0M154.5 308.5h0M128.4 308.9h0M74.6 319.7h0M51.6 324.4h0M142.6 305.1h0M157.6 320.8h0M80.9 322.5h0M59.2 325.2h0M139.1 305.7h0M152.7 305.1h0M82.3 320.5h0M144.4 322.7h0M108.5 305.8h0M60.7 326.0h0M63.0 326.8h0M153.9 311.5h0M82.9 326.1h0M68.6 321.8h0M76.2 319.7h0M129.3 320.9h0M79.6 318.1h0M99.4 309.5h0M61.3 330.4h0M75.3 329.5h0M80.1 323.4h0M48.5 326.9h0M45.9 330.7h0M152.1 314.2h0M149.0 313.9h0M75.2 321.2h0M56.0 328.2h0M68.1 322.1h0M53.8 327.7h0M104.9 321.3h0M59.1 323.2h0M63.5 326.6h0M136.8 323.3h0M154.1 322.4h0M135.6 316.0h0M94.4 310.8h0M153.7 302.0h0M70.5 326.5h0M76.4 325.5h0M144.2 314.7h0M87.9 322.9h0M98.6 325.1h0M153.6 316.2h0M136.1 304.0h0M144.4 311.5h0M48.3 330.0h0M45.5 332.1h0M153.8 306.6h0M129.9 312.9h0M42.6 332.9h0M110.5 316.7h0M72.6 321.9h0M69.6 320.4h0M102.8 323.0h0M102.5 315.2h0M64.4 322.9h0M56.3 329.4h0M61.5 326.3h0M53.6 321.3h0M64.1 324.1h0M80.6 316.3h0M53.8 325.9h0M79.5 318.8h0M69.1 324.2h0M131.7 323.8h0M53.3 331.9h0M62.1 321.0h0M72.1 324.1h0M49.5 327.9h0M106.5 305.0h0M157.3 322.0h0M145.1 314.4h0M53.6 329.5h0M83.8 318.9h0M93.4 319.1h0M154.0 302.2h0M60.7 321.7h0M147.0 314.2h0M123.3 310.7h0M58.4 325.1h0M130.0 296.6h0M143.6 308.4h0M89.4 321.9h0M76.3 320.3h0M130.9 313.7h0M129.8 313.4h0M62.8 329.6h0M73.2 313.4h0M66.9 325.1h0M51.0 331.5h0M51.2 327.2h0M120.7 303.9h0M77.5 315.0h0M71.4 323.0h0M73.7 324.4h0M81.3 309.4h0M127.4 323.8h0M62.3 324.6h0M94.3 323.8h0M62.5 323.2h0M59.9 329.4h0M69.6 320.1h0M154.9 310.6h0M61.6 323.5h0M50.0 330.2h0M53.1 329.5h0M121.5 298.0h0M53.9 327.3h0M48.1 335.6h0M101.3 319.4h0M150.0 302.5h0M136.3 303.8h0M149.3 314.7h0M45.8 334.3h0M52.9 329.8h0M46.0 328.0h0M69.6 326.3h0M78.9 317.5h0M66.6 329.0h0M49.7 331.8h0M55.4 329.8h0M52.3 329.1h0M66.4 324.3h0M148.7 314.1h0M94.2 323.8h0M73.1 311.2h0M118.2 301.0h0M145.2 318.0h0M81.6 315.1h0M85.6 318.9h0M55.2 327.2h0M64.7 317.9h0M69.5 316.5h0M57.8 325.8h0M58.1 325.3h0M68.2 327.5h0M130.0 314.2h0M78.9 311.9h0M48.0 329.3h0M100.6 313.1h0M44.8 326.3h0M41.5 329.6h0M47.6 328.3h0M137.3 308.1h0M131.3 300.1h0M45.8 328.5h0M52.3 326.9h0M47.8 334.2h0M153.6 309.3h0M47.0 334.5h0" stroke="#ff33ff" stroke-opacity="0.60" stroke-width="1.35" stroke-linecap="square" fill="none"/>
<path d="M108.4 323.8h0M144.6 303.4h0M61.4 329.5h0M73.7 327.5h0M67.7 330.4h0M43.6 332.6h0M89.4 317.2h0M48.8 334.7h0M131.1 309.4h0M78.0 321.4h0M130.5 301.6h0M145.9 315.0h0M45.3 331.4h0M110.6 319.6h0M65.8 322.0h0M56.3 330.1h0M42.7 336.3h0M133.6 319.9h0M44.7 331.8h0M98.9 314.1h0M46.7 330.2h0M157.0 303.3h0M157.4 304.7h0M109.9 310.8h0M62.6 328.2h0M135.5 311.7h0M58.8 329.1h0M79.2 320.0h0M102.4 310.6h0M54.7 327.6h0M55.6 327.0h0M102.0 300.0h0M81.2 317.0h0M67.7 322.5h0M150.4 309.7h0M109.7 320.1h0M145.9 305.6h0M64.3 331.6h0M71.5 324.1h0M42.4 331.6h0M115.4 312.1h0M73.0 328.8h0M69.7 320.1h0M78.1 320.1h0M75.2 323.2h0M115.3 321.3h0M80.3 315.5h0M137.9 311.9h0M55.5 329.4h0M47.0 332.1h0M57.5 328.5h0M71.1 324.4h0M43.5 330.0h0M135.9 323.7h0M62.4 322.8h0M78.6 323.0h0M58.5 324.3h0M42.7 333.4h0M43.6 331.2h0M46.9 331.7h0M71.4 329.4h0M135.1 312.2h0M145.7 297.1h0M106.1 311.7h0M142.6 312.5h0M138.7 312.7h0M139.3 309.4h0M120.8 311.8h0M79.8 312.3h0M131.3 321.5h0M147.4 319.5h0M121.5 319.7h0M148.6 300.6h0M74.6 318.9h0M77.9 323.2h0M127.5 313.8h0M156.6 312.3h0M73.1 323.8h0M56.2 325.5h0M71.1 322.5h0M64.2 325.9h0M86.0 313.8h0M72.3 315.7h0M112.1 309.3h0M83.2 315.2h0M120.6 311.2h0M95.6 321.9h0M143.0 312.7h0M72.7 326.8h0M45.6 331.2h0M71.8 317.2h0M52.5 325.5h0M72.0 317.9h0M53.1 326.4h0M136.1 322.1h0M121.7 312.0h0M80.4 317.7h0M76.2 318.8h0M54.4 329.4h0M50.3 331.4h0M150.0 303.9h0M47.3 322.8h0M72.7 321.2h0M143.1 317.0h0M88.8 328.6h0M60.1 326.2h0M120.4 312.9h0M57.7 326.6h0M56.3 329.5h0M110.2 304.1h0M119.6 317.5h0M49.0 332.1h0M144.0 305.3h0M143.7 296.7h0M68.2 325.7h0M61.1 328.7h0M57.4 323.8h0M43.4 333.3h0M141.4 310.3h0M61.9 322.4h0M96.0 323.7h0M48.8 330.3h0M66.5 330.4h0M51.6 329.9h0M129.9 309.7h0M53.6 327.8h0M41.6 328.7h0M137.7 312.9h0M132.8 321.3h0M46.2 329.5h0M97.3 321.0h0M151.5 300.2h0M105.5 328.7h0M110.1 300.1h0M74.5 321.5h0M48.3 332.4h0M60.6 335.2h0M55.7 326.2h0M46.9 331.1h0M69.2 324.3h0M158.3 306.1h0M142.6 298.0h0M82.6 319.9h0M63.3 329.1h0M156.7 306.3h0" stroke="#ff33ff" stroke-opacity="0.90" stroke-width="1.35" stroke-linecap="square" fill="none"/>
<path d="M96.7 324.0h0M53.2 328.5h0M62.2 322.0h0M110.9 315.8h0M47.6 328.0h0M143.0 309.6h0M113.0 318.6h0M109.9 310.7h0M156.9 306.9h0M97.4 305.3h0M121.4 301.3h0M134.5 298.7h0M128.2 296.9h0M68.4 324.1h0M58.9 332.1h0M145.6 308.3h0M140.6 290.4h0M46.8 331.9h0M52.8 326.9h0M73.7 308.7h0M53.1 329.1h0M73.7 317.3h0M74.8 327.1h0M109.1 311.8h0M48.7 329.1h0M77.3 321.2h0M75.9 317.4h0M56.3 326.2h0M147.3 300.0h0M104.7 313.7h0M116.4 304.4h0M59.8 327.5h0M133.0 293.0h0M43.6 335.3h0M136.0 291.4h0M130.9 284.0h0M63.6 328.9h0M144.3 280.4h0M107.6 309.6h0M81.1 319.0h0M81.2 318.0h0M130.3 303.0h0M80.6 316.5h0M52.8 324.7h0M44.4 331.9h0M47.3 327.1h0M47.9 325.5h0M144.2 308.0h0M64.8 322.8h0M66.5 326.8h0M78.5 324.1h0M45.6 331.7h0M81.2 312.3h0M145.8 303.3h0M82.8 318.7h0M83.7 325.1h0M65.3 328.2h0M64.1 321.7h0M77.0 314.6h0M53.4 327.0h0M70.1 314.4h0M154.0 290.6h0M51.0 325.8h0M154.4 318.9h0M60.4 315.1h0M69.5 323.5h0M42.0 334.1h0M42.2 336.6h0M56.4 320.5h0M144.2 296.0h0M77.0 315.3h0M54.6 324.1h0M76.2 311.4h0M150.0 285.7h0M63.3 326.9h0M113.3 294.9h0M73.2 315.5h0M55.5 321.3h0M133.7 310.9h0M46.8 326.5h0M131.8 298.4h0M60.8 329.3h0M64.0 323.2h0M120.3 326.1h0M70.6 317.8h0M70.1 323.3h0M64.8 324.5h0M138.8 298.2h0M95.5 302.4h0M44.0 331.4h0M72.0 314.1h0M63.9 325.6h0M62.8 323.8h0M53.9 326.1h0M63.6 318.1h0M51.8 326.1h0M63.4 321.7h0M150.2 291.8h0M59.5 324.4h0M43.4 331.7h0M55.2 326.0h0M62.5 321.7h0M65.5 318.3h0M102.4 325.3h0M127.0 315.7h0M132.3 310.8h0M130.1 302.8h0M158.8 303.8h0M56.0 328.0h0M82.2 317.5h0M52.3 324.6h0M68.9 319.4h0M111.1 299.7h0M137.2 290.1h0M53.9 325.6h0M72.7 324.2h0M85.5 312.9h0M128.3 331.9h0M80.0 322.1h0M137.9 302.6h0M61.3 322.8h0M45.8 329.2h0M128.8 303.0h0M66.8 326.3h0M82.7 307.2h0M69.1 330.3h0M56.1 329.5h0M76.9 323.1h0M136.8 314.2h0M72.0 312.8h0M82.5 314.7h0M81.4 315.4h0M65.2 322.5h0M128.0 313.2h0M53.0 323.3h0M58.6 321.8h0M134.3 317.1h0M111.3 316.9h0M46.1 324.0h0M70.6 320.5h0M134.8 293.6h0M109.2 305.8h0M72.6 319.9h0M152.0 301.0h0M133.8 310.9h0M129.1 310.2h0M89.1 312.5h0M134.8 311.1h0M58.6 321.7h0M52.2 319.6h0M51.0 331.1h0M55.5 329.9h0M75.1 323.1h0M76.3 327.3h0M68.5 321.7h0M157.8 286.1h0M63.4 323.6h0M69.1 309.7h0M127.8 332.8h0M74.8 313.9h0M156.2 271.4h0M82.8 313.7h0M61.7 324.7h0M148.9 309.5h0M60.3 319.4h0M73.3 325.3h0M61.5 329.5h0M52.1 327.3h0M66.5 323.9h0M152.5 298.4h0M43.7 335.0h0M52.1 327.1h0M151.8 293.3h0M139.6 303.4h0M100.4 307.1h0M59.0 331.0h0M58.6 324.9h0M127.9 288.6h0M42.6 332.1h0M56.6 320.1h0M152.7 294.0h0M128.3 307.2h0M128.9 307.3h0M63.7 312.7h0M53.3 328.0h0M68.0 319.4h0M74.4 317.7h0M129.6 297.3h0M71.1 333.4h0M58.9 336.4h0M64.6 321.6h0M57.9 327.0h0M60.1 336.1h0M53.8 326.9h0M43.8 330.1h0M58.1 325.8h0M74.3 323.4h0M88.3 320.8h0M45.5 325.1h0M143.5 306.4h0M78.6 316.8h0M113.6 279.6h0M64.7 325.1h0M97.5 322.4h0M69.2 326.5h0M46.7 326.6h0M79.5 319.1h0M156.6 298.3h0M44.3 333.5h0M75.3 325.3h0M78.4 325.5h0M45.5 334.8h0M144.6 288.4h0M48.1 330.5h0M44.7 332.5h0M145.2 289.8h0M71.0 315.7h0M109.4 314.6h0M77.6 312.7h0M81.2 316.8h0M80.8 313.2h0M50.2 328.7h0M106.0 313.2h0M73.8 318.0h0M118.2 306.3h0M60.0 322.6h0M50.2 329.0h0M74.4 323.9h0M81.2 315.9h0M50.2 328.1h0" stroke="#2a2aff" stroke-opacity="0.35" stroke-width="1.35" stroke-linecap="square" fill="none"/>
<path d="M68.6 314.3h0M95.4 327.0h0M145.6 302.7h0M138.8 296.6h0M66.3 328.1h0M104.2 295.1h0M95.7 328.0h0M80.8 325.7h0M56.9 321.1h0M130.1 292.3h0M44.5 331.8h0M52.6 324.8h0M74.2 318.3h0M136.0 307.6h0M76.6 309.3h0M55.5 321.5h0M46.4 335.0h0M82.2 313.6h0M140.8 320.6h0M156.1 306.3h0M71.9 331.7h0M81.1 320.4h0M51.3 329.7h0M150.5 287.2h0M42.8 330.0h0M147.5 285.2h0M92.3 303.5h0M121.1 301.1h0M145.6 313.4h0M64.5 320.9h0M63.4 329.7h0M80.7 309.0h0M65.5 324.4h0M77.1 325.5h0M95.5 313.4h0M107.5 313.8h0M78.3 330.9h0M64.3 324.6h0M156.1 291.4h0M72.5 320.2h0M134.2 297.3h0M67.8 323.4h0M62.7 319.8h0M54.0 328.3h0M132.0 299.4h0M59.7 318.4h0M157.3 277.2h0M61.3 321.2h0M78.6 330.2h0M153.0 301.6h0M55.3 329.7h0M81.3 318.6h0M138.0 291.4h0M82.6 324.7h0M150.2 290.8h0M60.3 324.1h0M47.0 333.3h0M123.4 287.3h0M48.9 325.7h0M87.0 330.8h0M148.6 287.8h0M149.0 295.6h0M55.7 321.5h0M151.2 285.9h0M141.2 299.2h0M58.6 321.2h0M148.6 282.6h0M83.1 317.6h0M75.5 324.9h0M60.3 330.2h0M143.7 297.1h0M71.4 312.5h0M53.9 327.5h0M51.1 325.1h0M76.3 318.4h0M130.4 284.9h0M138.1 310.8h0M58.1 319.6h0M42.0 330.9h0M110.5 298.9h0M75.2 323.6h0M53.1 326.7h0M82.0 314.5h0M153.3 331.2h0M61.1 320.7h0M79.5 330.8h0M44.6 336.7h0M81.6 320.3h0M82.8 314.3h0M82.6 322.5h0M151.3 281.4h0M145.0 300.6h0M77.3 315.5h0M43.8 331.4h0M77.0 312.8h0M41.9 333.7h0M146.9 320.9h0M62.0 325.0h0M82.8 310.5h0M127.7 293.9h0M137.1 291.8h0M138.8 293.6h0M44.3 328.2h0M42.6 326.3h0M74.6 324.4h0M129.8 323.0h0M45.0 329.3h0M150.2 329.8h0M71.9 321.8h0M128.2 306.0h0M75.1 317.9h0M129.8 307.4h0M149.4 299.5h0M76.9 321.7h0M77.3 319.2h0M69.2 323.6h0M54.9 325.4h0M52.0 336.3h0M58.6 324.9h0M147.7 296.1h0M73.7 312.8h0M70.6 328.9h0M123.5 302.9h0M67.3 323.3h0M77.7 324.2h0M62.8 325.8h0M128.7 289.3h0M113.7 324.8h0M137.7 289.1h0M43.9 327.7h0M55.5 318.9h0M106.6 313.5h0M53.0 329.8h0M43.0 333.6h0M131.8 283.4h0M62.2 322.3h0M144.6 306.1h0M83.5 321.9h0M153.3 303.9h0M114.6 295.8h0M85.8 309.0h0M130.5 299.5h0M42.0 329.3h0M46.2 330.6h0M53.7 331.9h0M53.2 324.8h0M80.0 321.1h0M74.7 320.7h0M66.6 327.1h0M143.1 282.7h0M138.8 294.5h0M146.4 311.4h0M48.7 328.2h0M42.7 332.1h0M130.9 294.9h0M152.0 293.8h0M95.1 311.1h0M69.8 327.7h0M55.1 326.8h0M65.3 326.3h0M147.9 278.3h0M71.6 318.4h0M133.1 314.5h0M109.4 310.0h0M62.7 325.9h0M110.5 300.0h0M109.0 309.4h0M67.6 326.3h0M99.1 304.5h0M54.6 323.6h0M143.1 311.2h0M135.4 293.7h0M52.9 325.3h0M145.0 311.4h0M50.1 325.5h0M144.1 316.7h0M68.9 313.8h0M46.8 330.0h0M152.5 323.9h0M145.0 312.8h0M137.1 304.4h0M46.2 327.3h0M44.4 334.1h0M130.0 276.4h0M75.1 315.6h0M64.0 323.2h0M74.5 317.6h0M73.8 325.4h0M53.9 328.2h0M95.5 317.5h0M156.1 308.1h0M58.8 325.9h0M69.2 322.0h0M135.4 294.1h0M48.8 325.3h0M74.3 324.4h0M58.4 325.9h0M117.2 305.0h0M50.5 330.6h0M135.5 315.4h0M47.9 331.3h0M76.5 320.7h0M71.1 320.3h0M158.6 312.7h0M67.6 314.0h0M132.8 302.1h0M50.3 328.2h0M91.3 312.2h0M49.4 328.8h0M133.2 298.6h0M61.2 323.7h0M56.8 325.5h0M156.7 311.2h0M82.9 311.4h0M61.9 324.2h0M50.4 328.8h0M149.7 306.0h0M64.8 311.6h0M53.6 323.6h0M111.4 298.7h0M47.9 327.7h0M59.5 325.8h0M41.5 333.4h0M48.5 329.3h0M138.8 303.6h0M72.3 313.2h0M100.6 316.3h0M57.7 328.2h0M64.1 319.5h0M122.5 323.0h0M77.8 318.3h0M133.9 307.3h0M129.6 300.0h0M53.0 324.7h0M124.4 299.7h0M111.7 314.5h0M143.1 299.1h0M50.8 325.9h0M49.0 329.2h0M70.2 317.3h0M130.7 298.0h0M43.9 334.2h0M108.7 315.2h0M153.2 300.3h0M105.2 320.2h0M131.0 326.1h0M70.9 318.0h0M71.4 314.8h0M143.8 289.2h0M147.0 310.7h0" stroke="#2a2aff" stroke-opacity="0.60" stroke-width="1.35" stroke-linecap="square" fill="none"/>
<path d="M109.4 316.6h0M126.9 281.5h0M132.7 328.4h0M126.3 312.2h0M68.8 332.3h0M44.6 331.7h0M136.4 298.1h0M63.9 323.2h0M71.3 325.1h0M63.4 332.0h0M59.3 322.6h0M149.7 274.6h0M112.7 300.5h0M156.1 290.8h0M119.3 311.1h0M74.1 325.6h0M126.8 313.5h0M73.9 315.2h0M133.0 302.0h0M136.2 310.7h0M150.3 295.0h0M131.0 299.8h0M148.9 299.8h0M76.5 314.1h0M146.5 296.3h0M52.5 329.1h0M145.8 295.9h0M71.2 322.6h0M71.2 323.8h0M48.1 332.4h0M55.0 325.6h0M139.7 305.0h0M44.8 329.2h0M158.3 306.0h0M141.2 294.2h0M137.2 314.1h0M54.4 324.4h0M87.5 305.6h0M53.1 328.4h0M66.1 326.4h0M151.6 321.5h0M68.0 328.2h0M144.6 286.3h0M67.8 327.0h0M146.3 294.9h0M62.7 322.1h0M82.3 319.2h0M156.0 301.4h0M138.4 286.5h0M122.2 306.4h0M148.9 329.2h0M55.8 321.7h0M139.8 294.6h0M55.7 329.8h0M49.1 332.7h0M102.7 321.8h0M73.2 323.2h0M156.3 285.1h0M149.9 313.4h0M62.2 322.2h0M46.9 332.1h0M120.2 296.0h0M149.3 287.5h0M45.8 325.5h0M139.3 305.7h0M78.3 322.0h0M65.7 322.5h0M55.8 322.6h0M56.3 325.8h0M55.1 330.4h0M51.8 327.5h0M64.5 324.2h0M55.5 326.7h0M61.7 319.1h0M158.9 292.2h0M51.7 326.1h0M139.4 308.8h0M45.3 325.6h0M68.9 315.8h0M47.0 331.3h0M113.1 293.9h0M44.2 329.2h0M56.2 325.5h0M57.6 330.6h0M75.4 319.9h0M50.5 324.1h0M138.0 309.6h0M104.0 311.1h0M56.8 322.4h0M63.8 316.6h0M143.1 297.6h0M48.4 325.6h0M70.5 327.6h0M54.9 323.9h0M47.2 327.4h0M97.4 303.0h0M147.1 297.8h0M50.2 323.9h0M147.7 281.8h0M130.6 301.7h0M134.0 302.7h0M77.3 317.3h0M50.1 336.2h0M149.8 306.0h0M67.3 321.5h0M140.6 313.1h0M58.8 325.4h0M71.3 322.1h0M116.7 304.5h0M68.9 324.7h0M158.2 296.4h0M132.7 269.7h0M154.6 294.8h0M56.5 325.8h0M148.3 293.9h0M71.7 318.9h0M144.3 318.7h0M156.8 285.9h0M153.2 310.7h0M71.0 318.3h0M139.9 310.3h0M58.1 323.4h0M63.6 322.4h0M78.6 318.8h0M108.9 300.5h0M82.7 317.0h0M63.0 325.8h0M95.3 315.3h0M85.3 324.1h0M79.5 320.3h0M68.6 327.6h0M67.9 316.8h0M76.4 318.2h0M42.4 328.0h0M146.7 309.0h0M49.8 332.9h0M142.6 279.7h0M85.8 329.8h0M43.6 332.8h0M145.7 289.7h0M44.6 328.9h0M50.7 325.8h0M72.8 313.4h0M41.5 331.2h0M156.1 283.1h0M73.1 323.8h0M92.2 320.9h0M51.5 330.4h0M148.6 299.3h0M69.1 320.9h0M127.6 286.9h0M76.4 323.3h0M144.1 316.4h0M80.5 314.1h0M71.8 311.9h0M106.5 314.6h0M51.8 331.0h0M70.6 314.1h0M61.0 322.6h0M108.5 322.8h0M84.3 327.1h0M157.2 300.0h0M128.3 285.6h0M68.9 325.4h0M81.3 320.4h0M51.4 324.0h0M133.1 315.6h0M135.0 297.1h0M68.3 320.2h0M73.5 336.1h0M119.7 308.9h0M78.9 320.7h0M70.8 317.1h0M68.4 324.6h0M54.0 325.8h0M106.8 312.4h0M112.4 305.7h0M43.7 331.5h0M78.7 319.0h0M120.0 326.0h0" stroke="#2a2aff" stroke-opacity="0.90" stroke-width="1.35" stroke-linecap="square" fill="none"/>
<path d="M41.3,333.0 42.3,332.6 43.3,332.2 44.3,331.8 45.3,331.4 46.3,331.0 47.3,330.6 48.3,330.2 49.3,329.9 50.3,329.5 51.3,329.1 52.3,328.7 53.3,328.4 54.3,328.0 55.3,327.7 56.3,327.3 57.3,327.0 58.3,326.6 59.3,326.3 60.3,326.0 61.3,325.6 62.3,325.3 63.3,325.0 64.3,324.7 65.3,324.4 66.3,324.1 67.3,323.8 68.3,323.4 69.3,323.1 70.3,322.9 71.3,322.6 72.3,322.3 73.3,322.0 74.3,321.7 75.3,321.4 76.3,321.2 77.3,320.9 78.3,320.6 79.3,320.4 80.3,320.1 81.3,319.8 82.3,319.6 83.3,319.3 84.3,319.1 85.3,318.8 86.3,318.6 87.3,318.4 88.3,318.1 89.3,317.9 90.3,317.7 91.3,317.5 92.3,317.2 93.3,317.0 94.3,316.8 95.3,316.6 96.3,316.4 97.3,316.2 98.3,316.0 99.3,315.8 100.3,315.6 101.3,315.4 102.3,315.2 103.3,315.1 104.3,314.9 105.3,314.7 106.3,314.5 107.3,314.3 108.3,314.2 109.3,314.0 110.3,313.9 111.3,313.7 112.3,313.5 113.3,313.4 114.3,313.2 115.3,313.1 116.3,312.9 117.3,312.8 118.3,312.7 119.3,312.5 120.3,312.4 121.3,312.3 122.3,312.1 123.3,312.0 124.3,311.9 125.3,311.8 126.3,311.6 127.3,311.5 128.3,311.4 129.3,311.3 130.3,311.2 131.3,311.1 132.3,311.0 133.3,310.9 134.3,310.8 135.3,310.7 136.3,310.6 137.3,310.5 138.3,310.5 139.3,310.4 140.3,310.3 141.3,310.2 142.3,310.1 143.3,310.1 144.3,310.0 145.3,309.9 146.3,309.9 147.3,309.8 148.3,309.7 149.3,309.7 150.3,309.6 151.3,309.6 152.3,309.5 153.3,309.5 154.3,309.4 155.3,309.4 156.3,309.3 157.3,309.3 158.3,309.3" stroke="#ff22ff" stroke-width="1.25" fill="none" stroke-linecap="round" stroke-linejoin="round"/>
<path d="M41.3,332.4 42.3,331.9 43.3,331.3 44.3,330.8 45.3,330.3 46.3,329.8 47.3,329.3 48.3,328.8 49.3,328.3 50.3,327.9 51.3,327.4 52.3,327.0 53.3,326.6 54.3,326.1 55.3,325.7 56.3,325.3 57.3,324.9 58.3,324.6 59.3,324.2 60.3,323.8 61.3,323.5 62.3,323.1 63.3,322.8 64.3,322.4 65.3,322.1 66.3,321.8 67.3,321.5 68.3,321.2 69.3,320.9 70.3,320.6 71.3,320.3 72.3,320.0 73.3,319.7 74.3,319.4 75.3,319.2 76.3,318.9 77.3,318.6 78.3,318.4 79.3,318.1 80.3,317.9 81.3,317.6 82.3,317.4 83.3,317.1 84.3,316.9 85.3,316.6 86.3,316.4 87.3,316.2 88.3,315.9 89.3,315.7 90.3,315.4 91.3,315.2 92.3,314.9 93.3,314.7 94.3,314.5 95.3,314.2 96.3,314.0 97.3,313.7 98.3,313.5 99.3,313.2 100.3,313.0 101.3,312.7 102.3,312.4 103.3,312.2 104.3,311.9 105.3,311.6 106.3,311.4 107.3,311.1 108.3,310.8 109.3,310.5 110.3,310.2 111.3,309.9 112.3,309.6 113.3,309.3 114.3,309.0 115.3,308.7 116.3,308.4 117.3,308.0 118.3,307.7 119.3,307.4 120.3,307.1 121.3,306.8 122.3,306.4 123.3,306.1 124.3,305.8 125.3,305.5 126.3,305.2 127.3,304.8 128.3,304.5 129.3,304.2 130.3,303.9 131.3,303.6 132.3,303.3 133.3,303.0 134.3,302.7 135.3,302.4 136.3,302.1 137.3,301.8 138.3,301.6 139.3,301.3 140.3,301.0 141.3,300.8 142.3,300.5 143.3,300.3 144.3,300.0 145.3,299.8 146.3,299.6 147.3,299.4 148.3,299.1 149.3,299.0 150.3,298.8 151.3,298.6 152.3,298.4 153.3,298.3 154.3,298.1 155.3,298.0 156.3,297.9 157.3,297.8 158.3,297.7" stroke="#1414ff" stroke-width="1.45" fill="none" stroke-linecap="round" stroke-linejoin="round"/>
<path d="M39.50,251.30V337.50M36.30,337.50H39.50M36.30,320.26H39.50M36.30,303.02H39.50M36.30,285.78H39.50M36.30,268.54H39.50M36.30,251.30H39.50M39.50,337.50V340.80" stroke="#232323" stroke-width="1.25" fill="none"/>
<path d="M39.50,337.50H165.70M52.07,337.50V340.80M64.64,337.50V340.80M77.21,337.50V340.80M89.78,337.50V340.80M102.35,337.50V340.80M114.92,337.50V340.80M127.49,337.50V340.80M140.06,337.50V340.80M152.63,337.50V340.80M165.20,337.50V340.80" stroke="#2a2a2a" stroke-width="1.4" fill="none"/>
<text transform="translate(34.50,340.40) scale(0.83,1)" text-anchor="end" class="tk">0</text>
<text transform="translate(34.50,323.16) scale(0.83,1)" text-anchor="end" class="tk">10</text>
<text transform="translate(34.50,305.92) scale(0.83,1)" text-anchor="end" class="tk">20</text>
<text transform="translate(34.50,288.68) scale(0.83,1)" text-anchor="end" class="tk">30</text>
<text transform="translate(34.50,271.44) scale(0.83,1)" text-anchor="end" class="tk">40</text>
<text transform="translate(34.50,254.20) scale(0.83,1)" text-anchor="end" class="tk">50</text>
<text transform="translate(21.50,294.25) rotate(-90)" text-anchor="middle" textLength="40.70" lengthAdjust="spacingAndGlyphs" class="yl">IPVV<tspan style="font-size:5.9px" dy="1.8">RUL</tspan><tspan dy="-1.8">(mL)</tspan></text>
<text x="2.40" y="248.20" class="lt">e</text>
<path d="M221.73,337V251.40M234.26,337V251.40M246.79,337V251.40M259.32,337V251.40M271.85,337V251.40M284.38,337V251.40M296.91,337V251.40M309.44,337V251.40M321.97,337V251.40M334.50,337V251.40" stroke="#f0f0f0" stroke-width="0.9" fill="none"/>
<path d="M221.73,337V251.40M234.26,337V251.40M246.79,337V251.40M259.32,337V251.40M271.85,337V251.40M284.38,337V251.40M296.91,337V251.40M309.44,337V251.40M321.97,337V251.40M334.50,337V251.40" stroke="#bababa" stroke-width="0.9" stroke-dasharray="1,1" fill="none"/>
<path d="M209,315.50H334.50M209,294.50H334.50M209,272.50H334.50M209,251.50H334.50" stroke="#bababa" stroke-width="1" stroke-dasharray="1.2,0.8" fill="none"/>
<path d="M312.5 301.2h0M228.5 331.3h0M212.7 336.4h0M257.2 320.1h0M225.9 330.1h0M249.0 317.4h0M222.0 327.6h0M318.3 300.6h0M306.6 299.1h0M304.4 302.5h0M316.1 297.3h0M240.7 328.1h0M231.0 329.2h0M238.2 329.8h0M282.7 304.1h0M211.9 335.5h0M238.3 325.1h0M253.1 325.0h0M237.8 325.4h0M213.9 333.0h0M316.7 310.1h0M309.2 301.4h0M236.1 322.3h0M225.4 327.2h0M228.6 328.0h0M324.6 296.0h0M248.9 326.4h0M264.0 318.0h0M246.9 322.0h0M213.4 334.5h0M325.2 302.4h0M231.8 323.5h0M323.1 304.2h0M233.9 326.1h0M289.1 303.0h0M229.9 325.7h0M305.8 306.8h0M212.9 331.2h0M222.6 333.0h0M236.3 325.8h0M262.5 317.8h0M243.0 321.1h0M312.8 302.7h0M327.5 310.5h0M224.3 332.0h0M227.1 331.4h0M223.2 329.1h0M249.6 325.2h0M211.3 335.5h0M260.9 319.1h0M307.2 305.6h0M232.8 324.6h0M243.5 331.3h0M237.0 320.9h0M326.0 309.0h0M225.8 330.4h0M250.0 325.4h0M286.1 311.3h0M267.0 313.2h0M282.0 304.0h0M264.7 320.0h0M309.6 307.6h0M328.1 304.2h0M300.3 302.5h0M221.2 328.7h0M228.4 328.9h0M292.4 305.4h0M321.8 303.9h0M219.6 335.6h0M285.2 318.7h0M305.6 294.2h0M237.3 322.3h0M299.6 297.1h0M228.2 327.7h0M255.4 325.3h0M223.7 329.9h0M275.3 313.2h0M264.2 315.7h0M229.7 327.6h0M241.5 322.3h0M211.3 335.4h0M237.2 326.1h0M324.2 310.3h0M212.2 336.1h0M284.9 299.2h0M246.8 319.3h0M315.8 302.9h0M326.1 304.6h0M319.3 302.4h0M266.8 320.6h0M224.5 335.1h0M250.0 324.1h0M298.7 310.0h0M274.1 311.4h0M242.2 317.4h0M214.9 331.5h0M248.6 321.4h0M211.6 332.2h0M212.1 331.3h0M221.6 329.6h0M234.0 327.2h0M319.7 308.7h0M235.1 325.4h0M259.7 321.7h0M301.8 301.5h0M242.9 325.2h0M317.7 313.9h0M218.4 328.7h0M247.9 320.6h0M243.9 329.0h0M319.7 309.9h0M230.0 323.3h0M220.3 327.7h0M220.0 331.8h0M217.6 334.7h0M211.9 332.5h0M325.2 297.4h0M226.0 329.7h0M229.7 326.4h0M219.7 334.5h0M325.3 301.9h0M224.7 322.3h0M266.5 317.3h0M252.8 319.3h0M233.9 325.8h0M324.2 312.0h0M231.0 325.3h0M225.2 326.2h0M232.2 327.7h0M309.0 302.2h0M298.3 306.9h0M276.5 315.3h0M247.8 325.6h0M287.9 313.8h0M223.9 330.5h0M311.9 321.4h0M238.7 326.5h0M316.3 300.7h0M240.8 324.0h0M311.6 305.2h0M316.8 303.3h0M216.3 332.3h0M316.7 295.2h0M327.4 314.3h0M278.1 310.2h0M276.9 313.7h0M225.8 329.5h0M238.8 324.9h0M228.9 328.9h0M318.8 300.3h0M308.8 310.8h0M259.8 324.7h0M215.1 333.0h0M220.1 330.4h0M310.4 290.4h0M247.7 327.5h0M219.2 336.6h0M239.0 325.9h0M272.4 320.2h0M214.2 335.1h0M303.2 304.9h0M304.9 307.7h0M318.2 295.0h0" stroke="#ff33ff" stroke-opacity="0.35" stroke-width="1.35" stroke-linecap="square" fill="none"/>
<path d="M312.0 301.9h0M227.6 331.6h0M303.0 307.7h0M326.8 303.8h0M297.8 315.9h0M300.2 308.9h0M237.0 324.4h0M215.4 332.3h0M305.3 303.7h0M247.0 323.2h0M252.1 321.2h0M226.2 327.4h0M229.1 330.8h0M296.9 304.1h0M261.7 323.9h0M216.7 328.7h0M235.2 330.9h0M246.6 321.9h0M226.5 327.8h0M259.5 316.5h0M319.4 302.3h0M312.1 313.5h0M322.3 301.6h0M251.2 324.0h0M223.0 322.4h0M297.1 304.5h0M233.1 329.2h0M229.5 326.6h0M238.8 326.0h0M300.6 316.0h0M303.8 310.5h0M327.7 310.2h0M228.9 327.4h0M241.0 324.6h0M251.6 320.3h0M249.5 320.1h0M233.6 325.8h0M301.0 296.2h0M321.6 308.2h0M301.3 295.3h0M313.0 290.0h0M297.2 303.8h0M211.3 336.4h0M313.9 307.1h0M317.2 302.6h0M317.9 296.0h0M286.6 306.6h0M247.6 320.1h0M317.4 308.7h0M280.5 308.7h0M230.8 326.8h0M224.6 326.3h0M299.0 298.1h0M224.8 329.0h0M228.4 326.9h0M312.2 302.1h0M229.0 325.3h0M212.4 325.3h0M245.0 325.7h0M247.1 326.6h0M309.4 304.9h0M214.5 332.7h0M250.2 319.4h0M237.1 329.2h0M213.6 332.0h0M301.2 293.4h0M244.5 327.3h0M314.6 298.2h0M231.9 329.1h0M213.6 331.8h0M307.6 300.7h0M241.1 323.7h0M230.9 328.5h0M295.4 308.1h0M323.9 305.5h0M241.4 316.3h0M240.8 327.2h0M301.6 302.5h0M292.8 307.5h0M324.6 314.8h0M233.5 328.3h0M224.8 330.0h0M303.4 310.8h0M225.2 329.7h0M274.7 314.3h0M307.8 309.1h0M237.3 330.3h0M259.9 322.0h0M223.3 331.4h0M223.2 328.7h0M258.2 317.5h0M217.0 334.0h0M301.7 299.6h0M270.8 314.9h0M259.7 321.6h0M223.1 326.3h0M308.2 294.8h0M311.4 305.8h0M313.5 300.1h0M243.0 323.2h0M259.2 318.8h0M244.4 324.2h0M237.0 321.4h0M288.0 321.5h0M322.6 310.5h0M317.4 312.2h0M311.8 300.6h0M260.9 321.5h0M316.3 314.0h0M240.8 323.8h0M327.3 297.9h0M236.1 323.6h0M258.6 320.8h0M240.5 331.6h0M242.1 322.8h0M326.3 317.5h0M298.2 307.0h0M309.4 297.3h0M228.2 324.5h0M224.2 332.9h0M221.7 332.4h0M228.8 326.0h0M318.2 299.5h0M268.0 312.0h0M255.3 321.8h0M247.2 320.4h0M238.8 327.3h0M218.5 329.9h0M216.6 330.8h0M244.0 322.7h0M229.8 329.4h0M251.3 321.2h0M252.9 320.6h0M226.5 330.1h0M250.1 318.6h0M320.1 308.9h0M212.3 333.0h0M282.0 306.6h0M263.4 317.5h0M316.6 305.5h0M237.6 326.6h0M323.3 308.9h0M270.6 322.1h0M237.8 326.1h0M215.3 328.7h0M314.8 311.8h0M217.4 331.1h0M312.5 307.7h0M241.7 325.8h0M226.8 329.0h0M224.5 327.4h0M297.7 312.9h0M300.8 301.9h0M247.9 327.9h0M220.2 332.5h0M264.7 312.2h0M264.4 321.9h0M262.3 322.0h0M234.8 326.2h0M241.1 326.7h0M327.5 303.6h0M248.4 327.4h0M235.8 323.7h0M235.5 323.6h0M233.6 326.1h0M300.9 307.5h0M216.5 330.6h0M287.8 306.2h0M304.0 311.6h0M236.4 329.1h0M283.5 313.9h0M249.3 325.4h0M234.2 328.4h0M309.7 306.2h0M308.5 289.6h0M313.3 304.5h0M307.7 309.7h0M247.9 323.9h0M213.2 333.7h0M231.9 326.7h0M224.6 332.0h0M326.7 299.4h0M239.4 327.1h0M310.1 302.6h0M220.0 334.5h0M216.3 333.4h0M250.5 331.3h0M315.7 309.5h0M229.5 332.3h0M320.2 299.5h0M256.9 319.7h0M231.5 328.1h0M246.0 321.2h0" stroke="#ff33ff" stroke-opacity="0.60" stroke-width="1.35" stroke-linecap="square" fill="none"/>
<path d="M236.9 324.6h0M236.3 327.9h0M320.1 302.1h0M297.1 302.5h0M225.5 329.0h0M226.0 327.7h0M324.6 301.3h0M327.7 310.7h0M212.4 335.4h0M230.5 330.2h0M312.5 310.8h0M306.5 303.9h0M223.2 329.4h0M227.4 328.5h0M267.5 324.8h0M231.0 326.0h0M212.8 333.2h0M229.3 332.7h0M228.1 328.0h0M269.6 321.4h0M263.3 324.5h0M223.5 330.7h0M315.5 302.9h0M311.7 317.7h0M218.3 332.2h0M311.5 296.7h0M235.4 324.4h0M318.8 302.5h0M319.5 309.0h0M303.2 313.3h0M230.9 328.7h0M247.9 319.1h0M304.5 307.6h0M307.2 310.2h0M301.9 302.9h0M215.2 335.1h0M243.7 324.4h0M214.8 333.3h0M267.8 313.1h0M225.3 333.4h0M228.9 327.4h0M211.7 334.0h0M227.6 330.1h0M290.4 305.6h0M255.2 315.7h0M249.1 320.4h0M281.4 304.4h0M248.5 319.7h0M317.0 302.5h0M245.0 325.6h0M300.5 296.4h0M282.0 315.1h0M326.4 315.1h0M309.8 307.7h0M318.3 304.9h0M219.4 336.5h0M216.7 330.5h0M313.3 303.1h0M242.3 326.0h0M270.1 318.0h0M211.3 333.0h0M256.6 324.2h0M318.9 306.8h0M248.0 326.7h0M217.7 330.1h0M289.6 307.2h0M239.9 329.5h0M244.3 330.6h0M311.9 309.4h0M309.1 306.6h0M219.1 331.3h0M321.5 300.1h0M273.2 313.2h0M225.5 336.5h0M222.4 331.5h0M326.7 300.6h0M231.9 326.0h0M244.3 324.1h0M220.3 324.7h0M301.7 296.4h0M314.4 310.3h0M236.9 323.2h0M214.7 330.9h0M325.4 313.4h0M211.2 333.6h0M226.9 330.3h0M231.1 329.1h0M315.4 296.5h0M226.8 326.7h0M246.1 324.7h0M290.5 305.5h0M211.5 333.9h0M300.2 300.8h0M309.0 304.1h0M327.7 315.4h0M218.7 331.8h0M307.8 317.3h0M245.2 326.4h0M223.2 331.2h0M251.0 320.0h0M231.2 333.2h0M270.3 321.0h0M324.0 295.6h0M307.2 301.0h0M323.1 303.7h0M248.6 318.6h0M323.2 288.6h0M213.3 334.2h0M309.8 305.9h0M315.4 303.7h0M244.1 328.5h0M271.3 313.8h0M228.3 332.7h0M224.8 329.0h0M263.9 317.9h0M252.9 322.5h0M225.4 329.7h0M305.2 305.6h0M242.3 326.4h0M318.0 312.0h0M257.0 316.4h0M226.4 328.7h0M319.7 296.3h0M280.1 315.0h0M225.2 330.7h0M222.9 332.2h0M240.5 321.7h0M327.5 300.5h0M317.8 315.6h0M236.8 327.5h0M310.3 309.8h0M236.6 325.7h0M242.9 328.4h0M246.3 323.8h0M230.9 329.7h0M250.2 324.5h0M241.2 326.6h0M316.6 303.7h0M303.4 301.2h0M223.3 333.4h0M223.7 333.3h0M246.2 326.4h0M297.5 302.4h0M224.8 327.4h0" stroke="#ff33ff" stroke-opacity="0.90" stroke-width="1.35" stroke-linecap="square" fill="none"/>
<path d="M220.9 330.1h0M222.7 330.1h0M232.5 322.8h0M230.8 328.1h0M235.9 324.5h0M231.9 326.9h0M308.6 273.6h0M243.1 325.5h0M282.7 307.4h0M215.4 329.5h0M295.0 308.0h0M307.1 308.2h0M311.2 314.6h0M228.7 329.6h0M238.3 319.4h0M238.9 327.1h0M294.8 289.3h0M228.6 328.3h0M224.5 330.9h0M245.4 318.7h0M310.0 297.5h0M288.8 311.0h0M227.9 326.8h0M228.3 323.7h0M222.2 328.1h0M325.2 280.0h0M303.4 310.6h0M240.6 322.7h0M223.9 332.7h0M287.9 308.6h0M327.0 304.5h0M236.0 323.4h0M216.1 332.2h0M312.2 299.8h0M220.5 331.6h0M223.3 329.0h0M295.1 290.5h0M231.6 325.9h0M240.4 321.5h0M322.8 293.2h0M252.5 318.3h0M302.8 308.7h0M251.4 318.1h0M248.5 318.5h0M318.1 295.6h0M213.2 329.6h0M252.0 319.4h0M232.1 326.7h0M226.2 328.1h0M251.5 312.4h0M271.3 308.3h0M244.0 323.8h0M225.2 331.2h0M236.0 327.6h0M237.7 326.2h0M250.7 320.7h0M323.4 297.9h0M240.0 326.1h0M316.4 295.8h0M311.2 299.2h0M307.1 298.1h0M315.5 302.5h0M320.3 285.8h0M226.5 325.7h0M292.3 293.6h0M324.0 285.8h0M248.2 323.8h0M316.8 290.7h0M325.5 304.0h0M229.0 334.3h0M279.6 309.4h0M252.4 317.6h0M303.8 287.0h0M236.3 334.4h0M220.2 330.4h0M213.8 336.7h0M213.2 330.4h0M293.3 305.7h0M305.9 293.8h0M279.0 323.7h0M220.7 333.6h0M214.7 330.9h0M298.7 300.8h0M249.6 323.9h0M245.5 320.8h0M211.9 333.1h0M320.1 293.1h0M308.7 291.6h0M240.8 320.3h0M282.9 303.8h0M300.5 320.2h0M298.9 303.9h0M226.0 324.5h0M221.7 328.7h0M306.1 286.4h0M315.9 310.3h0M238.5 322.5h0M316.9 285.8h0M233.9 324.9h0M290.3 300.3h0M228.5 333.0h0M234.3 327.1h0M212.7 335.5h0M230.9 324.6h0M228.6 328.7h0M249.5 326.8h0M319.4 302.2h0M318.7 310.0h0M227.4 322.9h0M325.0 281.2h0M234.9 328.5h0M217.8 331.0h0M215.9 327.4h0M327.5 306.3h0M244.2 320.8h0M211.9 333.5h0M244.1 319.5h0M236.4 327.1h0M239.2 325.3h0M222.8 332.5h0M225.1 331.8h0M228.6 328.6h0M212.8 335.0h0M236.2 321.9h0M292.0 307.2h0M214.0 334.5h0M213.9 336.0h0M295.2 296.8h0M321.9 296.7h0M319.9 288.1h0M276.3 313.7h0M224.9 326.9h0M250.5 325.3h0M311.0 294.5h0M235.2 323.4h0M231.7 327.9h0M319.3 292.0h0M299.2 296.7h0M247.0 314.7h0M241.0 328.7h0M232.6 327.0h0M315.8 311.2h0M220.8 332.3h0M264.3 309.3h0M320.3 275.1h0M301.6 299.1h0M318.0 296.5h0M234.7 326.3h0M303.3 301.6h0M299.5 294.8h0M256.3 322.5h0M244.7 323.7h0M212.1 335.0h0M235.6 327.1h0M212.5 331.7h0M258.4 317.7h0M244.7 324.9h0M224.8 331.8h0M321.3 309.6h0M252.2 326.2h0M227.4 330.1h0M235.3 328.8h0M249.4 315.2h0M319.7 294.6h0M229.4 327.6h0M311.3 304.7h0M240.6 322.8h0M320.9 285.9h0M312.5 293.1h0M214.2 330.5h0M219.2 335.4h0M253.5 313.9h0M284.5 304.5h0M230.8 336.5h0M220.8 336.4h0M241.2 328.1h0M229.5 329.4h0M307.5 312.1h0M248.5 316.7h0M319.4 296.8h0M231.3 327.1h0M243.8 327.7h0M231.2 325.1h0M215.4 327.8h0M213.7 335.3h0M232.5 324.3h0M301.4 299.6h0M235.6 325.9h0M274.8 320.2h0M300.2 292.6h0M298.0 287.5h0M242.3 325.7h0M238.2 323.0h0M216.2 330.3h0M221.9 331.7h0M257.4 313.5h0M292.6 313.2h0M223.2 329.0h0M235.6 325.1h0M300.3 296.3h0M232.7 330.6h0M294.5 295.4h0M324.2 283.0h0M261.7 312.5h0M221.5 332.2h0M271.3 317.6h0M301.5 305.5h0M310.2 304.1h0M233.0 330.7h0M284.1 301.5h0M252.7 317.3h0M231.1 326.6h0M299.5 290.0h0M249.5 321.9h0M222.7 329.3h0M214.2 335.0h0M223.6 330.7h0M309.8 301.8h0M224.5 328.5h0M230.7 327.4h0M300.4 298.2h0M321.3 309.9h0M309.0 292.2h0M214.2 333.1h0M313.7 302.1h0M239.2 323.9h0M282.6 309.0h0M271.5 307.5h0M248.1 327.4h0M299.2 287.2h0" stroke="#2a2aff" stroke-opacity="0.35" stroke-width="1.35" stroke-linecap="square" fill="none"/>
<path d="M237.1 324.2h0M218.1 331.9h0M319.1 292.3h0M302.2 288.7h0M216.6 327.0h0M322.3 306.4h0M232.6 333.5h0M234.6 329.1h0M213.9 336.0h0M243.1 323.4h0M213.2 333.8h0M221.3 334.6h0M250.4 323.4h0M301.1 293.0h0M246.7 321.4h0M325.5 289.7h0M308.3 296.4h0M223.0 323.7h0M313.8 281.9h0M246.5 324.4h0M322.2 287.4h0M250.4 318.4h0M320.0 302.6h0M235.5 322.7h0M244.0 320.2h0M222.7 331.0h0M277.3 296.7h0M231.3 328.4h0M320.9 292.1h0M213.3 330.9h0M313.7 289.3h0M251.9 320.9h0M232.5 328.1h0M299.8 288.0h0M234.2 330.3h0M232.2 328.6h0M217.8 334.2h0M231.7 323.4h0M237.8 326.6h0M250.7 324.4h0M218.1 330.5h0M223.0 330.0h0M297.7 308.4h0M230.3 327.9h0M228.6 330.4h0M240.3 325.1h0M241.8 326.2h0M211.7 331.9h0M304.1 286.4h0M312.9 295.2h0M319.1 283.2h0M212.3 332.6h0M224.5 326.0h0M312.6 301.2h0M222.4 331.6h0M290.5 312.1h0M234.7 319.8h0M240.4 322.3h0M212.3 331.0h0M310.6 286.1h0M242.0 324.0h0M251.0 324.2h0M284.8 309.8h0M245.1 325.4h0M211.5 331.2h0M216.9 331.2h0M259.7 317.7h0M219.4 330.2h0M299.9 285.2h0M224.4 332.4h0M319.1 291.7h0M256.1 321.7h0M320.5 299.9h0M251.8 325.4h0M249.9 320.4h0M220.1 334.3h0M220.1 331.7h0M310.6 303.9h0M213.4 332.6h0M299.2 294.4h0M216.2 329.8h0M225.5 330.2h0M327.8 295.5h0M243.8 325.3h0M244.6 323.4h0M271.1 313.9h0M263.3 305.3h0M299.3 301.2h0M218.6 322.9h0M301.3 299.8h0M246.0 320.1h0M240.4 325.8h0M242.0 325.8h0M212.8 335.0h0M230.5 320.8h0M228.1 330.0h0M253.5 316.8h0M248.8 318.2h0M302.5 299.9h0M288.2 300.8h0M301.5 297.6h0M322.5 291.9h0M322.8 294.9h0M264.3 310.1h0M274.0 302.7h0M241.5 327.0h0M235.6 320.4h0M310.5 291.5h0M317.3 288.3h0M282.7 317.4h0M317.0 284.7h0M214.8 332.4h0M261.4 322.6h0M231.5 327.4h0M297.5 291.7h0M238.5 328.3h0M218.9 327.1h0M320.1 323.5h0M224.7 328.8h0M211.5 335.0h0M292.2 300.5h0M236.1 326.3h0M227.9 329.1h0M252.9 320.7h0M319.3 298.1h0M219.8 330.9h0M217.0 332.1h0M221.1 332.2h0M236.7 327.0h0M275.9 312.8h0M277.7 325.6h0M322.0 287.3h0M241.5 325.6h0M314.4 296.7h0M262.7 311.8h0M290.8 307.5h0M253.3 318.4h0M219.3 326.8h0M236.4 326.8h0M252.9 316.7h0M232.5 328.6h0M241.2 323.2h0M263.9 315.3h0M319.0 298.9h0M220.2 332.1h0M222.5 336.1h0M219.0 330.3h0M284.2 307.2h0M229.9 328.5h0M215.0 330.3h0M229.6 330.4h0M305.5 299.8h0M225.5 330.0h0M319.3 295.7h0M244.8 324.8h0M216.2 335.1h0M293.4 309.9h0M325.6 274.6h0M234.8 328.8h0M245.9 322.5h0M301.1 288.7h0M324.0 290.2h0M224.7 331.4h0M224.6 330.9h0M327.9 292.5h0M298.1 298.0h0M234.5 322.7h0M218.0 329.8h0M244.2 326.3h0M305.2 294.7h0M238.2 327.8h0M282.3 316.1h0M315.2 301.3h0M296.6 295.7h0M235.7 323.6h0M252.5 320.9h0M317.9 311.6h0M248.1 323.2h0M246.9 323.1h0M281.8 307.6h0M231.4 327.3h0M297.9 298.3h0M291.4 302.1h0M263.6 312.9h0M213.7 334.3h0M240.6 326.4h0M318.6 296.2h0M282.6 307.7h0M319.9 283.3h0M224.3 328.6h0M221.9 334.9h0M212.6 332.0h0M321.2 286.3h0M301.9 306.1h0M247.5 322.5h0M218.1 327.2h0M236.3 328.4h0M304.6 291.4h0M251.2 329.0h0M291.2 301.6h0M242.4 332.8h0M306.8 294.8h0M243.2 325.7h0M301.5 296.3h0M303.8 279.1h0M233.0 323.0h0M213.1 335.5h0M219.0 327.4h0M235.3 323.7h0M244.8 322.8h0M220.8 331.0h0M259.8 312.6h0M297.9 298.4h0M244.8 314.2h0M309.6 278.5h0M326.5 284.7h0M306.8 301.3h0M222.1 331.3h0M232.1 333.8h0M321.5 287.5h0M246.1 318.4h0M232.3 329.2h0M253.5 320.8h0M287.2 315.6h0M288.3 313.0h0M320.0 304.4h0M312.8 300.5h0M239.4 324.5h0M220.7 331.0h0M223.3 333.9h0M211.2 334.1h0M316.7 301.0h0M249.0 322.2h0M322.6 289.6h0M324.1 296.3h0M223.6 330.6h0M286.4 309.1h0M264.8 318.4h0M247.4 323.7h0M230.0 322.2h0M216.4 331.2h0M219.9 331.8h0M307.1 305.8h0M316.5 300.1h0M314.2 303.3h0M314.1 290.0h0M249.9 327.2h0" stroke="#2a2aff" stroke-opacity="0.60" stroke-width="1.35" stroke-linecap="square" fill="none"/>
<path d="M320.6 300.6h0M240.5 326.4h0M317.4 299.2h0M251.5 327.3h0M300.9 310.1h0M298.2 305.5h0M270.2 312.1h0M223.5 331.3h0M251.3 319.7h0M315.2 287.3h0M324.6 287.8h0M227.6 327.3h0M228.8 327.9h0M304.4 299.1h0M317.9 294.8h0M233.0 331.3h0M226.3 321.7h0M220.5 333.5h0M326.8 286.8h0M212.7 333.5h0M244.2 325.8h0M302.6 286.6h0M305.8 288.3h0M321.8 293.7h0M313.8 299.3h0M258.8 312.7h0M311.4 289.8h0M320.2 291.6h0M241.1 326.0h0M216.8 334.8h0M219.0 333.2h0M304.6 299.2h0M249.3 321.8h0M313.6 307.1h0M312.3 288.0h0M293.9 291.7h0M228.0 327.8h0M241.2 332.6h0M233.1 327.1h0M220.7 335.6h0M220.4 330.6h0M247.6 323.3h0M283.6 307.0h0M314.7 287.9h0M224.7 330.3h0M252.2 318.5h0M300.2 298.0h0M239.9 320.2h0M215.6 331.8h0M231.9 325.8h0M302.1 318.8h0M228.0 326.9h0M252.7 317.0h0M238.6 324.7h0M255.4 319.8h0M242.4 327.6h0M226.9 327.7h0M253.1 321.2h0M219.0 330.9h0M212.6 336.4h0M212.9 333.6h0M212.2 333.0h0M277.7 303.9h0M248.8 326.5h0M302.1 290.2h0M244.4 324.1h0M250.3 315.5h0M326.8 291.6h0M228.1 325.6h0M245.4 322.2h0M227.0 327.3h0M321.8 292.7h0M282.6 308.2h0M240.4 321.4h0M242.7 311.6h0M230.5 328.3h0M256.7 317.3h0M326.4 282.0h0M211.8 328.1h0M322.5 311.9h0M292.8 305.7h0M264.6 308.6h0M303.5 289.8h0M311.1 289.3h0M222.6 335.8h0M310.2 307.5h0M318.1 315.6h0M311.9 287.2h0M240.6 325.1h0M245.0 325.7h0M227.6 329.9h0M316.3 290.5h0M248.7 322.5h0M301.2 304.1h0M320.7 311.5h0M228.5 330.5h0M310.9 285.3h0M224.7 332.8h0M265.2 315.1h0M220.4 334.0h0M216.2 328.1h0M302.8 301.7h0M222.8 327.6h0M215.0 334.3h0M232.2 328.7h0M223.2 333.6h0M211.4 333.8h0M325.7 275.2h0M272.6 316.3h0M315.7 304.8h0M213.1 332.3h0M237.0 327.9h0M228.5 327.5h0M211.7 332.8h0M223.2 328.6h0M318.4 288.3h0M241.7 326.2h0M235.9 321.3h0M237.9 324.6h0M229.3 327.6h0M228.3 333.7h0M234.0 329.7h0M306.9 300.0h0M281.2 295.3h0M310.1 285.6h0M327.1 293.5h0M270.8 302.8h0M321.4 297.6h0M313.0 285.6h0M315.0 297.5h0M313.8 300.6h0M322.4 291.3h0M295.0 316.9h0M315.9 270.4h0M320.0 300.0h0M220.1 331.3h0M223.6 327.2h0M327.3 286.5h0M248.9 320.3h0M220.3 331.4h0M272.5 318.2h0M235.9 323.6h0M252.3 319.4h0M308.7 292.2h0M215.1 335.8h0M211.3 332.3h0M234.3 328.5h0M212.0 336.6h0M231.1 330.7h0M248.6 318.8h0M310.6 295.9h0M261.7 310.1h0M231.1 332.1h0M269.8 306.3h0M220.8 330.4h0M214.9 330.6h0M221.4 331.8h0M216.9 333.5h0M319.2 286.5h0M218.6 330.2h0M325.6 297.6h0M235.7 325.4h0M219.8 331.8h0M246.2 320.7h0M238.8 325.8h0M245.5 325.1h0M247.8 322.1h0M247.6 329.6h0M261.9 315.0h0M283.1 304.4h0M257.2 317.7h0M318.7 297.7h0M310.0 289.8h0M243.2 325.2h0M240.6 329.0h0M248.7 324.0h0M215.7 333.8h0M258.9 321.7h0M217.2 331.0h0M238.1 317.3h0M234.0 326.4h0M310.5 305.2h0M235.5 327.0h0" stroke="#2a2aff" stroke-opacity="0.90" stroke-width="1.35" stroke-linecap="square" fill="none"/>
<path d="M211.3,334.7 212.3,334.3 213.3,333.8 214.3,333.5 215.3,333.1 216.3,332.7 217.3,332.3 218.3,331.9 219.3,331.6 220.3,331.2 221.3,330.9 222.3,330.5 223.3,330.2 224.3,329.8 225.3,329.5 226.3,329.2 227.3,328.9 228.3,328.5 229.3,328.2 230.3,327.9 231.3,327.6 232.3,327.3 233.3,327.0 234.3,326.7 235.3,326.4 236.3,326.1 237.3,325.8 238.3,325.5 239.3,325.2 240.3,325.0 241.3,324.7 242.3,324.4 243.3,324.1 244.3,323.8 245.3,323.5 246.3,323.2 247.3,322.9 248.3,322.6 249.3,322.3 250.3,322.1 251.3,321.8 252.3,321.5 253.3,321.2 254.3,320.9 255.3,320.6 256.3,320.3 257.3,319.9 258.3,319.6 259.3,319.3 260.3,319.0 261.3,318.7 262.3,318.3 263.3,318.0 264.3,317.7 265.3,317.3 266.3,317.0 267.3,316.6 268.3,316.2 269.3,315.9 270.3,315.5 271.3,315.1 272.3,314.7 273.3,314.3 274.3,313.9 275.3,313.5 276.3,313.1 277.3,312.7 278.3,312.3 279.3,311.8 280.3,311.4 281.3,311.0 282.3,310.6 283.3,310.1 284.3,309.7 285.3,309.3 286.3,308.9 287.3,308.5 288.3,308.1 289.3,307.7 290.3,307.4 291.3,307.0 292.3,306.7 293.3,306.4 294.3,306.1 295.3,305.8 296.3,305.5 297.3,305.2 298.3,305.0 299.3,304.8 300.3,304.6 301.3,304.5 302.3,304.3 303.3,304.2 304.3,304.1 305.3,304.0 306.3,303.9 307.3,303.9 308.3,303.8 309.3,303.8 310.3,303.8 311.3,303.7 312.3,303.7 313.3,303.8 314.3,303.8 315.3,303.8 316.3,303.8 317.3,303.9 318.3,303.9 319.3,304.0 320.3,304.0 321.3,304.0 322.3,304.1 323.3,304.1 324.3,304.2 325.3,304.2 326.3,304.3 327.3,304.3 328.3,304.4" stroke="#ff22ff" stroke-width="1.25" fill="none" stroke-linecap="round" stroke-linejoin="round"/>
<path d="M211.3,333.9 212.3,333.6 213.3,333.2 214.3,332.9 215.3,332.6 216.3,332.3 217.3,332.0 218.3,331.7 219.3,331.4 220.3,331.0 221.3,330.7 222.3,330.4 223.3,330.1 224.3,329.8 225.3,329.4 226.3,329.1 227.3,328.8 228.3,328.5 229.3,328.2 230.3,327.8 231.3,327.5 232.3,327.2 233.3,326.8 234.3,326.5 235.3,326.2 236.3,325.8 237.3,325.5 238.3,325.2 239.3,324.8 240.3,324.5 241.3,324.2 242.3,323.8 243.3,323.5 244.3,323.1 245.3,322.8 246.3,322.4 247.3,322.0 248.3,321.7 249.3,321.3 250.3,321.0 251.3,320.6 252.3,320.2 253.3,319.8 254.3,319.5 255.3,319.1 256.3,318.7 257.3,318.3 258.3,317.9 259.3,317.5 260.3,317.1 261.3,316.7 262.3,316.3 263.3,315.9 264.3,315.5 265.3,315.1 266.3,314.7 267.3,314.3 268.3,313.8 269.3,313.4 270.3,313.0 271.3,312.5 272.3,312.1 273.3,311.6 274.3,311.2 275.3,310.7 276.3,310.3 277.3,309.8 278.3,309.3 279.3,308.9 280.3,308.4 281.3,307.9 282.3,307.5 283.3,307.0 284.3,306.5 285.3,306.0 286.3,305.6 287.3,305.1 288.3,304.6 289.3,304.2 290.3,303.7 291.3,303.3 292.3,302.8 293.3,302.3 294.3,301.9 295.3,301.5 296.3,301.0 297.3,300.6 298.3,300.2 299.3,299.8 300.3,299.4 301.3,299.0 302.3,298.6 303.3,298.2 304.3,297.8 305.3,297.5 306.3,297.1 307.3,296.8 308.3,296.4 309.3,296.1 310.3,295.8 311.3,295.5 312.3,295.3 313.3,295.0 314.3,294.8 315.3,294.5 316.3,294.3 317.3,294.1 318.3,293.9 319.3,293.8 320.3,293.6 321.3,293.5 322.3,293.4 323.3,293.3 324.3,293.2 325.3,293.2 326.3,293.1 327.3,293.1 328.3,293.2" stroke="#1414ff" stroke-width="1.45" fill="none" stroke-linecap="round" stroke-linejoin="round"/>
<path d="M209.20,251.40V337.50M206.00,337.50H209.20M206.00,315.98H209.20M206.00,294.45H209.20M206.00,272.93H209.20M206.00,251.40H209.20M209.20,337.50V340.80" stroke="#232323" stroke-width="1.25" fill="none"/>
<path d="M209.20,337.50H335.00M221.73,337.50V340.80M234.26,337.50V340.80M246.79,337.50V340.80M259.32,337.50V340.80M271.85,337.50V340.80M284.38,337.50V340.80M296.91,337.50V340.80M309.44,337.50V340.80M321.97,337.50V340.80M334.50,337.50V340.80" stroke="#2a2a2a" stroke-width="1.4" fill="none"/>
<text transform="translate(204.20,340.40) scale(0.83,1)" text-anchor="end" class="tk">0</text>
<text transform="translate(204.20,318.88) scale(0.83,1)" text-anchor="end" class="tk">20</text>
<text transform="translate(204.20,297.35) scale(0.83,1)" text-anchor="end" class="tk">40</text>
<text transform="translate(204.20,275.82) scale(0.83,1)" text-anchor="end" class="tk">60</text>
<text transform="translate(204.20,254.30) scale(0.83,1)" text-anchor="end" class="tk">80</text>
<text transform="translate(190.20,294.30) rotate(-90)" text-anchor="middle" textLength="43.40" lengthAdjust="spacingAndGlyphs" class="yl">IPVV<tspan style="font-size:5.9px" dy="1.8">RLL</tspan><tspan dy="-1.8">(mL)</tspan></text>
<text x="174.50" y="248.60" class="lt">f</text>
<path d="M391.85,337V251.20M404.40,337V251.20M416.95,337V251.20M429.50,337V251.20M442.05,337V251.20M454.60,337V251.20M467.15,337V251.20M479.70,337V251.20M492.25,337V251.20M504.80,337V251.20" stroke="#f0f0f0" stroke-width="0.9" fill="none"/>
<path d="M391.85,337V251.20M404.40,337V251.20M416.95,337V251.20M429.50,337V251.20M442.05,337V251.20M454.60,337V251.20M467.15,337V251.20M479.70,337V251.20M492.25,337V251.20M504.80,337V251.20" stroke="#bababa" stroke-width="0.9" stroke-dasharray="1,1" fill="none"/>
<path d="M379,320.50H504.80M379,302.50H504.80M379,285.50H504.80M379,268.50H504.80M379,251.50H504.80" stroke="#bababa" stroke-width="1" stroke-dasharray="1.2,0.8" fill="none"/>
<path d="M389.1 326.3h0M474.3 304.7h0M439.9 309.4h0M436.1 317.3h0M494.1 297.0h0M482.9 297.9h0M389.5 329.2h0M475.6 309.9h0M406.4 323.7h0M483.7 287.8h0M399.2 328.2h0M492.8 296.4h0M385.1 330.9h0M494.7 294.0h0M389.7 329.2h0M384.8 328.1h0M482.2 299.7h0M416.0 319.7h0M388.3 334.2h0M399.9 321.4h0M419.7 318.5h0M461.2 292.2h0M391.2 327.4h0M481.6 302.2h0M494.0 294.3h0M427.3 305.4h0M421.1 309.4h0M400.2 327.1h0M457.6 303.3h0M406.2 320.7h0M408.2 324.3h0M408.2 319.6h0M424.8 309.7h0M390.6 328.0h0M415.9 317.0h0M419.5 321.1h0M395.9 328.3h0M411.8 319.2h0M407.0 320.7h0M470.9 295.5h0M391.8 334.6h0M388.3 330.6h0M415.4 319.2h0M420.1 317.7h0M482.6 298.8h0M404.9 322.7h0M412.0 322.0h0M407.3 322.5h0M411.9 319.6h0M384.2 331.5h0M406.6 318.9h0M490.5 302.7h0M446.5 307.4h0M457.1 309.0h0M450.1 306.2h0M454.3 286.5h0M485.5 298.9h0M381.2 333.2h0M386.2 331.6h0M383.6 333.0h0M471.3 291.6h0M410.2 323.3h0M419.3 320.8h0M399.2 328.9h0M489.8 293.8h0M480.5 293.8h0M484.2 304.1h0M496.1 277.3h0M481.3 301.9h0M486.5 297.7h0M432.5 316.8h0M394.7 328.3h0M473.3 304.9h0M382.4 335.5h0M488.0 297.1h0M490.0 298.5h0M409.6 319.1h0M421.1 317.5h0M412.2 321.2h0M418.6 321.2h0M471.8 311.6h0M397.7 329.2h0M386.0 331.8h0M459.9 307.1h0M398.6 325.2h0M386.0 329.9h0M395.9 324.4h0M414.8 321.7h0M473.4 305.2h0M388.6 331.8h0M417.1 323.6h0M479.6 299.4h0M406.9 315.6h0M429.0 310.8h0M480.2 303.7h0M424.3 320.7h0M386.8 330.3h0M404.3 324.5h0M473.4 301.1h0M407.7 319.0h0M470.5 309.1h0M449.6 309.1h0M440.0 309.9h0M468.4 308.7h0M485.7 298.8h0M402.9 322.6h0M495.2 292.0h0M407.6 317.7h0M422.5 323.1h0M406.1 322.3h0M447.3 309.3h0M428.2 317.4h0M472.9 303.1h0M440.0 304.4h0M407.4 318.4h0M411.4 321.8h0M405.6 325.2h0M417.4 311.9h0M490.5 311.0h0M388.4 328.0h0M422.4 315.1h0M391.8 328.9h0M420.8 313.9h0M491.5 300.9h0M387.6 328.8h0M413.7 310.3h0M415.2 321.6h0M402.9 327.5h0M486.5 297.2h0M397.0 327.5h0M491.7 307.5h0M477.1 300.9h0M395.9 324.1h0M414.2 312.5h0M413.2 318.9h0M465.2 301.6h0M399.4 322.4h0M420.6 311.4h0M476.6 310.2h0M381.8 336.6h0M388.9 329.6h0M406.6 321.8h0M387.5 325.6h0M496.5 301.8h0M414.2 317.7h0M385.4 329.1h0M418.1 317.7h0M384.9 333.1h0M427.3 319.4h0M406.2 326.5h0M385.4 329.8h0M484.6 300.7h0M391.1 330.8h0M399.2 328.4h0M390.3 326.0h0M482.4 300.8h0M487.5 302.8h0M410.2 325.8h0M383.0 332.4h0M420.7 312.5h0M387.5 329.8h0M418.3 320.2h0M473.4 298.8h0M480.4 305.2h0M422.0 323.1h0M475.6 304.4h0M389.5 327.4h0M408.2 319.4h0M410.1 319.8h0M489.1 295.1h0M419.6 307.7h0M437.4 307.4h0" stroke="#ff33ff" stroke-opacity="0.35" stroke-width="1.35" stroke-linecap="square" fill="none"/>
<path d="M467.0 305.1h0M411.3 324.4h0M398.8 325.7h0M460.8 302.7h0M457.1 319.1h0M492.4 295.8h0M456.4 308.3h0M493.1 302.3h0M386.0 335.0h0M387.1 331.9h0M419.1 318.9h0M387.5 329.7h0M450.0 308.7h0M411.0 317.6h0M406.4 324.7h0M442.3 313.8h0M393.6 326.9h0M404.4 322.1h0M415.7 326.1h0M393.9 320.5h0M485.1 300.9h0M387.6 324.6h0M392.5 326.6h0M485.5 296.0h0M423.1 323.5h0M383.7 335.5h0M416.6 321.4h0M391.2 329.9h0M393.3 328.2h0M382.8 330.9h0M390.5 327.9h0M382.6 333.9h0M385.4 336.1h0M420.9 316.0h0M464.3 305.6h0M392.1 332.7h0M416.6 321.5h0M487.0 293.9h0M389.8 324.4h0M390.5 332.4h0M476.5 293.1h0M423.1 316.1h0M475.4 302.0h0M484.3 312.9h0M484.0 296.5h0M454.7 310.1h0M385.8 328.1h0M492.1 299.1h0M474.6 298.1h0M395.5 330.9h0M428.6 322.1h0M472.4 306.9h0M400.2 321.8h0M418.0 314.8h0M401.1 324.3h0M415.9 318.8h0M495.6 287.3h0M470.1 296.7h0M393.7 330.4h0M406.8 325.0h0M497.1 290.4h0M403.4 321.2h0M484.6 299.6h0M407.1 324.4h0M385.2 327.8h0M418.8 321.6h0M465.7 306.3h0M386.9 331.7h0M460.4 304.2h0M393.9 329.0h0M413.5 313.4h0M478.1 293.8h0M388.2 331.8h0M474.2 295.5h0M491.7 289.9h0M415.0 316.5h0M409.3 321.5h0M416.8 316.2h0M406.3 324.5h0M405.3 327.2h0M454.0 314.0h0M393.3 331.1h0M482.6 311.5h0M482.7 306.6h0M493.5 313.7h0M467.7 310.5h0M385.9 336.3h0M479.8 298.9h0M386.7 328.7h0M424.4 316.8h0M390.6 330.3h0M452.7 305.2h0M481.6 307.9h0M497.5 318.1h0M388.0 331.7h0M488.1 310.3h0M412.9 317.0h0M486.8 294.6h0M478.9 300.8h0M433.2 316.2h0M391.6 329.7h0M479.6 308.1h0M493.6 298.8h0M381.5 334.5h0M469.8 298.8h0M490.7 307.5h0M488.5 287.3h0M495.6 306.1h0M470.0 305.0h0M427.1 317.9h0M411.0 317.7h0M387.6 325.6h0M494.4 299.1h0M461.6 303.4h0M466.5 317.0h0M392.5 330.7h0M417.9 315.8h0M473.9 305.7h0M389.5 330.0h0M473.3 306.8h0M413.1 317.7h0M408.6 322.6h0M414.7 321.8h0M385.0 334.6h0M396.2 323.8h0M425.3 311.1h0M390.8 329.8h0M477.1 292.8h0M485.0 309.2h0M393.3 328.3h0M414.5 325.8h0M385.7 329.5h0M480.8 293.8h0M397.2 323.2h0M467.8 299.7h0M394.4 332.9h0M394.7 322.7h0M385.1 334.8h0M469.7 314.0h0M405.0 322.0h0M401.0 325.6h0M393.8 320.9h0M473.6 314.2h0M469.0 306.1h0M384.5 331.8h0M396.9 321.9h0M384.1 332.1h0M404.4 322.2h0M426.5 316.9h0M478.8 309.4h0M491.8 301.7h0M465.1 307.8h0M470.1 292.6h0M486.6 295.3h0M480.8 290.8h0M471.0 302.6h0M413.2 311.1h0M383.5 330.5h0M412.4 321.1h0M484.0 302.9h0M402.7 323.5h0M471.9 304.8h0M388.1 328.0h0M436.8 311.0h0M498.4 305.2h0M406.8 317.5h0M405.3 324.5h0M486.5 298.5h0M438.0 314.4h0M403.0 320.8h0M449.6 307.7h0M469.8 299.5h0M384.3 328.6h0M471.1 305.3h0M417.2 321.8h0M414.9 324.5h0M399.1 324.7h0M382.3 333.4h0M494.2 302.1h0M410.3 319.9h0M385.0 336.0h0M395.2 326.1h0M411.7 324.7h0M420.0 317.3h0M416.8 316.1h0M417.2 320.5h0M411.2 321.2h0M498.4 302.6h0" stroke="#ff33ff" stroke-opacity="0.60" stroke-width="1.35" stroke-linecap="square" fill="none"/>
<path d="M403.7 328.4h0M400.2 321.1h0M412.7 324.7h0M415.4 314.5h0M414.4 319.5h0M415.9 320.9h0M469.0 310.3h0M461.5 305.1h0M461.2 306.3h0M411.7 329.4h0M413.7 312.2h0M400.7 327.9h0M390.0 332.3h0M388.1 329.8h0M467.7 295.9h0M433.6 322.6h0M420.2 319.4h0M414.4 316.9h0M477.3 296.5h0M383.6 329.9h0M482.7 296.5h0M389.6 333.2h0M399.5 324.1h0M419.8 310.2h0M382.2 332.9h0M415.8 322.2h0M412.6 320.8h0M481.3 313.1h0M476.4 312.5h0M415.7 325.4h0M487.1 299.6h0M386.6 333.9h0M464.2 299.9h0M422.6 321.4h0M387.9 331.9h0M483.3 290.8h0M438.6 319.1h0M406.8 320.8h0M484.3 311.3h0M384.6 331.1h0M428.7 311.4h0M393.2 328.7h0M398.4 323.4h0M381.4 334.7h0M421.8 316.1h0M391.3 328.7h0M392.7 326.5h0M398.4 324.5h0M414.1 321.3h0M382.7 327.1h0M390.7 327.3h0M390.7 327.6h0M417.5 320.6h0M393.9 323.7h0M412.5 323.0h0M390.0 335.9h0M459.5 306.8h0M404.0 324.2h0M384.0 328.0h0M383.1 328.7h0M391.0 327.8h0M391.3 331.2h0M466.9 310.6h0M405.1 320.8h0M447.3 309.6h0M386.7 328.4h0M413.8 317.1h0M442.9 317.2h0M439.8 315.7h0M446.5 309.4h0M479.3 300.2h0M456.0 301.6h0M392.8 323.7h0M437.6 315.4h0M385.8 334.5h0M399.1 325.6h0M480.5 293.9h0M484.9 298.7h0M456.9 306.4h0M396.8 326.5h0M474.7 295.7h0M397.3 323.8h0M418.6 317.0h0M409.4 322.6h0M413.2 319.3h0M472.3 297.7h0M406.7 321.2h0M413.1 317.7h0M485.9 313.3h0M381.5 330.5h0M384.9 332.2h0M403.5 326.1h0M403.8 319.6h0M480.1 297.2h0M470.2 298.7h0M389.7 330.9h0M455.4 303.1h0M479.3 302.3h0M451.2 303.4h0M402.9 322.8h0M393.0 330.3h0M492.7 289.6h0M411.6 318.8h0M438.1 303.0h0M382.7 330.4h0M414.5 322.0h0M388.6 328.5h0M482.2 297.9h0M454.6 302.4h0M477.5 292.8h0M486.6 287.5h0M483.5 315.1h0M440.3 307.3h0M386.4 328.8h0M391.1 329.9h0M400.5 320.5h0M408.4 325.9h0M425.0 314.6h0M485.6 305.2h0M491.6 294.1h0M455.7 312.8h0M419.7 309.6h0M409.1 319.4h0M471.6 300.4h0M410.8 316.5h0M492.7 293.7h0M394.3 327.9h0M405.8 322.4h0M468.1 295.1h0M492.7 326.3h0M479.4 304.6h0M497.9 292.5h0M439.1 306.7h0M399.2 327.2h0M458.4 315.9h0M462.1 308.9h0M420.0 321.3h0M485.7 295.9h0M408.8 321.3h0M491.3 296.9h0" stroke="#ff33ff" stroke-opacity="0.90" stroke-width="1.35" stroke-linecap="square" fill="none"/>
<path d="M399.5 327.3h0M472.7 284.1h0M477.3 300.3h0M419.8 315.8h0M474.6 283.1h0M387.3 332.5h0M423.2 319.8h0M497.0 259.6h0M407.7 313.1h0M486.8 256.3h0M392.4 319.3h0M416.2 330.0h0M469.7 290.4h0M491.3 267.7h0M384.5 328.3h0M486.4 305.1h0M486.1 268.9h0M414.2 324.4h0M493.2 285.6h0M480.8 273.8h0M414.8 323.5h0M475.9 304.3h0M490.4 276.7h0M490.7 286.3h0M388.7 319.8h0M402.6 323.9h0M399.8 318.8h0M496.2 277.2h0M409.7 308.4h0M473.5 285.8h0M399.6 321.3h0M497.0 302.4h0M418.2 318.1h0M421.4 320.7h0M395.0 321.7h0M487.2 279.0h0M391.4 332.8h0M383.6 331.3h0M404.4 316.3h0M387.9 324.7h0M446.9 298.5h0M468.2 285.1h0M431.3 306.6h0M403.1 321.0h0M429.1 307.1h0M474.0 279.7h0M415.1 317.8h0M391.0 332.5h0M412.6 320.0h0M382.6 332.7h0M422.2 314.2h0M426.0 316.8h0M441.1 314.5h0M401.7 327.6h0M410.7 320.8h0M472.0 306.6h0M478.0 292.0h0M474.3 277.7h0M410.9 312.4h0M393.8 326.0h0M403.2 321.8h0M475.5 279.6h0M399.0 323.5h0M457.5 292.9h0M479.0 263.2h0M441.7 304.8h0M395.0 329.8h0M403.3 319.7h0M389.3 331.4h0M483.5 286.6h0M390.8 328.4h0M410.1 309.7h0M419.8 310.8h0M408.1 321.2h0M421.1 316.8h0M395.4 331.4h0M467.0 298.4h0M477.3 291.8h0M397.5 319.9h0M419.4 307.8h0M399.8 321.6h0M390.1 316.3h0M495.9 296.1h0M381.5 332.1h0M478.2 293.8h0M384.9 328.9h0M399.1 324.8h0M417.6 312.9h0M464.9 289.3h0M411.2 325.4h0M448.9 312.8h0M408.6 324.4h0M401.4 319.5h0M487.2 279.6h0M413.7 319.5h0M486.4 303.6h0M413.6 314.0h0M393.2 325.5h0M468.3 287.6h0M438.0 302.6h0M402.8 321.4h0M433.1 301.8h0M412.1 319.2h0M497.7 290.4h0M448.1 296.3h0M399.2 322.3h0M396.4 325.2h0M400.7 319.9h0M481.4 282.1h0M491.9 287.6h0M484.5 272.2h0M468.7 305.8h0M397.6 330.8h0M416.2 314.0h0M398.9 323.5h0M481.4 288.9h0M384.2 332.8h0M414.5 301.5h0M408.7 318.9h0M479.9 299.3h0M395.5 329.3h0M487.0 273.7h0M467.2 310.4h0M386.9 329.3h0M478.8 293.5h0M470.4 291.5h0M404.0 319.8h0M410.0 322.1h0M412.0 310.5h0M391.7 336.3h0M396.8 320.7h0M413.5 327.9h0M398.4 313.8h0M421.1 306.5h0M416.1 319.4h0M395.4 328.7h0M383.4 334.3h0M414.4 311.7h0M401.1 321.5h0M493.3 274.5h0M401.3 323.9h0M467.1 288.9h0M410.7 320.3h0M399.8 322.6h0M489.7 280.0h0M487.3 294.1h0M408.7 317.6h0M396.0 325.8h0M494.4 270.0h0M394.5 331.6h0M488.7 310.2h0M391.9 320.2h0M479.8 299.2h0M383.3 331.6h0M477.6 292.1h0M421.5 320.0h0M405.5 322.8h0M474.3 288.7h0M472.6 309.2h0M399.9 314.6h0M489.1 284.8h0M419.2 312.4h0M496.1 297.6h0M451.0 298.0h0M403.8 317.8h0M481.8 262.5h0M430.6 309.7h0M388.9 333.1h0M400.1 321.9h0M400.7 323.6h0M389.1 326.6h0M410.1 309.8h0M396.5 323.2h0M498.3 281.6h0M482.8 258.6h0M487.0 274.6h0M403.6 323.1h0M405.3 325.8h0M393.1 322.4h0M475.3 271.3h0M476.5 277.8h0M416.9 315.0h0M495.3 281.3h0M406.6 326.4h0M426.4 310.7h0M483.5 301.5h0M474.4 305.8h0M392.3 328.5h0M471.0 285.6h0M393.2 327.2h0M395.0 323.2h0M394.8 323.6h0M456.5 303.5h0M454.4 293.5h0M382.1 332.6h0M492.9 271.0h0M406.0 323.0h0M456.7 300.4h0M432.0 327.9h0M385.1 331.9h0M416.5 314.2h0M475.1 292.9h0M392.0 326.5h0M449.3 299.4h0M489.9 304.0h0M407.2 315.8h0M418.9 316.2h0M404.5 322.3h0M398.9 314.2h0M482.4 280.8h0M392.2 327.9h0M412.2 313.4h0M381.7 334.9h0M396.4 317.3h0M468.7 282.7h0M492.3 270.1h0M410.4 319.8h0M414.6 323.8h0M421.6 321.3h0M492.3 276.2h0M409.9 317.9h0M462.2 282.4h0M413.6 324.6h0M407.8 325.6h0M392.5 323.7h0M476.2 287.6h0M395.1 323.5h0M387.8 330.8h0M494.5 270.3h0M402.0 321.4h0M402.6 325.7h0M409.1 316.2h0M444.7 311.1h0M403.1 327.1h0M465.7 289.9h0M392.9 331.4h0M383.7 335.9h0M471.6 278.9h0M385.9 333.3h0M477.6 294.0h0M387.8 327.6h0M403.0 318.6h0M463.5 295.0h0" stroke="#2a2aff" stroke-opacity="0.35" stroke-width="1.35" stroke-linecap="square" fill="none"/>
<path d="M480.8 289.5h0M408.7 327.7h0M496.4 280.4h0M450.3 299.1h0M479.9 284.6h0M496.5 257.6h0M470.8 276.7h0M390.8 329.5h0M391.6 330.4h0M446.5 297.0h0M439.5 312.0h0M478.0 284.4h0M398.0 327.5h0M487.9 316.0h0M391.5 323.3h0M477.3 269.3h0M395.4 328.1h0M404.9 327.1h0M494.7 301.9h0M398.1 328.3h0M472.5 289.7h0M419.1 314.3h0M405.6 321.2h0M388.7 332.2h0M495.4 294.4h0M399.1 322.5h0M493.5 309.5h0M406.4 319.6h0M451.6 317.9h0M389.7 335.8h0M433.2 319.8h0M417.9 316.3h0M482.5 310.4h0M486.0 288.5h0M432.0 317.2h0M403.1 317.7h0M391.7 325.5h0M399.9 316.7h0M399.1 326.1h0M473.2 263.0h0M470.8 312.3h0M477.1 301.9h0M493.0 272.0h0M416.1 318.4h0M410.5 315.2h0M411.1 311.8h0M497.4 269.8h0M496.3 292.6h0M434.6 301.9h0M405.0 317.8h0M484.5 299.8h0M429.6 310.5h0M417.4 308.2h0M407.6 323.3h0M467.7 281.0h0M479.2 300.8h0M418.4 315.8h0M469.3 295.7h0M418.2 326.5h0M497.7 273.1h0M488.6 291.0h0M452.0 298.0h0M413.5 318.5h0M390.2 327.6h0M384.4 323.0h0M420.4 313.2h0M495.1 289.8h0M419.6 317.4h0M393.6 328.3h0M498.1 276.0h0M469.0 291.4h0M429.7 311.8h0M406.7 320.2h0M492.3 300.3h0M483.2 284.2h0M391.6 325.1h0M437.6 322.4h0M421.1 315.8h0M408.3 326.4h0M392.0 330.8h0M393.6 324.0h0M393.5 323.6h0M495.7 295.8h0M413.3 326.8h0M484.1 268.3h0M433.9 310.5h0M384.5 328.9h0M488.4 288.1h0M390.3 326.7h0M490.1 275.7h0M385.6 331.5h0M393.6 328.9h0M419.9 314.1h0M395.5 325.1h0M423.7 319.6h0M478.6 262.8h0M381.4 330.8h0M411.8 321.0h0M395.0 330.4h0M417.5 324.0h0M397.9 325.4h0M394.5 328.0h0M433.9 315.0h0M420.1 326.3h0M409.0 323.4h0M482.4 308.8h0M435.5 317.5h0M402.0 319.2h0M453.4 301.2h0M405.1 318.3h0M475.0 276.4h0M401.2 320.4h0M415.5 315.0h0M395.0 325.5h0M422.7 304.8h0M477.9 264.8h0M467.9 278.8h0M494.2 293.8h0M393.9 319.0h0M404.3 324.1h0M417.4 321.4h0M478.3 281.7h0M477.5 284.6h0M423.9 317.2h0M389.8 329.3h0M398.6 330.3h0M410.0 313.6h0M472.8 282.8h0M494.6 272.9h0M448.8 300.8h0M468.1 290.7h0M383.2 323.2h0M395.7 322.4h0M461.3 281.9h0M397.7 318.7h0M398.6 327.2h0M415.8 322.5h0M398.3 325.8h0M415.6 315.8h0M397.9 318.3h0M395.3 322.7h0M391.0 329.1h0M392.0 330.2h0M397.4 318.0h0M383.5 329.9h0M495.3 282.5h0M431.9 315.9h0M381.3 328.3h0M407.3 317.4h0M393.0 322.0h0M397.6 324.4h0M479.0 271.9h0M404.7 320.8h0M439.0 299.6h0M420.5 324.0h0M410.9 307.4h0M454.9 300.4h0M416.3 315.1h0M437.1 302.8h0M414.7 307.5h0M425.9 309.4h0M410.4 328.1h0M395.7 328.3h0M407.3 330.1h0M385.8 335.6h0M485.2 296.7h0M391.4 328.8h0M406.4 326.1h0M404.6 316.8h0M478.6 270.2h0M489.9 261.0h0M419.4 322.6h0M489.5 288.9h0M495.2 279.8h0M390.4 328.4h0M466.4 299.4h0M397.5 323.3h0M398.1 325.6h0M473.8 289.1h0M434.2 306.3h0M487.4 290.6h0M394.2 322.3h0M384.7 323.1h0M417.4 330.4h0M455.5 300.6h0M384.4 329.5h0M382.2 332.5h0M403.9 318.1h0M475.1 281.5h0M418.4 310.4h0M439.2 319.0h0M407.9 316.5h0M393.8 322.4h0M396.7 323.3h0M382.8 329.7h0M443.1 300.2h0M411.9 320.0h0M389.9 329.6h0M495.8 297.9h0M467.5 292.9h0M387.7 332.9h0M417.5 318.3h0M415.0 304.7h0M469.2 290.8h0M492.4 288.0h0M408.4 316.8h0M487.9 279.0h0M477.0 290.0h0M394.3 321.9h0M400.5 326.0h0M471.0 298.0h0M416.4 319.8h0M420.5 311.7h0M401.1 327.4h0M453.5 299.6h0M491.7 277.5h0M403.5 323.4h0M398.7 322.8h0M393.3 324.3h0M423.1 315.7h0M394.4 325.3h0M431.3 322.6h0M405.8 319.6h0M411.1 318.5h0M387.1 332.3h0M381.3 335.4h0M402.4 325.6h0M488.8 275.9h0M486.0 298.3h0M396.4 333.2h0M390.7 327.4h0" stroke="#2a2aff" stroke-opacity="0.60" stroke-width="1.35" stroke-linecap="square" fill="none"/>
<path d="M412.0 320.9h0M467.3 299.2h0M479.3 298.4h0M382.4 331.3h0M494.5 283.1h0M407.0 324.1h0M411.3 319.1h0M442.7 303.2h0M398.1 324.3h0M397.0 324.2h0M491.1 285.5h0M497.2 301.7h0M412.5 307.4h0M485.0 295.3h0M455.1 319.9h0M435.7 302.5h0M444.3 307.1h0M383.5 330.8h0M467.2 280.7h0M420.6 323.0h0M410.2 318.6h0M421.7 318.5h0M472.9 290.5h0M392.6 329.9h0M466.5 300.0h0M389.1 328.4h0M408.1 323.0h0M396.6 324.2h0M478.2 303.5h0M382.1 332.8h0M400.5 324.9h0M423.1 307.9h0M478.1 272.8h0M405.0 323.6h0M398.5 324.4h0M403.5 319.3h0M495.0 296.7h0M409.4 313.2h0M419.3 321.9h0M418.4 317.7h0M477.2 310.6h0M489.1 290.3h0M490.6 285.8h0M410.6 316.9h0M412.8 314.2h0M480.2 304.3h0M411.4 321.9h0M495.7 252.1h0M458.5 297.1h0M402.3 314.2h0M391.5 321.9h0M387.0 331.9h0M454.3 320.8h0M490.7 271.6h0M482.3 274.2h0M400.1 320.6h0M422.2 313.0h0M418.9 306.8h0M483.3 292.1h0M474.2 273.3h0M385.6 335.0h0M398.6 325.9h0M385.2 332.8h0M468.0 270.6h0M441.3 310.0h0M430.9 311.4h0M391.0 331.1h0M397.2 327.7h0M474.7 299.7h0M381.9 336.6h0M405.7 320.5h0M388.4 327.5h0M394.4 323.6h0M458.1 303.5h0M381.3 335.1h0M469.8 289.1h0M486.6 287.6h0M498.1 295.6h0M411.9 310.8h0M399.6 323.1h0M479.5 294.4h0M392.2 327.4h0M390.1 320.7h0M390.5 328.9h0M387.7 326.1h0M411.5 323.6h0M401.7 323.3h0M382.2 333.1h0M414.3 325.8h0M461.2 298.2h0M404.4 318.2h0M391.8 329.7h0M492.2 281.0h0M385.5 329.5h0M408.2 317.3h0M409.3 314.7h0M496.7 284.7h0M493.9 269.5h0M490.7 279.0h0M405.6 317.0h0M400.2 324.0h0M493.2 305.5h0M457.3 308.7h0M494.8 285.6h0M398.3 321.7h0M383.0 333.6h0M426.7 306.1h0M385.3 329.6h0M496.7 284.5h0M386.7 331.2h0M400.0 326.6h0M477.3 296.9h0M400.1 320.7h0M442.9 307.1h0M436.0 298.7h0M406.7 326.2h0M413.4 321.1h0M384.2 335.0h0M410.8 315.8h0M481.4 284.0h0M479.0 289.3h0M478.0 304.2h0M382.3 331.0h0M472.0 300.0h0M468.9 278.8h0M442.7 293.6h0M396.4 323.5h0M417.7 319.3h0M397.0 321.6h0M472.5 300.8h0M400.9 324.9h0M468.6 263.0h0M416.0 322.8h0M408.5 310.3h0M411.0 316.2h0M461.2 295.3h0M397.6 316.2h0M395.3 329.8h0M417.8 314.7h0M382.9 330.4h0M381.2 331.6h0M397.5 330.3h0M386.2 330.1h0M432.7 313.0h0M410.7 326.8h0M494.4 295.9h0M454.0 309.7h0M406.8 306.2h0M420.4 316.7h0M453.8 303.8h0M383.3 333.0h0M382.6 332.6h0M498.3 294.2h0M398.6 325.6h0M467.3 307.2h0M413.9 312.7h0M468.1 272.7h0M488.6 321.0h0M465.4 292.2h0M409.7 330.6h0M392.2 325.5h0M415.8 316.4h0M385.4 329.9h0M407.9 317.8h0M397.2 327.1h0M382.6 334.8h0M388.4 319.3h0M492.2 275.6h0M405.9 319.3h0M496.9 279.8h0M470.6 287.2h0M468.7 279.2h0M474.0 294.0h0M390.9 324.6h0M387.3 334.5h0M397.2 321.0h0M394.9 324.5h0M469.7 277.8h0M426.8 311.7h0M486.3 283.7h0M397.5 323.9h0M421.3 308.2h0M408.3 315.9h0M384.7 327.5h0" stroke="#2a2aff" stroke-opacity="0.90" stroke-width="1.35" stroke-linecap="square" fill="none"/>
<path d="M381.6,332.1 382.6,331.8 383.6,331.4 384.6,331.0 385.6,330.6 386.6,330.2 387.6,329.8 388.6,329.4 389.6,329.0 390.6,328.6 391.6,328.2 392.6,327.8 393.6,327.4 394.6,327.0 395.6,326.7 396.6,326.3 397.6,325.9 398.6,325.5 399.6,325.1 400.6,324.7 401.6,324.4 402.6,324.0 403.6,323.6 404.6,323.2 405.6,322.8 406.6,322.5 407.6,322.1 408.6,321.7 409.6,321.4 410.6,321.0 411.6,320.6 412.6,320.2 413.6,319.9 414.6,319.5 415.6,319.2 416.6,318.8 417.6,318.4 418.6,318.1 419.6,317.7 420.6,317.4 421.6,317.0 422.6,316.7 423.6,316.3 424.6,316.0 425.6,315.6 426.6,315.3 427.6,314.9 428.6,314.6 429.6,314.2 430.6,313.9 431.6,313.6 432.6,313.2 433.6,312.9 434.6,312.6 435.6,312.2 436.6,311.9 437.6,311.6 438.6,311.3 439.6,311.0 440.6,310.6 441.6,310.3 442.6,310.0 443.6,309.7 444.6,309.4 445.6,309.1 446.6,308.8 447.6,308.5 448.6,308.2 449.6,307.9 450.6,307.6 451.6,307.3 452.6,307.0 453.6,306.7 454.6,306.4 455.6,306.1 456.6,305.8 457.6,305.6 458.6,305.3 459.6,305.0 460.6,304.7 461.6,304.5 462.6,304.2 463.6,304.0 464.6,303.7 465.6,303.4 466.6,303.2 467.6,302.9 468.6,302.7 469.6,302.5 470.6,302.2 471.6,302.0 472.6,301.8 473.6,301.5 474.6,301.3 475.6,301.1 476.6,300.9 477.6,300.7 478.6,300.5 479.6,300.3 480.6,300.1 481.6,299.9 482.6,299.7 483.6,299.5 484.6,299.3 485.6,299.2 486.6,299.0 487.6,298.8 488.6,298.7 489.6,298.5 490.6,298.4 491.6,298.2 492.6,298.1 493.6,298.0 494.6,297.8 495.6,297.7 496.6,297.6 497.6,297.5" stroke="#ff22ff" stroke-width="1.25" fill="none" stroke-linecap="round" stroke-linejoin="round"/>
<path d="M381.3,332.5 382.3,331.9 383.3,331.3 384.3,330.7 385.3,330.1 386.3,329.6 387.3,329.0 388.3,328.4 389.3,327.9 390.3,327.4 391.3,326.9 392.3,326.4 393.3,325.9 394.3,325.4 395.3,324.9 396.3,324.5 397.3,324.0 398.3,323.5 399.3,323.1 400.3,322.7 401.3,322.2 402.3,321.8 403.3,321.4 404.3,321.0 405.3,320.6 406.3,320.2 407.3,319.8 408.3,319.5 409.3,319.1 410.3,318.7 411.3,318.3 412.3,318.0 413.3,317.6 414.3,317.3 415.3,316.9 416.3,316.6 417.3,316.2 418.3,315.9 419.3,315.6 420.3,315.2 421.3,314.9 422.3,314.5 423.3,314.2 424.3,313.8 425.3,313.5 426.3,313.1 427.3,312.8 428.3,312.4 429.3,312.0 430.3,311.6 431.3,311.2 432.3,310.8 433.3,310.4 434.3,310.0 435.3,309.6 436.3,309.1 437.3,308.7 438.3,308.2 439.3,307.7 440.3,307.3 441.3,306.8 442.3,306.3 443.3,305.7 444.3,305.2 445.3,304.7 446.3,304.1 447.3,303.6 448.3,303.0 449.3,302.4 450.3,301.9 451.3,301.3 452.3,300.7 453.3,300.2 454.3,299.6 455.3,299.0 456.3,298.4 457.3,297.8 458.3,297.3 459.3,296.7 460.3,296.1 461.3,295.5 462.3,295.0 463.3,294.4 464.3,293.9 465.3,293.3 466.3,292.8 467.3,292.3 468.3,291.7 469.3,291.2 470.3,290.7 471.3,290.2 472.3,289.8 473.3,289.3 474.3,288.9 475.3,288.4 476.3,288.0 477.3,287.6 478.3,287.2 479.3,286.8 480.3,286.5 481.3,286.2 482.3,285.9 483.3,285.6 484.3,285.3 485.3,285.1 486.3,284.8 487.3,284.6 488.3,284.5 489.3,284.3 490.3,284.2 491.3,284.1 492.3,284.0 493.3,284.0 494.3,284.0 495.3,284.0 496.3,284.1 497.3,284.1" stroke="#1414ff" stroke-width="1.45" fill="none" stroke-linecap="round" stroke-linejoin="round"/>
<path d="M379.30,251.20V337.50M376.10,337.50H379.30M376.10,320.24H379.30M376.10,302.98H379.30M376.10,285.72H379.30M376.10,268.46H379.30M376.10,251.20H379.30M379.30,337.50V340.80" stroke="#232323" stroke-width="1.25" fill="none"/>
<path d="M379.30,337.50H505.30M391.85,337.50V340.80M404.40,337.50V340.80M416.95,337.50V340.80M429.50,337.50V340.80M442.05,337.50V340.80M454.60,337.50V340.80M467.15,337.50V340.80M479.70,337.50V340.80M492.25,337.50V340.80M504.80,337.50V340.80" stroke="#2a2a2a" stroke-width="1.4" fill="none"/>
<text transform="translate(374.30,340.40) scale(0.83,1)" text-anchor="end" class="tk">0</text>
<text transform="translate(374.30,323.14) scale(0.83,1)" text-anchor="end" class="tk">10</text>
<text transform="translate(374.30,305.88) scale(0.83,1)" text-anchor="end" class="tk">20</text>
<text transform="translate(374.30,288.62) scale(0.83,1)" text-anchor="end" class="tk">30</text>
<text transform="translate(374.30,271.36) scale(0.83,1)" text-anchor="end" class="tk">40</text>
<text transform="translate(374.30,254.10) scale(0.83,1)" text-anchor="end" class="tk">50</text>
<text transform="translate(360.20,294.30) rotate(-90)" text-anchor="middle" textLength="43.40" lengthAdjust="spacingAndGlyphs" class="yl">IPVV<tspan style="font-size:5.9px" dy="1.8">LUL</tspan><tspan dy="-1.8">(mL)</tspan></text>
<text x="341.00" y="245.10" class="lt">g</text>
<path d="M565.96,337V251.40M578.52,337V251.40M591.08,337V251.40M603.64,337V251.40M616.20,337V251.40M628.76,337V251.40M641.32,337V251.40M653.88,337V251.40M666.44,337V251.40M679.00,337V251.40" stroke="#f0f0f0" stroke-width="0.9" fill="none"/>
<path d="M565.96,337V251.40M578.52,337V251.40M591.08,337V251.40M603.64,337V251.40M616.20,337V251.40M628.76,337V251.40M641.32,337V251.40M653.88,337V251.40M666.44,337V251.40M679.00,337V251.40" stroke="#bababa" stroke-width="0.9" stroke-dasharray="1,1" fill="none"/>
<path d="M553,315.50H679.00M553,294.50H679.00M553,272.50H679.00M553,251.50H679.00" stroke="#bababa" stroke-width="1" stroke-dasharray="1.2,0.8" fill="none"/>
<path d="M630.3 309.4h0M584.3 320.1h0M627.0 310.8h0M601.1 325.0h0M655.3 319.5h0M649.5 303.7h0M578.4 329.6h0M561.7 335.7h0M567.7 328.7h0M608.5 326.0h0M596.9 321.2h0M666.6 313.4h0M587.1 321.9h0M634.1 313.4h0M578.8 327.0h0M587.9 322.8h0M647.6 313.2h0M591.6 330.9h0M581.2 329.2h0M562.8 334.4h0M671.9 313.6h0M671.8 300.4h0M565.0 333.8h0M588.1 326.3h0M668.8 299.7h0M662.0 298.2h0M597.8 324.6h0M560.5 335.5h0M569.9 333.3h0M575.2 331.5h0M574.2 331.7h0M577.5 328.3h0M564.8 334.5h0M628.1 315.2h0M574.5 332.4h0M628.9 307.8h0M612.8 313.6h0M569.6 330.2h0M652.2 292.8h0M615.8 313.1h0M596.8 321.2h0M668.2 317.7h0M650.5 298.0h0M641.0 298.0h0M595.3 319.4h0M583.7 325.9h0M646.5 308.6h0M570.6 330.8h0M630.5 314.8h0M572.3 331.9h0M572.8 333.1h0M557.5 335.8h0M645.1 307.6h0M578.0 327.7h0M590.1 329.6h0M634.2 317.0h0M576.8 327.5h0M581.5 326.9h0M644.8 316.4h0M649.8 295.3h0M568.0 330.7h0M671.7 314.0h0M568.0 330.5h0M557.4 334.7h0M633.0 318.1h0M615.1 313.4h0M644.5 302.8h0M667.1 313.3h0M592.0 320.9h0M579.0 327.4h0M585.8 328.0h0M560.6 332.4h0M577.5 330.1h0M580.5 330.8h0M659.7 299.8h0M618.1 322.7h0M567.6 333.5h0M579.2 326.0h0M593.0 321.7h0M651.7 304.0h0M612.5 317.1h0M580.0 326.4h0M600.9 320.7h0M566.4 333.6h0M656.6 302.8h0M586.5 328.7h0M574.7 336.2h0M564.5 330.8h0M568.2 331.7h0M567.0 334.9h0M645.8 300.7h0M578.8 330.5h0M659.1 296.6h0M586.0 321.7h0M555.7 332.8h0M558.4 333.9h0M573.0 334.7h0M566.9 332.8h0M571.2 330.3h0M569.9 330.7h0M573.3 332.5h0M626.5 311.7h0M630.4 314.5h0M585.0 325.9h0M563.7 335.0h0M667.7 301.5h0M668.0 310.2h0M651.8 305.4h0M626.6 309.7h0M574.9 329.6h0M573.3 332.3h0M671.0 305.3h0M580.8 320.6h0M636.6 314.0h0M563.0 332.9h0M658.6 306.8h0M650.0 307.2h0M668.1 306.7h0M556.6 336.1h0M579.4 328.8h0M646.5 311.2h0M672.1 302.4h0M568.3 332.1h0M558.2 334.8h0M613.5 319.6h0M595.7 323.8h0M654.2 309.6h0M564.9 330.1h0M622.9 306.5h0M671.6 313.5h0M627.8 313.4h0M624.2 320.3h0M672.6 319.2h0M644.3 317.5h0M645.0 308.4h0M570.2 331.8h0M569.8 332.3h0M642.9 303.0h0M636.8 314.6h0M556.3 335.4h0M579.7 327.6h0M576.8 331.4h0M655.3 298.6h0M573.8 332.3h0M592.0 323.0h0M581.3 334.7h0M565.7 333.8h0M578.7 327.7h0M563.0 333.6h0M569.3 335.9h0M586.1 329.1h0M596.5 323.3h0M556.8 336.5h0M563.3 331.4h0M586.5 326.9h0M643.9 318.8h0M589.0 328.3h0M670.2 310.2h0M555.8 336.0h0M583.9 330.7h0M558.2 333.8h0M670.5 303.9h0M665.5 304.4h0M587.8 326.0h0M591.1 321.2h0M628.7 305.2h0M632.4 320.7h0M644.6 307.6h0M617.7 323.6h0M595.7 323.8h0M582.1 323.8h0M571.7 332.1h0M589.4 327.5h0M583.4 325.7h0M609.5 319.9h0M596.3 326.6h0M641.6 296.2h0M569.3 334.9h0M595.4 324.8h0M568.0 334.1h0M580.0 326.7h0M672.2 310.4h0M589.4 328.9h0M571.1 331.3h0" stroke="#ff33ff" stroke-opacity="0.35" stroke-width="1.35" stroke-linecap="square" fill="none"/>
<path d="M647.4 300.0h0M667.4 300.5h0M664.4 282.9h0M607.1 321.2h0M555.7 332.3h0M567.4 333.1h0M633.0 300.0h0M659.2 306.7h0M565.1 334.5h0M578.7 330.8h0M597.1 327.4h0M579.8 327.1h0M646.6 310.6h0M569.6 333.9h0M576.3 327.9h0M591.3 326.2h0M597.0 329.2h0M567.3 336.3h0M588.4 329.2h0M589.1 321.0h0M646.9 298.9h0M558.1 334.1h0M657.8 306.7h0M668.6 323.0h0M559.4 327.7h0M562.9 334.8h0M648.3 311.3h0M664.3 307.4h0M583.6 329.3h0M566.4 329.1h0M591.4 326.5h0M570.7 332.5h0M655.3 300.9h0M610.5 319.4h0M596.3 319.3h0M617.0 315.3h0M583.6 330.5h0M659.7 306.1h0M555.3 335.0h0M569.6 329.8h0M564.7 330.9h0M585.1 322.8h0M591.4 324.2h0M647.5 308.6h0M594.8 325.1h0M672.3 299.5h0M568.7 330.1h0M639.8 310.2h0M570.5 326.9h0M609.3 315.8h0M654.8 307.4h0M584.0 324.1h0M584.8 325.4h0M564.0 333.4h0M661.4 313.2h0M588.3 321.4h0M670.0 295.4h0M668.4 299.6h0M651.2 296.8h0M564.7 331.2h0M669.7 312.3h0M624.6 315.3h0M576.9 328.9h0M573.5 330.3h0M616.3 311.1h0M612.2 320.6h0M586.6 324.2h0M558.8 334.6h0M595.5 324.4h0M657.2 307.3h0M600.0 317.4h0M565.3 333.0h0M560.2 336.0h0M659.0 301.0h0M657.0 319.8h0M636.0 306.0h0M579.1 325.1h0M582.1 329.4h0M672.7 295.0h0M649.9 302.6h0M655.3 302.3h0M644.8 299.2h0M621.0 310.8h0M572.6 330.2h0M583.2 316.5h0M586.7 325.3h0M588.4 325.3h0M654.6 318.3h0M580.0 333.0h0M647.2 303.3h0M653.9 297.3h0M667.4 316.4h0M631.1 313.3h0M653.8 311.1h0M596.1 323.5h0M555.9 336.4h0M622.2 313.8h0M590.1 323.9h0M592.0 326.2h0M578.7 331.6h0M654.7 298.0h0M658.0 302.7h0M658.4 292.1h0M658.2 305.8h0M670.9 320.3h0M581.8 328.2h0M670.9 301.8h0M606.2 321.3h0M636.8 306.6h0M632.8 316.7h0M570.3 334.7h0M660.3 310.8h0M563.8 332.6h0M575.4 328.3h0M557.9 334.4h0M658.8 301.5h0M605.5 318.7h0M644.8 313.7h0M606.6 318.9h0M599.3 321.4h0M556.8 336.5h0M580.2 327.6h0M583.6 324.8h0M572.0 328.7h0M584.6 330.5h0M588.3 325.7h0M642.0 302.5h0M671.4 299.5h0M600.0 325.6h0M656.1 314.9h0M557.9 336.5h0M672.6 296.8h0M572.9 329.2h0M646.0 309.5h0M577.0 329.8h0M633.7 313.1h0M558.4 334.2h0M581.5 333.1h0M594.6 325.8h0M595.8 325.1h0M625.6 313.1h0M654.9 296.5h0M663.6 317.5h0M610.9 315.0h0M586.1 328.3h0M592.3 321.8h0M600.0 325.1h0M589.1 321.7h0M594.3 322.6h0M611.4 316.8h0M665.4 307.0h0M562.2 333.3h0M572.7 332.4h0M566.1 335.5h0M566.2 331.7h0M555.5 331.9h0M633.5 306.1h0M572.8 335.4h0M557.6 334.4h0M620.7 316.8h0M597.5 322.8h0M668.5 310.6h0M571.4 330.5h0M642.2 300.9h0M609.9 316.3h0M576.2 327.4h0M571.6 328.5h0M658.0 309.7h0M568.1 332.5h0M587.8 328.0h0M672.7 299.6h0M599.4 322.1h0M589.0 327.1h0M569.8 331.2h0M664.3 295.1h0M562.2 332.1h0M587.8 323.9h0M583.6 331.0h0" stroke="#ff33ff" stroke-opacity="0.60" stroke-width="1.35" stroke-linecap="square" fill="none"/>
<path d="M663.0 308.0h0M561.4 333.2h0M672.5 302.8h0M654.0 303.3h0M574.7 329.7h0M593.1 328.1h0M663.2 315.8h0M632.1 302.3h0M573.9 335.9h0M596.0 322.5h0M644.4 300.6h0M566.2 332.7h0M594.7 321.0h0M620.9 309.9h0M648.6 314.7h0M666.9 315.6h0M575.7 330.5h0M578.3 329.5h0M593.0 324.4h0M563.9 333.6h0M612.9 317.8h0M592.6 321.1h0M596.0 329.6h0M643.7 315.0h0M559.2 336.4h0M577.0 331.7h0M589.3 324.0h0M570.8 334.7h0M658.8 295.3h0M655.0 303.2h0M657.3 300.8h0M641.7 301.6h0M670.3 303.3h0M594.2 321.2h0M662.2 305.9h0M658.1 310.9h0M596.4 318.3h0M611.3 319.3h0M642.5 300.2h0M584.9 330.6h0M563.3 333.6h0M650.3 308.3h0M572.6 329.5h0M587.1 324.8h0M583.9 328.1h0M628.3 314.8h0M577.6 331.0h0M597.2 323.2h0M572.1 329.7h0M645.3 300.5h0M572.6 334.2h0M580.3 333.2h0M645.7 307.2h0M649.0 307.9h0M598.7 321.6h0M574.3 331.9h0M648.7 301.1h0M660.5 305.8h0M623.1 317.4h0M586.7 322.8h0M588.9 326.7h0M654.7 313.6h0M621.4 315.7h0M653.1 307.3h0M644.5 314.1h0M593.0 325.1h0M576.8 329.3h0M628.2 313.7h0M565.4 333.1h0M592.4 321.8h0M564.0 336.5h0M672.1 302.9h0M587.8 328.1h0M648.9 305.2h0M668.0 308.8h0M583.1 330.0h0M588.5 320.6h0M658.7 305.4h0M588.6 327.4h0M580.2 332.9h0M568.9 332.8h0M647.7 302.4h0M665.2 308.3h0M560.6 336.4h0M659.0 295.0h0M644.3 302.1h0M565.1 330.4h0M672.6 312.3h0M579.5 332.0h0M618.3 319.6h0M643.1 302.3h0M567.4 326.0h0M558.1 336.6h0M594.3 321.1h0M592.4 323.3h0M566.8 336.3h0M575.4 328.7h0M573.5 333.2h0M575.8 327.2h0M601.8 323.3h0M574.6 330.2h0M592.8 327.2h0M568.2 333.5h0M571.4 334.6h0M657.8 294.8h0M663.1 312.2h0M654.2 309.4h0M670.1 305.3h0M613.4 319.0h0M578.3 328.1h0M593.6 325.1h0M560.3 335.3h0M572.7 328.3h0M559.8 331.8h0M650.0 303.3h0M561.6 334.4h0M649.1 299.1h0M633.8 305.5h0M659.3 295.4h0M572.7 329.9h0M659.3 310.8h0M649.8 303.2h0M582.2 330.2h0M665.2 311.4h0M585.8 329.4h0M669.6 310.6h0M638.1 305.7h0M591.0 324.8h0M663.0 309.6h0M581.4 330.0h0M660.4 307.7h0M580.3 327.7h0M660.8 295.0h0M577.9 328.1h0M578.0 330.0h0M589.8 327.4h0M647.2 314.1h0M644.1 301.6h0" stroke="#ff33ff" stroke-opacity="0.90" stroke-width="1.35" stroke-linecap="square" fill="none"/>
<path d="M573.4 331.4h0M577.5 330.5h0M582.9 330.3h0M575.3 326.4h0M580.4 331.0h0M649.3 295.8h0M590.5 324.6h0M671.8 288.0h0M672.7 294.2h0M625.5 306.3h0M630.0 294.8h0M657.1 297.2h0M668.3 297.6h0M583.0 328.8h0M650.9 295.5h0M659.6 299.3h0M650.0 299.6h0M599.8 315.3h0M587.3 329.3h0M566.1 336.3h0M580.7 331.1h0M561.6 332.6h0M664.1 299.2h0M564.2 330.9h0M649.8 302.8h0M580.9 328.9h0M662.8 296.0h0M656.4 302.1h0M662.9 290.5h0M583.2 330.0h0M607.4 316.0h0M590.7 320.3h0M559.7 327.8h0M661.3 301.8h0M659.5 311.1h0M643.2 303.6h0M583.1 326.9h0M624.0 306.5h0M570.5 330.9h0M562.6 329.0h0M646.8 309.1h0M657.0 304.3h0M666.7 304.0h0M578.3 327.2h0M596.1 322.8h0M649.6 278.5h0M567.2 329.3h0M573.3 334.8h0M590.5 320.4h0M645.9 302.7h0M594.9 325.2h0M563.5 332.8h0M556.4 333.1h0M589.0 324.7h0M586.3 323.1h0M556.6 334.1h0M644.8 307.2h0M658.2 296.6h0M569.6 328.9h0M572.0 328.6h0M646.7 309.6h0M582.1 331.9h0M625.7 312.9h0M586.6 333.0h0M668.2 296.6h0M579.1 327.7h0M595.5 321.5h0M581.9 322.5h0M589.8 323.3h0M640.1 299.4h0M570.4 331.7h0M572.4 329.6h0M663.0 288.4h0M579.3 328.3h0M582.8 329.3h0M596.0 326.2h0M566.7 335.2h0M558.4 330.8h0M648.0 327.3h0M581.3 326.2h0M565.8 332.2h0M597.8 317.8h0M572.1 326.0h0M575.0 329.5h0M658.4 291.7h0M601.7 318.6h0M575.8 336.3h0M658.1 306.5h0M560.8 330.8h0M671.8 293.9h0M567.7 332.2h0M574.7 325.9h0M664.5 291.6h0M576.9 329.6h0M645.6 314.1h0M557.9 336.6h0M595.4 324.2h0M560.5 333.0h0M644.2 298.6h0M574.2 329.5h0M584.2 324.4h0M647.8 286.5h0M622.3 317.4h0M608.3 319.9h0M627.6 303.9h0M651.2 296.0h0M589.3 317.6h0M573.0 333.7h0M603.5 322.5h0M592.5 324.3h0M665.3 298.0h0M609.9 309.3h0M594.8 320.9h0M595.7 322.2h0M666.8 288.9h0M657.8 299.0h0M615.0 320.9h0M560.3 329.9h0M636.9 324.8h0M583.9 327.5h0M632.4 307.4h0M559.4 331.5h0M603.7 320.4h0M668.0 289.8h0M569.6 326.8h0M558.0 336.0h0M572.9 324.1h0M655.9 292.1h0M580.1 327.2h0M591.6 320.5h0M597.2 327.9h0M652.6 294.7h0M596.8 321.1h0M558.9 336.3h0M672.4 285.2h0M585.8 332.3h0M655.8 294.4h0M609.1 324.0h0M585.5 318.5h0M578.1 330.0h0M591.9 325.0h0M645.5 277.4h0M576.6 335.8h0M571.6 327.0h0M563.4 334.8h0M640.5 298.9h0M653.2 310.5h0M587.4 321.6h0M664.2 304.4h0M585.1 326.2h0M564.3 330.3h0M672.6 288.4h0M658.7 322.5h0M565.4 335.5h0M592.1 330.0h0M595.8 324.0h0M603.7 315.9h0M644.9 315.4h0M583.6 324.8h0M671.8 298.0h0M661.5 297.0h0M581.6 327.5h0M654.8 293.9h0M650.5 291.0h0M576.6 329.8h0M603.3 317.8h0M664.2 313.5h0M583.7 333.8h0M617.9 310.9h0M659.4 317.9h0M605.6 315.9h0M668.4 288.9h0M592.4 321.0h0M623.6 311.2h0M594.1 324.8h0M576.3 329.3h0M645.1 285.2h0M560.1 336.1h0M667.4 306.5h0M642.8 317.3h0M671.4 283.8h0M664.8 297.3h0M575.5 322.6h0M629.1 313.2h0M659.1 302.9h0M643.7 300.6h0M653.5 304.4h0M618.5 312.4h0M627.0 306.5h0M579.9 325.0h0M555.6 332.3h0M567.0 332.8h0M576.6 335.6h0M560.0 334.4h0M585.2 326.3h0M648.8 308.4h0M583.3 321.7h0M649.0 300.1h0M645.9 313.2h0M650.2 300.3h0M566.9 335.7h0M590.9 326.3h0M576.5 331.2h0M646.1 300.6h0M580.8 327.2h0M573.9 335.9h0M559.6 331.2h0M589.8 323.4h0M584.1 325.8h0M564.9 331.9h0M572.9 329.8h0M653.2 284.3h0M583.9 326.9h0M593.5 324.3h0" stroke="#2a2aff" stroke-opacity="0.35" stroke-width="1.35" stroke-linecap="square" fill="none"/>
<path d="M558.1 333.9h0M596.0 323.0h0M661.5 302.0h0M599.9 325.5h0M643.8 283.7h0M600.0 317.3h0M655.1 302.0h0M615.6 312.3h0M597.2 318.1h0M644.6 323.1h0M672.2 308.3h0M560.7 331.5h0M579.1 326.6h0M583.2 322.4h0M585.6 323.8h0M662.1 301.7h0M590.8 324.2h0M605.2 314.4h0M650.3 292.1h0M555.6 333.4h0M596.1 321.5h0M561.0 334.9h0M595.7 317.4h0M622.4 299.9h0M570.8 333.0h0M647.1 298.6h0M580.4 336.2h0M617.1 321.0h0M599.5 322.3h0M575.5 326.7h0M668.1 283.8h0M581.6 327.3h0M584.9 324.2h0M577.7 326.7h0M593.9 330.2h0M630.8 312.5h0M647.5 291.9h0M561.6 333.7h0M642.9 293.2h0M569.9 327.7h0M591.9 324.5h0M668.5 310.3h0M661.7 278.7h0M650.8 305.6h0M589.9 325.1h0M574.3 327.8h0M588.6 324.0h0M657.3 307.4h0M592.5 330.3h0M563.1 332.7h0M642.8 321.6h0M571.7 330.8h0M574.0 329.1h0M619.3 311.3h0M570.6 329.3h0M595.8 326.2h0M576.0 332.2h0M556.2 333.9h0M660.3 279.2h0M652.5 297.3h0M572.6 331.2h0M654.2 289.5h0M564.0 336.2h0M585.6 331.8h0M588.4 326.3h0M630.5 307.8h0M583.8 324.9h0M640.6 297.1h0M668.9 292.8h0M574.3 329.1h0M564.1 333.7h0M652.4 310.3h0M665.7 279.8h0M662.0 266.2h0M657.8 303.6h0M572.2 331.8h0M560.8 335.9h0M634.0 307.2h0M571.3 330.1h0M593.2 322.6h0M641.7 289.1h0M583.7 330.2h0M576.2 331.6h0M663.4 293.8h0M574.8 330.0h0M569.0 330.3h0M666.9 297.5h0M658.6 303.2h0M574.0 329.5h0M572.0 330.2h0M582.4 324.2h0M565.2 332.4h0M561.4 335.3h0M595.1 324.9h0M623.6 315.6h0M577.0 331.2h0M556.7 335.4h0M631.9 324.2h0M558.8 336.7h0M569.4 332.2h0M589.3 325.2h0M657.3 301.2h0M572.9 329.2h0M658.8 285.6h0M669.1 299.4h0M576.6 325.5h0M625.2 316.1h0M565.0 331.4h0M577.1 326.9h0M562.2 332.9h0M581.9 325.5h0M659.8 284.0h0M597.8 327.8h0M657.2 308.2h0M594.1 323.0h0M588.1 327.5h0M566.7 327.5h0M651.2 307.3h0M587.8 325.6h0M582.9 322.4h0M654.5 291.2h0M586.3 327.5h0M563.5 332.7h0M608.2 320.9h0M588.5 320.4h0M620.9 307.7h0M627.3 296.4h0M572.8 332.3h0M596.5 325.2h0M562.7 330.8h0M588.2 327.6h0M578.4 335.0h0M569.3 335.6h0M665.1 311.4h0M643.9 299.0h0M600.8 321.3h0M653.7 306.0h0M582.2 332.1h0M580.6 330.3h0M653.6 287.8h0M635.4 286.0h0M567.3 329.8h0M562.8 335.9h0M587.8 332.3h0M562.1 336.5h0M644.0 295.4h0M604.1 316.8h0M586.5 332.3h0M656.8 305.6h0M654.0 274.3h0M656.7 297.1h0M672.5 284.0h0M568.9 331.9h0M593.6 319.9h0M559.6 335.3h0M613.5 323.9h0M587.1 328.0h0M585.3 317.6h0M593.2 326.4h0M672.4 297.8h0M667.8 275.9h0M560.9 335.7h0M634.5 325.7h0M590.0 318.5h0M586.5 319.8h0M589.4 319.2h0M570.5 331.5h0M557.3 332.1h0M581.1 325.8h0M580.6 326.2h0M654.9 298.4h0M573.9 326.1h0M648.9 312.3h0M582.2 324.6h0M561.2 333.1h0M662.3 314.4h0M562.1 329.9h0M643.6 294.3h0M663.4 292.5h0M591.9 322.9h0M578.1 324.4h0M559.2 334.5h0M665.5 305.6h0M613.9 314.9h0M594.7 320.4h0M558.5 335.0h0M658.3 297.2h0M642.5 292.3h0M582.2 326.0h0M591.5 325.6h0M662.6 293.3h0M642.1 284.2h0M589.6 323.7h0M669.3 300.2h0M594.7 315.0h0M659.5 287.0h0M581.6 327.5h0M562.5 333.2h0M597.3 331.2h0M603.4 316.0h0M560.6 331.2h0M658.0 286.3h0M567.2 334.9h0M663.4 283.0h0M654.9 287.2h0M575.6 329.2h0M603.7 321.6h0M576.3 331.8h0M648.9 290.0h0M572.5 328.6h0M556.3 332.1h0M587.4 325.7h0M573.2 326.3h0M651.4 297.4h0M592.9 322.9h0M560.1 330.1h0M593.6 321.6h0M660.7 299.6h0M670.8 298.1h0M596.0 329.2h0M578.5 327.4h0M569.1 331.2h0M580.1 326.8h0M667.5 288.7h0M588.3 328.3h0M596.5 314.5h0M606.1 321.9h0M595.4 321.9h0M644.8 303.6h0M571.7 327.5h0M555.4 332.7h0M591.5 320.9h0M566.7 332.9h0M582.2 321.6h0M585.0 323.4h0M574.0 331.7h0M571.5 333.5h0M641.4 316.1h0M647.8 298.4h0M660.2 294.4h0M595.4 318.2h0M587.9 321.6h0M592.4 327.9h0M567.5 330.1h0M561.0 331.6h0M645.7 307.7h0M577.0 329.2h0M569.8 335.9h0M576.3 325.2h0" stroke="#2a2aff" stroke-opacity="0.60" stroke-width="1.35" stroke-linecap="square" fill="none"/>
<path d="M563.2 330.3h0M597.1 322.9h0M646.2 301.3h0M642.0 306.8h0M572.0 325.6h0M631.2 316.2h0M659.5 289.9h0M655.4 309.2h0M555.5 336.5h0M572.1 329.4h0M561.3 333.9h0M658.5 298.0h0M582.4 330.6h0M591.7 323.4h0M582.3 325.9h0M639.2 306.9h0M566.3 336.0h0M595.7 324.9h0M565.4 323.4h0M588.5 324.9h0M565.6 331.9h0M595.4 318.9h0M656.4 298.6h0M561.9 331.5h0M557.6 335.6h0M649.0 291.4h0M628.0 312.4h0M614.4 320.9h0M570.7 324.0h0M604.3 319.6h0M591.8 327.7h0M582.7 329.6h0M559.2 334.0h0M607.4 317.6h0M594.6 319.3h0M650.2 293.0h0M563.6 329.8h0M654.8 280.7h0M621.3 315.5h0M638.7 300.5h0M565.3 331.9h0M583.5 329.1h0M570.5 330.7h0M660.2 291.5h0M560.0 331.0h0M600.2 326.6h0M588.4 318.9h0M563.1 333.4h0M596.3 317.5h0M559.2 334.3h0M591.7 320.0h0M605.7 318.3h0M610.3 309.0h0M581.5 332.7h0M660.9 299.9h0M646.3 286.3h0M568.6 332.0h0M659.8 303.0h0M657.3 296.6h0M661.8 294.0h0M581.0 330.9h0M595.1 320.3h0M587.1 318.7h0M631.5 294.9h0M587.5 319.6h0M650.0 301.4h0M632.3 309.3h0M561.4 334.5h0M577.8 326.8h0M594.0 324.6h0M642.6 298.3h0M632.1 305.7h0M556.4 333.6h0M615.7 318.2h0M638.6 294.3h0M558.6 332.4h0M635.7 292.3h0M651.5 315.7h0M665.8 298.9h0M596.8 313.8h0M645.5 309.6h0M585.9 328.5h0M562.9 333.1h0M558.1 335.6h0M583.3 324.1h0M556.3 335.5h0M655.5 291.4h0M648.3 309.1h0M627.8 318.3h0M658.7 277.8h0M669.3 302.0h0M661.2 294.0h0M586.7 325.4h0M558.9 331.8h0M559.5 334.1h0M580.4 326.1h0M665.7 311.5h0M576.5 334.3h0M580.2 330.8h0M661.9 296.2h0M614.0 319.4h0M567.7 332.7h0M661.7 295.9h0M644.1 296.1h0M577.5 330.5h0M585.0 328.7h0M634.2 297.1h0M665.8 299.3h0M561.9 329.6h0M590.6 324.4h0M589.7 324.9h0M593.0 330.6h0M587.1 327.3h0M570.6 334.3h0M618.5 317.5h0M567.2 331.7h0M573.2 328.5h0M658.3 301.8h0M580.0 326.8h0M589.4 328.3h0M565.9 334.9h0M663.9 290.1h0M596.7 323.1h0M579.0 334.2h0M586.0 330.8h0M604.6 312.6h0M588.0 328.7h0M582.9 329.8h0M672.5 300.1h0M561.3 330.6h0M585.6 326.5h0M584.3 329.3h0M603.1 320.7h0M640.5 301.9h0M582.6 323.3h0M568.8 327.1h0M556.0 334.2h0M557.4 332.7h0M635.2 306.8h0M644.8 304.8h0M573.5 330.2h0M656.0 285.9h0M641.4 304.5h0M574.8 329.4h0M617.1 322.4h0M581.6 329.6h0M596.5 324.0h0M576.8 330.4h0M571.1 326.9h0M559.0 336.3h0M580.7 326.9h0M628.1 301.4h0M658.3 301.5h0M590.3 322.4h0M590.9 320.6h0M557.6 336.1h0M583.5 326.1h0M658.1 284.7h0M581.0 325.1h0M583.6 328.9h0M646.1 299.6h0M593.7 328.2h0M564.8 334.3h0M591.7 325.4h0M626.7 306.7h0M641.9 313.5h0M626.8 300.4h0M574.4 326.0h0M567.5 328.3h0M661.0 299.3h0M671.5 315.8h0M654.8 287.0h0M590.5 324.7h0M569.7 329.3h0M577.5 335.6h0M595.0 328.0h0M583.5 331.1h0M661.8 298.3h0M650.8 294.1h0M596.3 316.2h0M577.9 329.5h0M563.1 331.5h0M570.4 334.3h0M657.9 303.9h0M592.9 321.5h0M566.5 335.0h0M585.2 326.6h0M575.2 331.1h0M666.1 322.0h0M572.5 332.0h0M594.1 326.4h0M658.0 295.5h0M562.6 336.3h0M562.0 331.7h0M655.5 299.5h0M664.0 300.7h0M645.1 307.8h0" stroke="#2a2aff" stroke-opacity="0.90" stroke-width="1.35" stroke-linecap="square" fill="none"/>
<path d="M556.3,335.4 557.3,335.1 558.3,334.8 559.3,334.5 560.3,334.2 561.3,333.9 562.3,333.6 563.3,333.3 564.3,333.0 565.3,332.7 566.3,332.4 567.3,332.1 568.3,331.8 569.3,331.5 570.3,331.2 571.3,330.9 572.3,330.6 573.3,330.3 574.3,330.0 575.3,329.7 576.3,329.4 577.3,329.1 578.3,328.8 579.3,328.5 580.3,328.1 581.3,327.8 582.3,327.5 583.3,327.2 584.3,326.9 585.3,326.6 586.3,326.3 587.3,326.0 588.3,325.7 589.3,325.3 590.3,325.0 591.3,324.7 592.3,324.4 593.3,324.1 594.3,323.7 595.3,323.4 596.3,323.1 597.3,322.8 598.3,322.5 599.3,322.1 600.3,321.8 601.3,321.5 602.3,321.1 603.3,320.8 604.3,320.5 605.3,320.1 606.3,319.8 607.3,319.5 608.3,319.1 609.3,318.8 610.3,318.5 611.3,318.1 612.3,317.8 613.3,317.4 614.3,317.1 615.3,316.7 616.3,316.4 617.3,316.0 618.3,315.7 619.3,315.3 620.3,315.0 621.3,314.6 622.3,314.3 623.3,313.9 624.3,313.5 625.3,313.2 626.3,312.8 627.3,312.5 628.3,312.1 629.3,311.7 630.3,311.4 631.3,311.0 632.3,310.7 633.3,310.3 634.3,310.0 635.3,309.7 636.3,309.3 637.3,309.0 638.3,308.7 639.3,308.4 640.3,308.1 641.3,307.8 642.3,307.5 643.3,307.2 644.3,307.0 645.3,306.7 646.3,306.5 647.3,306.2 648.3,306.0 649.3,305.8 650.3,305.6 651.3,305.4 652.3,305.3 653.3,305.1 654.3,305.0 655.3,304.8 656.3,304.7 657.3,304.6 658.3,304.6 659.3,304.5 660.3,304.4 661.3,304.4 662.3,304.4 663.3,304.4 664.3,304.4 665.3,304.4 666.3,304.5 667.3,304.5 668.3,304.6 669.3,304.7 670.3,304.8 671.3,305.0 672.3,305.1" stroke="#ff22ff" stroke-width="1.25" fill="none" stroke-linecap="round" stroke-linejoin="round"/>
<path d="M556.3,334.8 557.3,334.5 558.3,334.2 559.3,334.0 560.3,333.7 561.3,333.4 562.3,333.1 563.3,332.8 564.3,332.5 565.3,332.2 566.3,331.9 567.3,331.6 568.3,331.3 569.3,331.0 570.3,330.7 571.3,330.4 572.3,330.1 573.3,329.8 574.3,329.5 575.3,329.1 576.3,328.8 577.3,328.5 578.3,328.2 579.3,327.9 580.3,327.5 581.3,327.2 582.3,326.9 583.3,326.5 584.3,326.2 585.3,325.9 586.3,325.5 587.3,325.2 588.3,324.8 589.3,324.5 590.3,324.1 591.3,323.8 592.3,323.4 593.3,323.1 594.3,322.7 595.3,322.3 596.3,322.0 597.3,321.6 598.3,321.2 599.3,320.8 600.3,320.4 601.3,320.0 602.3,319.7 603.3,319.3 604.3,318.9 605.3,318.5 606.3,318.1 607.3,317.6 608.3,317.2 609.3,316.8 610.3,316.4 611.3,316.0 612.3,315.5 613.3,315.1 614.3,314.7 615.3,314.2 616.3,313.8 617.3,313.3 618.3,312.9 619.3,312.4 620.3,311.9 621.3,311.5 622.3,311.0 623.3,310.5 624.3,310.0 625.3,309.6 626.3,309.1 627.3,308.6 628.3,308.1 629.3,307.6 630.3,307.1 631.3,306.6 632.3,306.1 633.3,305.6 634.3,305.2 635.3,304.7 636.3,304.2 637.3,303.7 638.3,303.3 639.3,302.8 640.3,302.3 641.3,301.9 642.3,301.4 643.3,301.0 644.3,300.6 645.3,300.2 646.3,299.7 647.3,299.4 648.3,299.0 649.3,298.6 650.3,298.2 651.3,297.9 652.3,297.5 653.3,297.2 654.3,296.9 655.3,296.6 656.3,296.3 657.3,296.1 658.3,295.8 659.3,295.6 660.3,295.4 661.3,295.2 662.3,295.0 663.3,294.9 664.3,294.8 665.3,294.7 666.3,294.6 667.3,294.5 668.3,294.5 669.3,294.5 670.3,294.5 671.3,294.5 672.3,294.6" stroke="#1414ff" stroke-width="1.45" fill="none" stroke-linecap="round" stroke-linejoin="round"/>
<path d="M553.40,251.40V337.50M550.20,337.50H553.40M550.20,315.98H553.40M550.20,294.45H553.40M550.20,272.93H553.40M550.20,251.40H553.40M553.40,337.50V340.80" stroke="#232323" stroke-width="1.25" fill="none"/>
<path d="M553.40,337.50H679.50M565.96,337.50V340.80M578.52,337.50V340.80M591.08,337.50V340.80M603.64,337.50V340.80M616.20,337.50V340.80M628.76,337.50V340.80M641.32,337.50V340.80M653.88,337.50V340.80M666.44,337.50V340.80M679.00,337.50V340.80" stroke="#2a2a2a" stroke-width="1.4" fill="none"/>
<text transform="translate(548.40,340.40) scale(0.83,1)" text-anchor="end" class="tk">0</text>
<text transform="translate(548.40,318.88) scale(0.83,1)" text-anchor="end" class="tk">20</text>
<text transform="translate(548.40,297.35) scale(0.83,1)" text-anchor="end" class="tk">40</text>
<text transform="translate(548.40,275.82) scale(0.83,1)" text-anchor="end" class="tk">60</text>
<text transform="translate(548.40,254.30) scale(0.83,1)" text-anchor="end" class="tk">80</text>
<text transform="translate(535.00,294.30) rotate(-90)" text-anchor="middle" textLength="43.40" lengthAdjust="spacingAndGlyphs" class="yl">IPVV<tspan style="font-size:5.9px" dy="1.8">LLL</tspan><tspan dy="-1.8">(mL)</tspan></text>
<text x="517.60" y="248.60" class="lt">h</text>
<path d="M53.05,443.00V357.00M65.60,443.00V357.00M78.15,443.00V357.00M90.70,443.00V357.00M103.25,443.00V357.00M115.80,443.00V357.00M128.35,443.00V357.00M140.90,443.00V357.00M153.45,443.00V357.00M166.00,443.00V357.00M40.50,414.33H166.00M40.50,385.67H166.00M40.50,357.00H166.00" stroke="#cdcdcd" stroke-width="0.95" fill="none"/>
<path d="M42.00,417.00C42.83,417.17 45.50,418.50 47.00,418.00C48.50,417.50 49.67,415.07 51.00,414.00C52.33,412.93 53.33,412.33 55.00,411.60C56.67,410.87 59.00,409.80 61.00,409.60C63.00,409.40 65.00,409.93 67.00,410.40C69.00,410.87 71.17,411.80 73.00,412.40C74.83,413.00 76.33,413.80 78.00,414.00C79.67,414.20 81.33,413.93 83.00,413.60C84.67,413.27 86.50,412.77 88.00,412.00C89.50,411.23 90.83,410.07 92.00,409.00C93.17,407.93 93.83,406.37 95.00,405.60C96.17,404.83 97.67,404.47 99.00,404.40C100.33,404.33 101.83,404.93 103.00,405.20C104.17,405.47 105.00,404.87 106.00,406.00C107.00,407.13 108.00,410.50 109.00,412.00C110.00,413.50 111.00,414.40 112.00,415.00C113.00,415.60 114.00,415.60 115.00,415.60C116.00,415.60 117.00,414.60 118.00,415.00C119.00,415.40 119.83,416.83 121.00,418.00C122.17,419.17 123.67,421.07 125.00,422.00C126.33,422.93 127.33,423.20 129.00,423.60C130.67,424.00 133.00,423.93 135.00,424.40C137.00,424.87 139.00,426.07 141.00,426.40C143.00,426.73 145.33,426.53 147.00,426.40C148.67,426.27 149.83,426.67 151.00,425.60C152.17,424.53 153.00,422.27 154.00,420.00C155.00,417.73 156.17,415.33 157.00,412.00C157.83,408.67 158.67,402.00 159.00,400.00" stroke="#ff40ff" stroke-width="1.45" fill="none" stroke-linecap="round" stroke-linejoin="round"/>
<path d="M43.00,389.00C43.33,389.83 44.17,391.83 45.00,394.00C45.83,396.17 47.00,399.93 48.00,402.00C49.00,404.07 49.83,405.40 51.00,406.40C52.17,407.40 53.50,407.90 55.00,408.00C56.50,408.10 58.67,406.83 60.00,407.00C61.33,407.17 61.83,408.00 63.00,409.00C64.17,410.00 65.67,411.90 67.00,413.00C68.33,414.10 69.33,415.03 71.00,415.60C72.67,416.17 75.00,415.90 77.00,416.40C79.00,416.90 81.17,418.23 83.00,418.60C84.83,418.97 86.67,419.03 88.00,418.60C89.33,418.17 90.00,417.77 91.00,416.00C92.00,414.23 93.00,411.00 94.00,408.00C95.00,405.00 96.00,400.83 97.00,398.00C98.00,395.17 98.83,392.67 100.00,391.00C101.17,389.33 102.67,389.17 104.00,388.00C105.33,386.83 106.67,384.83 108.00,384.00C109.33,383.17 110.50,383.57 112.00,383.00C113.50,382.43 115.50,380.77 117.00,380.60C118.50,380.43 119.83,381.10 121.00,382.00C122.17,382.90 123.00,384.33 124.00,386.00C125.00,387.67 126.00,390.00 127.00,392.00C128.00,394.00 129.00,396.17 130.00,398.00C131.00,399.83 132.00,401.17 133.00,403.00C134.00,404.83 134.83,406.83 136.00,409.00C137.17,411.17 138.83,414.43 140.00,416.00C141.17,417.57 141.83,417.90 143.00,418.40C144.17,418.90 145.83,418.40 147.00,419.00C148.17,419.60 149.00,420.50 150.00,422.00C151.00,423.50 152.17,425.83 153.00,428.00C153.83,430.17 154.40,433.27 155.00,435.00C155.60,436.73 156.10,438.40 156.60,438.40C157.10,438.40 157.60,436.57 158.00,435.00C158.40,433.43 158.83,430.00 159.00,429.00" stroke="#1a1aff" stroke-width="1.85" fill="none" stroke-linecap="round" stroke-linejoin="round"/>
<path d="M40.50,357.00V443.00M37.30,443.00H40.50M37.30,414.33H40.50M37.30,385.67H40.50M37.30,357.00H40.50M40.50,443.00V446.30" stroke="#232323" stroke-width="1.25" fill="none"/>
<path d="M37.30,443.00H166.50M53.05,443.00V446.30M65.60,443.00V446.30M78.15,443.00V446.30M90.70,443.00V446.30M103.25,443.00V446.30M115.80,443.00V446.30M128.35,443.00V446.30M140.90,443.00V446.30M153.45,443.00V446.30M166.00,443.00V446.30" stroke="#262626" stroke-width="1.35" fill="none"/>
<text transform="translate(35.50,445.90) scale(0.83,1)" text-anchor="end" class="tk">0.0</text>
<text transform="translate(35.50,417.23) scale(0.83,1)" text-anchor="end" class="tk">0.5</text>
<text transform="translate(35.50,388.57) scale(0.83,1)" text-anchor="end" class="tk">1.0</text>
<text transform="translate(35.50,359.90) scale(0.83,1)" text-anchor="end" class="tk">1.5</text>
<text transform="translate(40.50,454.70) scale(0.83,1)" text-anchor="middle" class="tk">0</text>
<text transform="translate(53.05,454.70) scale(0.83,1)" text-anchor="middle" class="tk">2</text>
<text transform="translate(65.60,454.70) scale(0.83,1)" text-anchor="middle" class="tk">4</text>
<text transform="translate(78.15,454.70) scale(0.83,1)" text-anchor="middle" class="tk">6</text>
<text transform="translate(90.70,454.70) scale(0.83,1)" text-anchor="middle" class="tk">8</text>
<text transform="translate(103.25,454.70) scale(0.83,1)" text-anchor="middle" class="tk">10</text>
<text transform="translate(115.80,454.70) scale(0.83,1)" text-anchor="middle" class="tk">12</text>
<text transform="translate(128.35,454.70) scale(0.83,1)" text-anchor="middle" class="tk">14</text>
<text transform="translate(140.90,454.70) scale(0.83,1)" text-anchor="middle" class="tk">16</text>
<text transform="translate(153.45,454.70) scale(0.83,1)" text-anchor="middle" class="tk">18</text>
<text transform="translate(166.00,454.70) scale(0.83,1)" text-anchor="middle" class="tk">20</text>
<text x="103.25" y="465.70" text-anchor="middle" class="xl">age / years-old</text>
<text transform="translate(20.40,399.90) rotate(-90)" text-anchor="middle" textLength="106.20" lengthAdjust="spacingAndGlyphs" class="yl2">growth rate of IPVV<tspan class="sb" dy="1.8">RML</tspan><tspan dy="-1.8" style="font-size:7.1px"> (mL/year)</tspan></text>
<text x="0.60" y="353.20" class="lt">e'</text>
<path d="M221.73,443.00V357.00M234.26,443.00V357.00M246.79,443.00V357.00M259.32,443.00V357.00M271.85,443.00V357.00M284.38,443.00V357.00M296.91,443.00V357.00M309.44,443.00V357.00M321.97,443.00V357.00M334.50,443.00V357.00M209.20,421.50H334.50M209.20,400.00H334.50M209.20,378.50H334.50M209.20,357.00H334.50" stroke="#cdcdcd" stroke-width="0.95" fill="none"/>
<path d="M211.00,396.40C211.50,397.17 213.00,399.40 214.00,401.00C215.00,402.60 215.83,404.83 217.00,406.00C218.17,407.17 219.67,408.00 221.00,408.00C222.33,408.00 223.50,407.07 225.00,406.00C226.50,404.93 228.50,402.10 230.00,401.60C231.50,401.10 232.67,402.67 234.00,403.00C235.33,403.33 236.67,403.50 238.00,403.60C239.33,403.70 240.83,403.47 242.00,403.60C243.17,403.73 243.83,403.93 245.00,404.40C246.17,404.87 247.50,405.73 249.00,406.40C250.50,407.07 252.33,407.87 254.00,408.40C255.67,408.93 257.50,409.67 259.00,409.60C260.50,409.53 261.83,408.77 263.00,408.00C264.17,407.23 265.00,406.00 266.00,405.00C267.00,404.00 268.00,403.33 269.00,402.00C270.00,400.67 270.83,398.33 272.00,397.00C273.17,395.67 274.50,395.17 276.00,394.00C277.50,392.83 279.50,390.73 281.00,390.00C282.50,389.27 283.67,389.27 285.00,389.60C286.33,389.93 287.67,390.93 289.00,392.00C290.33,393.07 291.83,394.33 293.00,396.00C294.17,397.67 295.00,399.33 296.00,402.00C297.00,404.67 298.00,408.83 299.00,412.00C300.00,415.17 301.00,418.17 302.00,421.00C303.00,423.83 303.83,426.33 305.00,429.00C306.17,431.67 307.67,434.83 309.00,437.00C310.33,439.17 311.83,441.17 313.00,442.00C314.17,442.83 315.00,442.67 316.00,442.00C317.00,441.33 317.83,439.83 319.00,438.00C320.17,436.17 321.83,433.00 323.00,431.00C324.17,429.00 325.50,426.83 326.00,426.00" stroke="#ff40ff" stroke-width="1.45" fill="none" stroke-linecap="round" stroke-linejoin="round"/>
<path d="M211.40,389.60C211.83,390.00 213.07,390.60 214.00,392.00C214.93,393.40 215.83,396.07 217.00,398.00C218.17,399.93 219.83,402.43 221.00,403.60C222.17,404.77 222.83,405.00 224.00,405.00C225.17,405.00 226.67,403.93 228.00,403.60C229.33,403.27 230.67,402.87 232.00,403.00C233.33,403.13 234.67,403.97 236.00,404.40C237.33,404.83 238.83,405.73 240.00,405.60C241.17,405.47 241.83,404.37 243.00,403.60C244.17,402.83 245.67,401.50 247.00,401.00C248.33,400.50 249.67,400.77 251.00,400.60C252.33,400.43 253.67,400.10 255.00,400.00C256.33,399.90 257.67,399.90 259.00,400.00C260.33,400.10 261.83,401.43 263.00,400.60C264.17,399.77 265.00,397.10 266.00,395.00C267.00,392.90 267.83,389.33 269.00,388.00C270.17,386.67 271.67,387.40 273.00,387.00C274.33,386.60 275.67,386.03 277.00,385.60C278.33,385.17 279.67,384.93 281.00,384.40C282.33,383.87 283.67,382.80 285.00,382.40C286.33,382.00 287.50,382.33 289.00,382.00C290.50,381.67 292.67,380.07 294.00,380.40C295.33,380.73 296.00,382.57 297.00,384.00C298.00,385.43 299.00,387.17 300.00,389.00C301.00,390.83 301.83,393.17 303.00,395.00C304.17,396.83 305.67,398.33 307.00,400.00C308.33,401.67 309.50,403.17 311.00,405.00C312.50,406.83 314.67,409.00 316.00,411.00C317.33,413.00 318.00,414.83 319.00,417.00C320.00,419.17 321.00,421.90 322.00,424.00C323.00,426.10 324.17,429.27 325.00,429.60C325.83,429.93 326.40,427.27 327.00,426.00C327.60,424.73 328.33,422.67 328.60,422.00" stroke="#1a1aff" stroke-width="1.85" fill="none" stroke-linecap="round" stroke-linejoin="round"/>
<path d="M209.20,357.00V443.00M206.00,443.00H209.20M206.00,421.50H209.20M206.00,400.00H209.20M206.00,378.50H209.20M206.00,357.00H209.20M209.20,443.00V446.30" stroke="#232323" stroke-width="1.25" fill="none"/>
<path d="M206.00,443.00H335.00M221.73,443.00V446.30M234.26,443.00V446.30M246.79,443.00V446.30M259.32,443.00V446.30M271.85,443.00V446.30M284.38,443.00V446.30M296.91,443.00V446.30M309.44,443.00V446.30M321.97,443.00V446.30M334.50,443.00V446.30" stroke="#262626" stroke-width="1.35" fill="none"/>
<text transform="translate(204.20,445.90) scale(0.83,1)" text-anchor="end" class="tk">0</text>
<text transform="translate(204.20,424.40) scale(0.83,1)" text-anchor="end" class="tk">1</text>
<text transform="translate(204.20,402.90) scale(0.83,1)" text-anchor="end" class="tk">2</text>
<text transform="translate(204.20,381.40) scale(0.83,1)" text-anchor="end" class="tk">3</text>
<text transform="translate(204.20,359.90) scale(0.83,1)" text-anchor="end" class="tk">4</text>
<text transform="translate(209.20,454.70) scale(0.83,1)" text-anchor="middle" class="tk">0</text>
<text transform="translate(221.73,454.70) scale(0.83,1)" text-anchor="middle" class="tk">2</text>
<text transform="translate(234.26,454.70) scale(0.83,1)" text-anchor="middle" class="tk">4</text>
<text transform="translate(246.79,454.70) scale(0.83,1)" text-anchor="middle" class="tk">6</text>
<text transform="translate(259.32,454.70) scale(0.83,1)" text-anchor="middle" class="tk">8</text>
<text transform="translate(271.85,454.70) scale(0.83,1)" text-anchor="middle" class="tk">10</text>
<text transform="translate(284.38,454.70) scale(0.83,1)" text-anchor="middle" class="tk">12</text>
<text transform="translate(296.91,454.70) scale(0.83,1)" text-anchor="middle" class="tk">14</text>
<text transform="translate(309.44,454.70) scale(0.83,1)" text-anchor="middle" class="tk">16</text>
<text transform="translate(321.97,454.70) scale(0.83,1)" text-anchor="middle" class="tk">18</text>
<text transform="translate(334.50,454.70) scale(0.83,1)" text-anchor="middle" class="tk">20</text>
<text x="271.85" y="465.70" text-anchor="middle" class="xl">age / years-old</text>
<text transform="translate(194.90,400.05) rotate(-90)" text-anchor="middle" textLength="105.30" lengthAdjust="spacingAndGlyphs" class="yl2">growth rate of IPVV<tspan class="sb" dy="1.8">RLL</tspan><tspan dy="-1.8" style="font-size:7.1px"> (mL/year)</tspan></text>
<text x="173.00" y="353.40" class="lt">f'</text>
<path d="M391.94,443.00V357.20M404.48,443.00V357.20M417.02,443.00V357.20M429.56,443.00V357.20M442.10,443.00V357.20M454.64,443.00V357.20M467.18,443.00V357.20M479.72,443.00V357.20M492.26,443.00V357.20M504.80,443.00V357.20M379.40,425.84H504.80M379.40,408.68H504.80M379.40,391.52H504.80M379.40,374.36H504.80M379.40,357.20H504.80" stroke="#cdcdcd" stroke-width="0.95" fill="none"/>
<path d="M381.00,389.00C381.33,389.17 382.50,389.33 383.00,390.00C383.50,390.67 382.67,392.33 384.00,393.00C385.33,393.67 388.83,393.67 391.00,394.00C393.17,394.33 395.00,394.83 397.00,395.00C399.00,395.17 401.33,394.67 403.00,395.00C404.67,395.33 405.67,396.17 407.00,397.00C408.33,397.83 409.67,398.90 411.00,400.00C412.33,401.10 413.83,402.43 415.00,403.60C416.17,404.77 417.00,406.93 418.00,407.00C419.00,407.07 420.00,405.00 421.00,404.00C422.00,403.00 423.00,401.67 424.00,401.00C425.00,400.33 426.00,399.67 427.00,400.00C428.00,400.33 429.00,402.33 430.00,403.00C431.00,403.67 431.83,403.77 433.00,404.00C434.17,404.23 435.83,404.90 437.00,404.40C438.17,403.90 439.00,401.90 440.00,401.00C441.00,400.10 441.83,399.17 443.00,399.00C444.17,398.83 445.67,399.33 447.00,400.00C448.33,400.67 449.67,401.67 451.00,403.00C452.33,404.33 453.67,406.60 455.00,408.00C456.33,409.40 457.67,411.07 459.00,411.40C460.33,411.73 461.67,410.07 463.00,410.00C464.33,409.93 465.67,410.50 467.00,411.00C468.33,411.50 469.67,412.33 471.00,413.00C472.33,413.67 473.67,414.10 475.00,415.00C476.33,415.90 477.50,417.57 479.00,418.40C480.50,419.23 482.33,419.57 484.00,420.00C485.67,420.43 487.50,420.33 489.00,421.00C490.50,421.67 491.83,423.17 493.00,424.00C494.17,424.83 495.07,425.40 496.00,426.00C496.93,426.60 498.17,427.33 498.60,427.60" stroke="#ff40ff" stroke-width="1.45" fill="none" stroke-linecap="round" stroke-linejoin="round"/>
<path d="M382.00,366.40C382.23,367.33 382.73,369.90 383.40,372.00C384.07,374.10 385.07,377.17 386.00,379.00C386.93,380.83 387.83,382.10 389.00,383.00C390.17,383.90 391.67,383.97 393.00,384.40C394.33,384.83 395.67,385.00 397.00,385.60C398.33,386.20 399.67,386.77 401.00,388.00C402.33,389.23 403.50,391.17 405.00,393.00C406.50,394.83 408.33,397.00 410.00,399.00C411.67,401.00 413.50,403.43 415.00,405.00C416.50,406.57 417.67,407.57 419.00,408.40C420.33,409.23 421.67,410.07 423.00,410.00C424.33,409.93 425.67,409.00 427.00,408.00C428.33,407.00 429.67,405.33 431.00,404.00C432.33,402.67 433.83,401.67 435.00,400.00C436.17,398.33 437.00,396.17 438.00,394.00C439.00,391.83 439.83,388.67 441.00,387.00C442.17,385.33 443.67,385.17 445.00,384.00C446.33,382.83 447.83,381.50 449.00,380.00C450.17,378.50 451.00,376.33 452.00,375.00C453.00,373.67 453.83,372.77 455.00,372.00C456.17,371.23 457.67,371.33 459.00,370.40C460.33,369.47 461.83,367.30 463.00,366.40C464.17,365.50 465.00,364.73 466.00,365.00C467.00,365.27 468.00,366.17 469.00,368.00C470.00,369.83 471.00,373.17 472.00,376.00C473.00,378.83 473.83,382.00 475.00,385.00C476.17,388.00 477.67,391.33 479.00,394.00C480.33,396.67 481.67,398.67 483.00,401.00C484.33,403.33 485.83,405.50 487.00,408.00C488.17,410.50 489.00,413.00 490.00,416.00C491.00,419.00 492.17,423.67 493.00,426.00C493.83,428.33 494.40,429.67 495.00,430.00C495.60,430.33 496.10,429.33 496.60,428.00C497.10,426.67 497.60,423.67 498.00,422.00C498.40,420.33 498.83,418.67 499.00,418.00" stroke="#1a1aff" stroke-width="1.85" fill="none" stroke-linecap="round" stroke-linejoin="round"/>
<path d="M379.40,357.20V443.00M376.20,443.00H379.40M376.20,425.84H379.40M376.20,408.68H379.40M376.20,391.52H379.40M376.20,374.36H379.40M376.20,357.20H379.40M379.40,443.00V446.30" stroke="#232323" stroke-width="1.25" fill="none"/>
<path d="M376.20,443.00H505.30M391.94,443.00V446.30M404.48,443.00V446.30M417.02,443.00V446.30M429.56,443.00V446.30M442.10,443.00V446.30M454.64,443.00V446.30M467.18,443.00V446.30M479.72,443.00V446.30M492.26,443.00V446.30M504.80,443.00V446.30" stroke="#262626" stroke-width="1.35" fill="none"/>
<text transform="translate(374.40,445.90) scale(0.83,1)" text-anchor="end" class="tk">0.0</text>
<text transform="translate(374.40,428.74) scale(0.83,1)" text-anchor="end" class="tk">0.5</text>
<text transform="translate(374.40,411.58) scale(0.83,1)" text-anchor="end" class="tk">1.0</text>
<text transform="translate(374.40,394.42) scale(0.83,1)" text-anchor="end" class="tk">1.5</text>
<text transform="translate(374.40,377.26) scale(0.83,1)" text-anchor="end" class="tk">2.0</text>
<text transform="translate(374.40,360.10) scale(0.83,1)" text-anchor="end" class="tk">2.5</text>
<text transform="translate(379.40,454.70) scale(0.83,1)" text-anchor="middle" class="tk">0</text>
<text transform="translate(391.94,454.70) scale(0.83,1)" text-anchor="middle" class="tk">2</text>
<text transform="translate(404.48,454.70) scale(0.83,1)" text-anchor="middle" class="tk">4</text>
<text transform="translate(417.02,454.70) scale(0.83,1)" text-anchor="middle" class="tk">6</text>
<text transform="translate(429.56,454.70) scale(0.83,1)" text-anchor="middle" class="tk">8</text>
<text transform="translate(442.10,454.70) scale(0.83,1)" text-anchor="middle" class="tk">10</text>
<text transform="translate(454.64,454.70) scale(0.83,1)" text-anchor="middle" class="tk">12</text>
<text transform="translate(467.18,454.70) scale(0.83,1)" text-anchor="middle" class="tk">14</text>
<text transform="translate(479.72,454.70) scale(0.83,1)" text-anchor="middle" class="tk">16</text>
<text transform="translate(492.26,454.70) scale(0.83,1)" text-anchor="middle" class="tk">18</text>
<text transform="translate(504.80,454.70) scale(0.83,1)" text-anchor="middle" class="tk">20</text>
<text x="442.10" y="465.70" text-anchor="middle" class="xl">age / years-old</text>
<text transform="translate(359.50,399.90) rotate(-90)" text-anchor="middle" textLength="105.60" lengthAdjust="spacingAndGlyphs" class="yl2">growth rate of IPVV<tspan class="sb" dy="1.8">LUL</tspan><tspan dy="-1.8" style="font-size:7.1px"> (mL/year)</tspan></text>
<text x="338.80" y="351.60" class="lt">g'</text>
<path d="M566.32,442.50V356.40M578.84,442.50V356.40M591.36,442.50V356.40M603.88,442.50V356.40M616.40,442.50V356.40M628.92,442.50V356.40M641.44,442.50V356.40M653.96,442.50V356.40M666.48,442.50V356.40M679.00,442.50V356.40M553.80,420.98H679.00M553.80,399.45H679.00M553.80,377.92H679.00M553.80,356.40H679.00" stroke="#cdcdcd" stroke-width="0.95" fill="none"/>
<path d="M555.00,399.60C555.67,399.83 557.67,400.20 559.00,401.00C560.33,401.80 561.67,403.83 563.00,404.40C564.33,404.97 565.67,404.47 567.00,404.40C568.33,404.33 569.33,404.00 571.00,404.00C572.67,404.00 575.00,404.13 577.00,404.40C579.00,404.67 581.00,405.07 583.00,405.60C585.00,406.13 587.00,407.37 589.00,407.60C591.00,407.83 593.33,406.77 595.00,407.00C596.67,407.23 597.67,408.33 599.00,409.00C600.33,409.67 601.67,410.33 603.00,411.00C604.33,411.67 605.83,412.83 607.00,413.00C608.17,413.17 609.00,412.67 610.00,412.00C611.00,411.33 612.00,410.17 613.00,409.00C614.00,407.83 615.00,406.33 616.00,405.00C617.00,403.67 617.83,402.33 619.00,401.00C620.17,399.67 621.67,398.33 623.00,397.00C624.33,395.67 625.67,394.17 627.00,393.00C628.33,391.83 629.50,390.67 631.00,390.00C632.50,389.33 634.67,388.67 636.00,389.00C637.33,389.33 638.00,390.17 639.00,392.00C640.00,393.83 641.00,397.00 642.00,400.00C643.00,403.00 644.00,407.00 645.00,410.00C646.00,413.00 647.00,415.33 648.00,418.00C649.00,420.67 649.83,423.17 651.00,426.00C652.17,428.83 653.67,432.67 655.00,435.00C656.33,437.33 657.67,439.50 659.00,440.00C660.33,440.50 661.67,439.33 663.00,438.00C664.33,436.67 665.83,434.00 667.00,432.00C668.17,430.00 669.07,428.27 670.00,426.00C670.93,423.73 672.17,419.67 672.60,418.40" stroke="#ff40ff" stroke-width="1.45" fill="none" stroke-linecap="round" stroke-linejoin="round"/>
<path d="M556.00,404.40C556.33,403.93 557.17,402.33 558.00,401.60C558.83,400.87 560.00,400.00 561.00,400.00C562.00,400.00 562.83,400.77 564.00,401.60C565.17,402.43 566.67,404.27 568.00,405.00C569.33,405.73 570.50,406.00 572.00,406.00C573.50,406.00 575.50,404.93 577.00,405.00C578.50,405.07 579.67,405.80 581.00,406.40C582.33,407.00 583.83,408.40 585.00,408.60C586.17,408.80 586.67,408.20 588.00,407.60C589.33,407.00 591.50,405.77 593.00,405.00C594.50,404.23 595.67,403.67 597.00,403.00C598.33,402.33 599.67,401.50 601.00,401.00C602.33,400.50 603.83,400.00 605.00,400.00C606.17,400.00 607.00,402.00 608.00,401.00C609.00,400.00 610.00,396.67 611.00,394.00C612.00,391.33 613.00,386.73 614.00,385.00C615.00,383.27 616.00,383.60 617.00,383.60C618.00,383.60 618.83,384.87 620.00,385.00C621.17,385.13 622.83,385.07 624.00,384.40C625.17,383.73 625.83,382.23 627.00,381.00C628.17,379.77 629.67,377.90 631.00,377.00C632.33,376.10 633.83,376.27 635.00,375.60C636.17,374.93 637.17,373.10 638.00,373.00C638.83,372.90 639.17,373.33 640.00,375.00C640.83,376.67 642.00,380.67 643.00,383.00C644.00,385.33 645.00,387.33 646.00,389.00C647.00,390.67 647.83,391.33 649.00,393.00C650.17,394.67 651.67,396.67 653.00,399.00C654.33,401.33 655.67,404.33 657.00,407.00C658.33,409.67 659.67,412.50 661.00,415.00C662.33,417.50 663.67,419.83 665.00,422.00C666.33,424.17 667.77,426.00 669.00,428.00C670.23,430.00 671.83,433.00 672.40,434.00" stroke="#1a1aff" stroke-width="1.85" fill="none" stroke-linecap="round" stroke-linejoin="round"/>
<path d="M553.80,356.40V442.50M550.60,442.50H553.80M550.60,420.98H553.80M550.60,399.45H553.80M550.60,377.92H553.80M550.60,356.40H553.80M553.80,442.50V445.80" stroke="#232323" stroke-width="1.25" fill="none"/>
<path d="M550.60,442.50H679.50M566.32,442.50V445.80M578.84,442.50V445.80M591.36,442.50V445.80M603.88,442.50V445.80M616.40,442.50V445.80M628.92,442.50V445.80M641.44,442.50V445.80M653.96,442.50V445.80M666.48,442.50V445.80M679.00,442.50V445.80" stroke="#262626" stroke-width="1.35" fill="none"/>
<text transform="translate(548.80,445.40) scale(0.83,1)" text-anchor="end" class="tk">0</text>
<text transform="translate(548.80,423.88) scale(0.83,1)" text-anchor="end" class="tk">1</text>
<text transform="translate(548.80,402.35) scale(0.83,1)" text-anchor="end" class="tk">2</text>
<text transform="translate(548.80,380.82) scale(0.83,1)" text-anchor="end" class="tk">3</text>
<text transform="translate(548.80,359.30) scale(0.83,1)" text-anchor="end" class="tk">4</text>
<text transform="translate(553.80,454.20) scale(0.83,1)" text-anchor="middle" class="tk">0</text>
<text transform="translate(566.32,454.20) scale(0.83,1)" text-anchor="middle" class="tk">2</text>
<text transform="translate(578.84,454.20) scale(0.83,1)" text-anchor="middle" class="tk">4</text>
<text transform="translate(591.36,454.20) scale(0.83,1)" text-anchor="middle" class="tk">6</text>
<text transform="translate(603.88,454.20) scale(0.83,1)" text-anchor="middle" class="tk">8</text>
<text transform="translate(616.40,454.20) scale(0.83,1)" text-anchor="middle" class="tk">10</text>
<text transform="translate(628.92,454.20) scale(0.83,1)" text-anchor="middle" class="tk">12</text>
<text transform="translate(641.44,454.20) scale(0.83,1)" text-anchor="middle" class="tk">14</text>
<text transform="translate(653.96,454.20) scale(0.83,1)" text-anchor="middle" class="tk">16</text>
<text transform="translate(666.48,454.20) scale(0.83,1)" text-anchor="middle" class="tk">18</text>
<text transform="translate(679.00,454.20) scale(0.83,1)" text-anchor="middle" class="tk">20</text>
<text x="616.40" y="465.20" text-anchor="middle" class="xl">age / years-old</text>
<text transform="translate(539.30,399.75) rotate(-90)" text-anchor="middle" textLength="105.90" lengthAdjust="spacingAndGlyphs" class="yl2">growth rate of IPVV<tspan class="sb" dy="1.8">LLL</tspan><tspan dy="-1.8" style="font-size:7.1px"> (mL/year)</tspan></text>
<text x="514.60" y="353.40" class="lt">h'</text>
</svg>
</body></html>
